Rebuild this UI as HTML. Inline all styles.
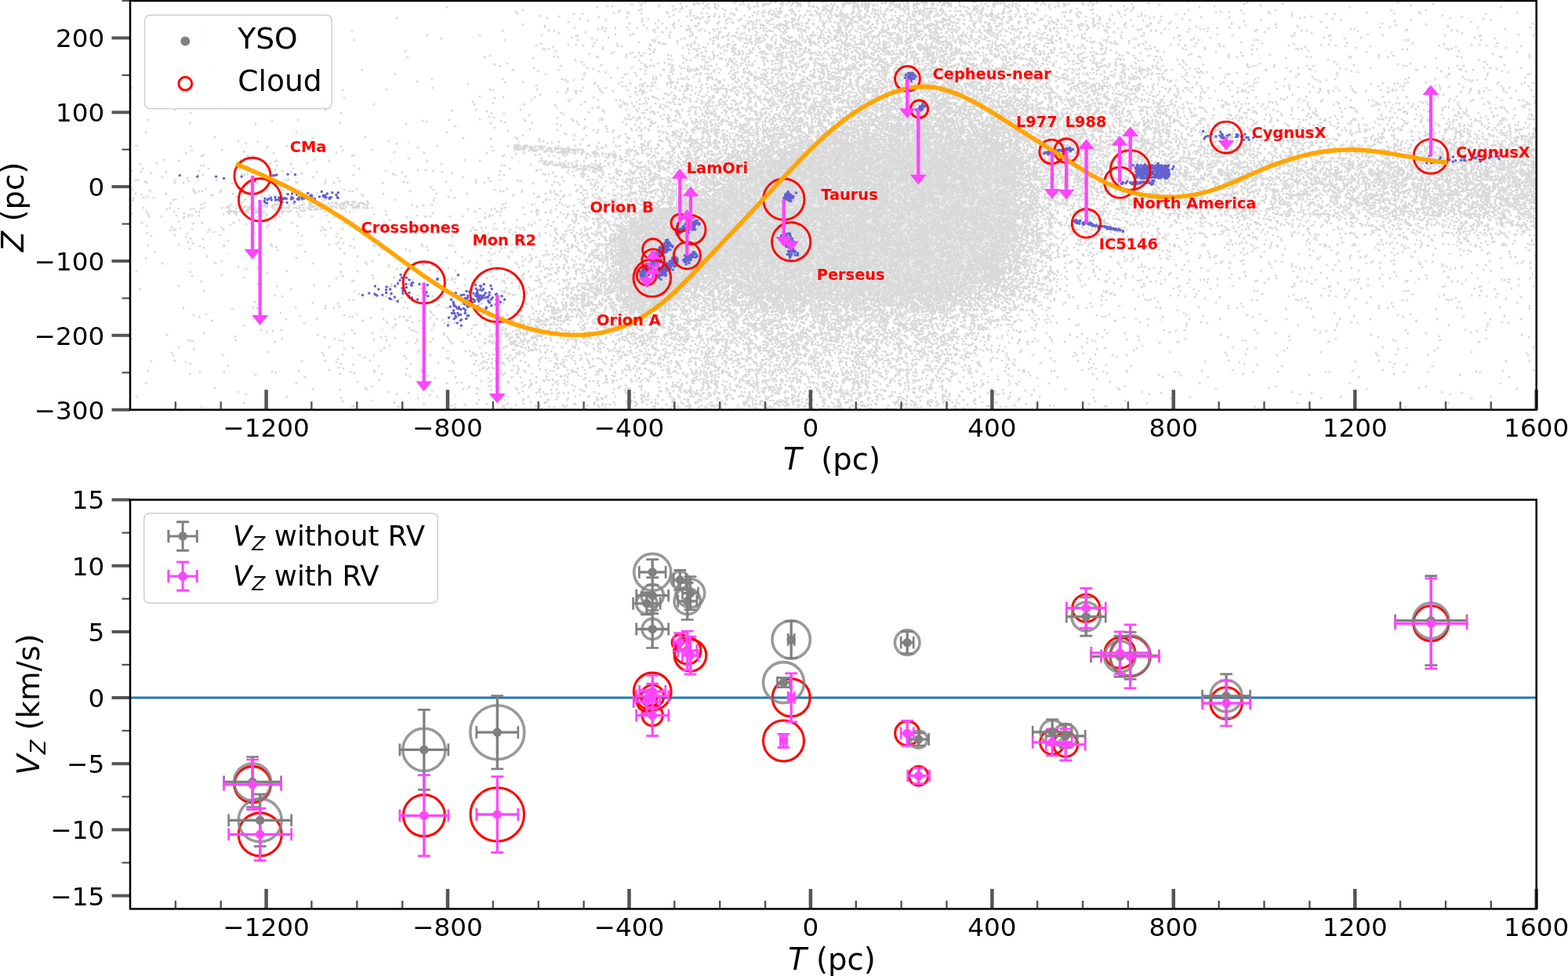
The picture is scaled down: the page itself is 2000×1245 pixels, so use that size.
<!DOCTYPE html>
<html><head><meta charset="utf-8"><title>YSO vertical waves</title><style>html,body{margin:0;padding:0;background:#fff;overflow:hidden}svg{display:block}</style></head><body>
<svg width="2000" height="1245" viewBox="0 0 2000 1245">
<rect width="2000" height="1245" fill="#fff"/>
<defs><clipPath id="clipTop"><rect x="166" y="1" width="1793.7" height="521.7"/></clipPath>
<path id="d0" d="M122 23h0m-57 16h0m96 6h0m-93 6h0m65 14h0m3 8h0m-58 16h0m42 6h0m28 9h0m-95 11h0m2 10h0m113-13h0m-141 18h0m24 14h0m104 10h0m34-1h0"/>
<path id="d1" d="M186 9h0m-150 36h0m143 4h0m-75 25h0m-49 8h0m13 23h0m99-4h0m-58 13h0m-78 26h0m62-7h0m-43 24h0"/>
<path id="d2" d="M82 15h0m30 5h0m37 8h0m25-2h0m-55 8h0m18 8h0m22 15h0m-117 16h0m89-1h0m-69 12h0m9-3h0m8 8h0m-58 18h0m87 2h0m33-8h0m-105 22h0m13-9h0m-48 27h0m28-8h0m16 9h0m148-1h0m-130 13h0m31 0h0m5-7h0m35 11h0m26-3h0"/>
<path id="d3" d="M5 1h0m86 12h0m-76 3h0m36 11h0m40 4h0m46-10h0m-120 23h0m36-12h0m115 26h0m-137 12h0m18 1h0m117 8h0m-162 13h0m16-5h0m153 0h0m-82 18h0m65-3h0m-50 22h0m52-8h0m1 0h0m-10 13h0m-113 23h0m31-7h0m-62 16h0"/>
<path id="d4" d="M162 -1h0m-90 8h0m67-7h0m-89 17h0m34 0h0m-17 21h0m48 7h0m4-12h0m38 2h0m-40 27h0m3 1h0m9-3h0m20-3h0m36 15h0m-186 11h0m106 4h0m34-3h0m52-1h0m-161 27h0m35-9h0m1 23h0m36 3h0m-49 5h0m-5 17h0m6 1h0m14 6h0m94 3h0m-23 1h0"/>
<path id="d5" d="M55 3h0m45 2h0m64 19h0m3-6h0m-122 17h0m79 4h0m7 0h0m28 7h0m-158 15h0m66 2h0m7-8h0m34 3h0m6-2h0m47-5h0m19 8h0m13 2h0m-178 5h0m16 7h0m139 20h0m18-2h0m-133 15h0m114-10h0m-155 20h0m29-4h0m70 9h0m22-4h0m-88 21h0m46 15h0m61-1h0"/>
<path id="d6" d="M47 13h0m-12 17h0m37-4h0m-72 11h0m32-2h0m160 2h0m-172 22h0m104 3h0m29-14h0m-106 19h0m19 17h0m44 7h0m59-9h0m-126 35h0m23 7h0m27-11h0m55 2h0m3 12h0m14-11h0m25 0h0m-165 18h0m13-3h0m37 2h0m6 3h0m7 4h0m-87 13h0m44-2h0m19 6h0m39 0h0m51-5h0m39 1h0"/>
<path id="d7" d="M32 15h0m19-10h0m10-4h0m51 16h0m16 5h0m28-4h0m-152 22h0m1-4h0m12 0h0m75-1h0m20 11h0m75-9h0m-179 11h0m53 15h0m3-12h0m118 4h0m-24 21h0m29-3h0m-98 12h0m31 2h0m1 7h0m15-5h0m45-1h0m-145 18h0m26 4h0m40 0h0m15-12h0m28 4h0m42 8h0m-41 8h0m13 1h0m-127 14h0m41 3h0m18-6h0m41 4h0m2 3h0m31-4h0m22-5h0m1 9h0m-53 13h0m5-6h0m-79 17h0"/>
<path id="d8" d="M13 8h0m8 7h0m114-9h0m36-4h0m-139 20h0m54-1h0m28 5h0m3-6h0m71 2h0m-111 19h0m5-5h0m33 6h0m27-5h0m29 4h0m-124 13h0m15 4h0m123-7h0m-9 18h0m-147 26h0m3-1h0m78-3h0m21-7h0m3 4h0m-76 22h0m45-9h0m17 10h0m18-13h0m-105 17h0m9 3h0m20-3h0m60 11h0m26-13h0m33 11h0m8-11h0m-132 19h0m11 0h0m107 11h0"/>
<path id="d9" d="M7 8h0m16 5h0m15-7h0m12 6h0m23-4h0m26 6h0m73-1h0m-167 12h0m129 4h0m13 1h0m-146 5h0m76 6h0m9 4h0m21-7h0m5-1h0m61 0h0m9-3h0m11 1h0m-192 28h0m18-7h0m6 3h0m42-6h0m5 1h0m6 2h0m23-6h0m68 13h0m24 0h0m-132 6h0m23 1h0m81 7h0m8-7h0m-118 14h0m1 1h0m34-2h0m36 1h0m16 7h0m9-2h0m14-3h0m-140 19h0m1-6h0m25 8h0m13-1h0m5-7h0m64 8h0m6 4h0m44-6h0m-182 13h0m47-2h0m50 10h0m11-14h0m84 6h0m-164 14h0m11 3h0m4-5h0m43 1h0m33 6h0m66 0h0m-126 15h0m73-7h0m10 1h0"/>
<path id="d10" d="M31 -1h0m-16 7h0m32-4h0m30-1h0m67 8h0m2 2h0m2-4h0m21-3h0m18 2h0m-170 20h0m17-9h0m17 7h0m8 0h0m9 6h0m24-1h0m16-8h0m28 5h0m-96 17h0m31-8h0m30-2h0m8 5h0m74-5h0m5 6h0m-127 18h0m48 0h0m67-6h0m-164 17h0m27-1h0m12 4h0m3-3h0m34 3h0m50 5h0m-96 17h0m13 1h0m3-8h0m125 6h0m-147 14h0m114-3h0m32 4h0m-131 10h0m5 1h0m74 5h0m42-8h0m-169 28h0m15-15h0m5 0h0m55 11h0m5-9h0m37-1h0m7-1h0m5 3h0m10 8h0m28-9h0m10 8h0m-154 18h0m5 3h0m9-9h0m37 2h0m9-2h0m62 2h0m22 0h0m-93 9h0"/>
<path id="d11" d="M6 4h0m24 7h0m19-4h0m41 1h0m4 3h0m7 0h0m1-2h0m19-5h0m15 6h0m18 1h0m3 2h0m-122 3h0m6 5h0m135 4h0m9 2h0m2 3h0m-156 2h0m3 6h0m23-2h0m11 5h0m79-4h0m-44 24h0m62 1h0m23-11h0m1 3h0m-153 14h0m11 9h0m74-6h0m-83 15h0m11 2h0m63 3h0m15-5h0m41 3h0m22 4h0m-179 6h0m33-3h0m5 5h0m20 0h0m42 8h0m23-7h0m-129 10h0m78 8h0m-27 20h0m2 0h0m4-3h0m4 6h0m46-2h0m23-2h0m37-7h0m1 6h0m-144 13h0m5-5h0m50 10h0m1-3h0m13-8h0m55 9h0m23-5h0"/>
<path id="d12" d="M145 -1h0m-37 9h0m36-3h0m4-4h0m33 5h0m-180 23h0m30-8h0m24-1h0m22 10h0m14-11h0m7 7h0m21-3h0m4 7h0m1 0h0m3-13h0m7 0h0m9 4h0m15 5h0m35 3h0m-157 4h0m85 0h0m23 6h0m2 7h0m12-10h0m14 6h0m10-6h0m2 9h0m-181 7h0m12-1h0m23-2h0m2 12h0m0 1h0m3-10h0m43-4h0m10 7h0m9-6h0m18 9h0m45 4h0m2-5h0m-161 10h0m2 6h0m54-7h0m20 9h0m4 1h0m22-8h0m17 8h0m13-10h0m-117 27h0m26-13h0m5 10h0m25-10h0m19 4h0m33 3h0m52-5h0m1 5h0m1 6h0m-160 17h0m22-1h0m37-12h0m3 7h0m18-4h0m3 7h0m17 4h0m38-13h0m6 6h0m7 7h0m9-12h0m-179 26h0m46-7h0m96-5h0m-150 25h0m23-3h0m26-2h0m14 10h0m2-1h0m30 0h0m18-4h0m14 2h0m17 2h0m48-4h0m-192 13h0m33 1h0m2-4h0m32 10h0m13-12h0m51 7h0m1-5h0m14 11h0m46-8h0m-43 10h0"/>
<path id="d13" d="M21 15h0m23-9h0m44-5h0m14 10h0m19-11h0m8 11h0m0-7h0m11-4h0m36 6h0m-177 22h0m6-1h0m36 0h0m9 2h0m0-5h0m21 0h0m42-8h0m56 3h0m17 11h0m5-2h0m-176 5h0m18-1h0m9 6h0m9-4h0m0-2h0m17 2h0m2 13h0m20-15h0m20 1h0m-74 15h0m0 9h0m13-3h0m11 8h0m58-9h0m2-5h0m28 12h0m7-1h0m29 1h0m6-11h0m-171 28h0m12-5h0m32 4h0m3-9h0m56 4h0m10-6h0m11 6h0m23-6h0m17 11h0m5-12h0m-67 25h0m4 6h0m6-11h0m1 10h0m11-4h0m1-1h0m17-7h0m18-1h0m-137 25h0m10 2h0m0 2h0m13-12h0m20 2h0m3 6h0m39 2h0m28 1h0m24-11h0m-134 23h0m14 5h0m19 0h0m7-5h0m19-1h0m19 1h0m39 4h0m8-13h0m7 0h0m11 7h0m-164 18h0m17-1h0m15-7h0m30 2h0m53 12h0m-95 11h0m114-10h0m9 4h0m4 9h0m-83 4h0m33-1h0m19 0h0"/>
<path id="d14" d="M13 -1h0m171-1h0m-182 11h0m11-4h0m2 1h0m22-2h0m10-1h0m61-2h0m5 12h0m4-8h0m1 1h0m6-1h0m8 3h0m39 3h0m23-2h0m-180 12h0m24 10h0m18-1h0m2-4h0m1-4h0m16-3h0m60 3h0m14-1h0m15-4h0m-160 28h0m6-9h0m16 11h0m4-2h0m14-9h0m19-3h0m24 8h0m62 0h0m7-6h0m13 11h0m-170 9h0m9-5h0m10 10h0m13 1h0m9-12h0m22 13h0m19-6h0m37-1h0m14 6h0m9-5h0m4-8h0m3 10h0m0-8h0m14 6h0m29-1h0m-186 16h0m21 7h0m9 1h0m95-7h0m12-3h0m-128 20h0m12 1h0m59-8h0m2 0h0m0 10h0m1-4h0m2 6h0m1-5h0m9 5h0m9-6h0m24-8h0m6 14h0m-136 9h0m24 7h0m3-1h0m35 0h0m10-13h0m8 12h0m14-7h0m11-3h0m64 7h0m-174 10h0m12 12h0m12-12h0m12 1h0m14 11h0m3-7h0m21 7h0m8-8h0m14 5h0m18 2h0m31-13h0m13 10h0m31 0h0m0-5h0m2 7h0m1-10h0m0 10h0m-181 3h0m3 11h0m10-11h0m22 12h0m69-11h0m2 7h0m17 7h0m44-11h0m-166 19h0m3 8h0m23-7h0m18-8h0m30 3h0m1 7h0m28-3h0m7 1h0m24-4h0m1 0h0m16 2h0m23 8h0m3-3h0m-79 6h0"/>
<path id="d15" d="M42 -1h0m-26 1h0m3 5h0m31 9h0m10-8h0m2-6h0m58 2h0m6 1h0m62 9h0m-168 15h0m3-1h0m6-9h0m1 3h0m29 10h0m13-5h0m25-1h0m2 3h0m1-10h0m13 2h0m9 3h0m3 2h0m7 4h0m27-3h0m7 3h0m1 1h0m15-9h0m7 7h0m-175 9h0m4 4h0m24-7h0m1-1h0m50 9h0m6 6h0m13-11h0m1 4h0m14-3h0m22 6h0m6 4h0m25-14h0m-182 20h0m11-4h0m0 13h0m25-1h0m13-13h0m5 5h0m44-1h0m17 7h0m22-3h0m3-6h0m4-2h0m25 12h0m3 2h0m13-13h0m1 6h0m5-5h0m1 3h0m-175 14h0m11 2h0m9 8h0m2-3h0m2 0h0m25-5h0m16-2h0m22 4h0m20-2h0m13 10h0m8-6h0m8 1h0m5-10h0m12 2h0m10 8h0m1 2h0m4-2h0m2-5h0m-152 19h0m14 5h0m3-5h0m21-5h0m18 8h0m32-3h0m14 6h0m45-4h0m-178 7h0m31 6h0m8 1h0m42 2h0m3-9h0m1 4h0m9 4h0m5-5h0m77 7h0m16-10h0m-172 30h0m4-14h0m2 9h0m15 2h0m1-11h0m20 10h0m25-5h0m19 8h0m1-13h0m18 1h0m14 9h0m34-6h0m-161 22h0m7 0h0m50 4h0m63-11h0m12 7h0m11 1h0m33-11h0m-178 18h0m5 9h0m25 3h0m0-12h0m6 4h0m63-5h0m11 10h0m4-3h0m10-4h0m0 1h0m4-5h0m9 12h0m27-13h0m2 4h0m7 6h0m2 4h0m1-7h0m-172 9h0m46 0h0"/>
<path id="d16" d="M5 -1h0m101 0h0m-101 8h0m19-4h0m14 4h0m51 6h0m26-6h0m14 0h0m1 1h0m9-1h0m1-3h0m4 2h0m5-5h0m17 0h0m13 2h0m-175 28h0m6 0h0m2-15h0m2 5h0m8 10h0m31-7h0m1 2h0m32 0h0m4 4h0m20 0h0m2-5h0m2-7h0m3 8h0m10 4h0m9-5h0m8-7h0m6 4h0m28 2h0m-155 15h0m11-2h0m16 10h0m37-2h0m3-12h0m0 5h0m22-1h0m36 10h0m3-6h0m27 2h0m3-1h0m-180 21h0m36-4h0m12 2h0m10-6h0m8 6h0m11-8h0m33 10h0m31-11h0m25 1h0m19 2h0m7 8h0m-190 15h0m11-6h0m3 2h0m2 4h0m5 0h0m8-2h0m2-7h0m17-3h0m0 12h0m22-14h0m21 3h0m2 1h0m12 9h0m5 0h0m15-5h0m4 7h0m21-4h0m21-10h0m6 4h0m-180 15h0m0-3h0m14 13h0m15-13h0m14 14h0m10-14h0m4 8h0m3 6h0m4-4h0m5-5h0m22-1h0m10 2h0m3-7h0m5 10h0m1-5h0m4 4h0m2 0h0m3 1h0m17-6h0m10-2h0m2 5h0m11-3h0m1-3h0m7 14h0m25-14h0m0 3h0m-187 26h0m41-10h0m1 11h0m39-6h0m2 2h0m8-1h0m28-5h0m10-2h0m6 0h0m32 6h0m-173 13h0m3 5h0m14 1h0m44-4h0m9 5h0m1-12h0m29 2h0m6 1h0m49 5h0m3 3h0m1-11h0m13 6h0m13-7h0m7 6h0m3 5h0m-189 13h0m31-7h0m43 5h0m5 2h0m13 6h0m23-12h0m4 7h0m24-3h0m5 3h0m2-3h0m9 5h0m2-2h0m8 3h0m-169 19h0m26-13h0m28 6h0m16-4h0m21-3h0m10 14h0m9-5h0m0 2h0m4 0h0m7-1h0m2-8h0m7-3h0m23 10h0m24-7h0m-33 14h0m17 0h0"/>
<path id="d17" d="M17 6h0m19 4h0m1 5h0m21-11h0m0 2h0m24 3h0m13 4h0m2-5h0m1 6h0m3 0h0m33-5h0m2 5h0m2 0h0m9-1h0m12-6h0m-159 13h0m13 0h0m13-2h0m25 9h0m0-3h0m35-3h0m3 6h0m12-7h0m9-1h0m11-1h0m5 0h0m30 3h0m3 9h0m2-7h0m31-3h0m-194 26h0m8-4h0m6-10h0m2 7h0m2 6h0m15-10h0m28 10h0m44-10h0m1 11h0m5-3h0m1-3h0m9 4h0m2 1h0m14-9h0m16 0h0m15 10h0m4 0h0m20 0h0m-180 8h0m4-6h0m4 9h0m5 6h0m19-4h0m3-7h0m14 5h0m33-2h0m1-5h0m20 10h0m13-3h0m16-2h0m19-5h0m-142 19h0m3-5h0m30 11h0m4-6h0m6 8h0m3-2h0m15 1h0m5 0h0m21-1h0m7 2h0m4-5h0m1 1h0m3-8h0m6 2h0m20 4h0m23-3h0m5 1h0m7 9h0m5 1h0m2-14h0m-181 22h0m9 2h0m7-1h0m36-8h0m5 12h0m9-1h0m4 3h0m1-10h0m1-1h0m8-1h0m17-1h0m7 7h0m11 1h0m3 4h0m23 0h0m13 1h0m2-3h0m2-6h0m6-2h0m-166 18h0m9-2h0m2-3h0m1 12h0m32 1h0m8-2h0m3 3h0m2 0h0m9-1h0m8-2h0m1-1h0m7 5h0m3-15h0m2 13h0m17-8h0m4 9h0m40-1h0m7 0h0m7 2h0m1-11h0m2 11h0m4-1h0m0-7h0m-154 10h0m8 1h0m7 4h0m4-4h0m19-1h0m4 0h0m3 12h0m2 0h0m1-7h0m7 1h0m16 3h0m1 0h0m1-10h0m4 15h0m21-8h0m29-5h0m7-1h0m3 9h0m11-5h0m-152 26h0m3-12h0m4 4h0m19 1h0m11 6h0m1-2h0m4-8h0m16 5h0m27 3h0m25-8h0m3 5h0m13 5h0m2-7h0m6-2h0m5-3h0m2 12h0m-154 10h0m1-8h0m2 12h0m6-11h0m3 9h0m10-1h0m8-4h0m28 7h0m21-4h0m4 4h0m13-6h0m20 4h0m13 1h0m7-9h0m13 10h0m9 2h0m18-11h0"/>
<path id="d18" d="M107 -1h0m10-1h0m8 0h0m-126 4h0m22 3h0m8-2h0m6 11h0m0-3h0m1-6h0m2-1h0m33-2h0m2 12h0m11-13h0m7 10h0m24-6h0m1 4h0m12 5h0m6-13h0m6 7h0m7 7h0m26-3h0m9-12h0m7 10h0m2-8h0m-170 16h0m4 2h0m18 10h0m3-2h0m8-10h0m7 2h0m2 9h0m10-10h0m9-1h0m5 5h0m5 7h0m13-1h0m1-9h0m3 11h0m6-8h0m5-2h0m6 5h0m3-10h0m9 9h0m0-3h0m9 5h0m12 0h0m0-10h0m10 1h0m-165 17h0m14 5h0m28-4h0m6 0h0m20 0h0m25 3h0m3 4h0m11-5h0m8 5h0m3-10h0m16 0h0m2 0h0m20 12h0m2-3h0m15 2h0m11-6h0m-183 11h0m2 5h0m12 7h0m1 1h0m2-4h0m2-7h0m5 11h0m9-1h0m1-9h0m7 1h0m3 9h0m1-9h0m5 0h0m5-5h0m4 0h0m7 1h0m1 1h0m8 5h0m4-5h0m17 10h0m7-8h0m0 9h0m3 2h0m9-4h0m10-6h0m22 8h0m8-4h0m0 3h0m13-11h0m3-1h0m-177 19h0m20 11h0m17 1h0m2-1h0m14-5h0m10-2h0m20 3h0m21 5h0m23-13h0m4 10h0m4-9h0m8 8h0m8 0h0m1-7h0m8-3h0m5 10h0m0 1h0m3-10h0m4 13h0m8-14h0m1 3h0m9-1h0m2 0h0m-176 15h0m10 0h0m7 13h0m0-14h0m4 3h0m2 10h0m18-14h0m4 5h0m5-2h0m13-3h0m27 12h0m7 2h0m17-12h0m1 6h0m13 2h0m25-9h0m5 11h0m-168 6h0m7-2h0m1 4h0m2 1h0m17 6h0m9 2h0m26 1h0m10-12h0m19 1h0m6 1h0m1 10h0m43-9h0m21-1h0m23-4h0m-186 24h0m10-4h0m3 4h0m20 7h0m7-15h0m2 10h0m11-1h0m7 1h0m1-2h0m26 7h0m0-14h0m2 13h0m11-2h0m1 0h0m20-7h0m8 4h0m6 6h0m13-15h0m8 2h0m13 7h0m7-2h0m2 7h0m-137 8h0m16-1h0m5 0h0m2-2h0m11 4h0m16 6h0m17-12h0m6 8h0m18-9h0m1 1h0m13 2h0m10 6h0m6 6h0m2-3h0m-162 15h0m4-11h0m6 7h0m9 4h0m27-11h0m4 6h0m27 1h0m8 3h0m3-6h0m13 11h0m10-1h0m3-12h0m5 12h0m23-5h0m1-3h0m4-6h0m5 3h0m25 4h0m-99 10h0m50 0h0m48-1h0"/>
<path id="d19" d="M141 -1h0m4-1h0m37 1h0m-175 16h0m8-1h0m12 0h0m16-13h0m13 2h0m1 5h0m20 0h0m31 0h0m10-6h0m14 3h0m4 9h0m8-4h0m20-10h0m-162 16h0m4 2h0m3 8h0m10 3h0m5-4h0m1-7h0m1 13h0m0-7h0m7-6h0m1 4h0m8-3h0m25 0h0m31-1h0m7 0h0m1 1h0m3 10h0m4-8h0m13 10h0m13-6h0m4-2h0m35-3h0m10 6h0m-188 6h0m19 14h0m2-7h0m4 1h0m3 4h0m15-11h0m2 13h0m15-9h0m14 8h0m2-1h0m12-3h0m9-3h0m7 1h0m19 2h0m10-1h0m6-3h0m3 0h0m5 0h0m30 5h0m7-10h0m1 2h0m7-2h0m-185 27h0m3-6h0m0-5h0m13 9h0m6-1h0m6 1h0m10-1h0m4 6h0m7-8h0m11 0h0m1 7h0m6-10h0m1 3h0m5 2h0m14-1h0m13-7h0m17 9h0m3-6h0m2 9h0m8 3h0m2-12h0m1 6h0m17-1h0m-129 16h0m4-4h0m3-4h0m3 6h0m12-5h0m7 8h0m3 4h0m6-2h0m2-9h0m5 8h0m8-5h0m2 1h0m3-3h0m32 3h0m18 4h0m5-2h0m4 1h0m2-3h0m7-1h0m8 9h0m1-3h0m5-5h0m1 5h0m6-6h0m0-3h0m-164 29h0m6-5h0m13-1h0m7-8h0m2 6h0m2-1h0m10 7h0m36 0h0m1-5h0m3 6h0m4-6h0m10 5h0m2-5h0m20-1h0m10-4h0m1 1h0m4 8h0m46 2h0m-185 4h0m10 7h0m2-4h0m7 1h0m3 0h0m7-3h0m5 8h0m2-2h0m5 1h0m8-6h0m21-4h0m26 4h0m2-3h0m2 0h0m2 1h0m2 11h0m4-3h0m4-7h0m9 5h0m12-6h0m0 2h0m15 5h0m15-4h0m4-3h0m15 8h0m-176 20h0m5 1h0m4-9h0m21 1h0m3-1h0m9-2h0m1 4h0m25-5h0m3-3h0m7 8h0m10-6h0m4 5h0m5-7h0m1 4h0m1-3h0m7 2h0m12 8h0m8-11h0m5 2h0m2 8h0m1 2h0m5-6h0m16-3h0m23 5h0m-175 20h0m3-6h0m5-6h0m7 1h0m6-1h0m4 13h0m5-1h0m16-3h0m3-5h0m6 1h0m13-1h0m1-3h0m7 14h0m10-10h0m2 0h0m5-3h0m5 12h0m22-1h0m2-7h0m2-3h0m2 5h0m3-5h0m0 4h0m15 6h0m14-7h0m4 6h0m9-1h0m1 2h0m1-7h0m1 3h0m-169 8h0m21 9h0m14 3h0m45-13h0m7 11h0m5 2h0m19-12h0m2 11h0m9 1h0m1-4h0m1 6h0m4-1h0m5-10h0m32 11h0m5-7h0m-144 9h0m121-1h0"/>
<path id="d20" d="M3 13h0m4-1h0m10 3h0m3-2h0m6-7h0m4 5h0m0-5h0m22 9h0m0-13h0m7 12h0m2-6h0m0-3h0m9-5h0m5 0h0m3 9h0m13 0h0m3-2h0m11-2h0m11 0h0m12 4h0m7 3h0m4-6h0m7 0h0m0 8h0m17-4h0m12-2h0m1-4h0m12 1h0m-159 16h0m14 6h0m2-7h0m25 9h0m7-9h0m8-1h0m9-3h0m6 7h0m17 6h0m13-8h0m16-1h0m7 11h0m35-6h0m0-5h0m-186 20h0m8-7h0m2 12h0m1-13h0m14 4h0m2-2h0m10 2h0m4 5h0m3-4h0m12 2h0m12 7h0m17 0h0m22-12h0m3 0h0m12 6h0m1 5h0m5 1h0m10-8h0m2 6h0m10-4h0m29-4h0m13 4h0m-191 17h0m2-2h0m1-4h0m2-1h0m4 3h0m3-2h0m8 10h0m1-12h0m5 7h0m8 2h0m4 2h0m6-12h0m3 9h0m2 1h0m2 3h0m1-9h0m0-1h0m16 12h0m3-5h0m23-10h0m7 2h0m14 13h0m2-13h0m1 9h0m2-1h0m5 1h0m4-2h0m23 4h0m28-4h0m-173 9h0m4 9h0m3-6h0m18 0h0m4-2h0m4 0h0m17 5h0m7-6h0m6 10h0m11-10h0m8 9h0m10 1h0m4-6h0m2 9h0m1-3h0m4-11h0m3 5h0m0 1h0m9 3h0m6-1h0m5 1h0m5-8h0m15 9h0m6-1h0m13-5h0m13-1h0m-173 14h0m0-1h0m19 8h0m0 2h0m2-4h0m15 8h0m12-9h0m1 5h0m4-3h0m27 0h0m1 6h0m13-1h0m5-9h0m4 4h0m4 5h0m1-6h0m2 2h0m3-8h0m25 2h0m1 1h0m10-1h0m1 7h0m2 5h0m9-11h0m1-3h0m5 11h0m5-9h0m-179 16h0m10-1h0m0 4h0m6 4h0m10-1h0m4 1h0m2 3h0m8 2h0m5 0h0m9-8h0m8-3h0m6-4h0m3 13h0m11-10h0m6-2h0m2-1h0m11 7h0m9-2h0m11-4h0m14 11h0m2-12h0m0 13h0m4-3h0m36-6h0m-161 24h0m2 2h0m6-14h0m22 2h0m15 13h0m12-2h0m2-9h0m17-3h0m4 1h0m12 13h0m21-3h0m4 1h0m3-10h0m2-2h0m6 0h0m10 10h0m10-2h0m11-2h0m3 2h0m-182 21h0m13-4h0m8-7h0m12-2h0m0-1h0m13 0h0m5 9h0m17 2h0m2-2h0m0 6h0m10-1h0m44-12h0m8 11h0m1-6h0m0-5h0m20 2h0m5 7h0m2-1h0m7 2h0m2-7h0m5-3h0m-165 25h0m24-4h0m8 5h0m5-9h0m4 7h0m2 3h0m3-4h0m13-8h0m2-1h0m12 11h0m11 1h0m22-12h0m18 1h0m1 10h0m7-10h0m2 4h0m23 5h0m3-8h0m0 8h0m15-9h0m-136 17h0m18-2h0m5 0h0"/>
<path id="d21" d="M23 -1h0m2-1h0m76 1h0m30 0h0m-132 12h0m1 2h0m1-7h0m5 5h0m11-3h0m1 2h0m7 4h0m24-2h0m3-6h0m18 8h0m2-10h0m5 4h0m3 6h0m4-3h0m6-9h0m2 0h0m1 8h0m14 3h0m15-10h0m8 0h0m4-1h0m0 6h0m10-6h0m2 7h0m9-3h0m1 9h0m7-1h0m13 0h0m1-1h0m2-8h0m3 10h0m2-9h0m0 3h0m3-1h0m4 3h0m1 2h0m1-7h0m-185 15h0m4-2h0m3 0h0m2 10h0m5-13h0m11 2h0m10 11h0m11-11h0m2 13h0m3 0h0m6-9h0m10-4h0m19 9h0m3-5h0m2 6h0m6 0h0m11-6h0m2 7h0m6-1h0m21 2h0m7-13h0m14 11h0m14-2h0m-171 9h0m1 4h0m4 1h0m7 6h0m14-14h0m0 7h0m3 2h0m2-9h0m1 8h0m18-8h0m2 5h0m2 4h0m12 6h0m9-13h0m4 6h0m9 6h0m10-5h0m1-2h0m2 3h0m3 1h0m4 4h0m2-9h0m1-2h0m2-4h0m40 9h0m3 1h0m2-8h0m5-2h0m2 10h0m-168 21h0m15-7h0m8-2h0m1-3h0m12-1h0m0 4h0m7-6h0m3 5h0m4 4h0m4-3h0m1 3h0m53-4h0m4 5h0m21-5h0m3 3h0m3 6h0m5-7h0m1 0h0m2-4h0m7 11h0m2-1h0m6 2h0m2-3h0m5 0h0m4-8h0m2 1h0m8-4h0m-190 19h0m0 2h0m14-5h0m1 13h0m0-1h0m1-3h0m15 2h0m2-11h0m1 6h0m5 0h0m10 8h0m7-14h0m5-1h0m11 3h0m4 9h0m0-3h0m1 2h0m14-1h0m13 3h0m24-1h0m9-8h0m8-2h0m1 8h0m4 0h0m5-4h0m6 0h0m2 6h0m1-1h0m4 4h0m24-11h0m0 2h0m-192 25h0m17-1h0m3-1h0m17 2h0m6-10h0m5-2h0m2 2h0m38-2h0m4 10h0m3-11h0m31 8h0m5-4h0m10-4h0m3-2h0m5 6h0m10-3h0m9 9h0m5-2h0m9 3h0m10 2h0m-189 13h0m1-10h0m8 9h0m5-6h0m0-5h0m17 10h0m4 0h0m0 4h0m13-14h0m1 6h0m2-6h0m8 15h0m0-15h0m1 7h0m2 1h0m3 0h0m2 6h0m10-1h0m9 2h0m11-10h0m0 6h0m7-2h0m1-3h0m11-2h0m5 10h0m1-3h0m17 2h0m10-12h0m7 4h0m3 3h0m0-8h0m1 1h0m4 11h0m8-7h0m8 9h0m4-9h0m1 2h0m0-1h0m7 6h0m-192 16h0m4 0h0m3-1h0m11-4h0m3-7h0m6 5h0m15 7h0m10 2h0m3-12h0m11 3h0m7-5h0m1 7h0m19 0h0m3 1h0m18-5h0m13-2h0m1 5h0m3 3h0m2-7h0m4-1h0m13 13h0m14-12h0m20 5h0m2 8h0m-159 5h0m2 5h0m11-7h0m1 1h0m1 5h0m3-1h0m0 4h0m4-8h0m9 0h0m11-3h0m3 8h0m1 2h0m3 3h0m12-3h0m24 3h0m5 1h0m1-5h0m22-7h0m12 0h0m5 12h0m0-14h0m7 0h0m3 0h0m16 12h0m3-9h0m-184 26h0m1-6h0m1-4h0m1 5h0m9-8h0m7 15h0m2-1h0m3-12h0m1 8h0m13-3h0m10-5h0m23-1h0m16 9h0m6 1h0m4 4h0m23-10h0m7 10h0m7-3h0m6-3h0m0-7h0m19 10h0m-29 6h0"/>
<path id="d22" d="M115 -1h0m37 0h0m-147 11h0m10-4h0m4 8h0m7 0h0m1-11h0m1 1h0m14 7h0m14-11h0m11 10h0m0 4h0m23-2h0m4-6h0m3 7h0m5-13h0m1 7h0m0-6h0m3-1h0m3 10h0m4 3h0m6-11h0m24 4h0m5 3h0m0-1h0m5-1h0m12-3h0m10 4h0m1-6h0m3-2h0m2 2h0m4-1h0m-181 29h0m3-7h0m0-5h0m2 4h0m3 3h0m5 5h0m3-12h0m0 13h0m6-11h0m0 7h0m10 3h0m12-11h0m3 5h0m5 1h0m5 2h0m2-6h0m2 7h0m12-7h0m1 10h0m0-6h0m9-8h0m3 13h0m6-9h0m13 0h0m3-5h0m4 2h0m3 1h0m8 6h0m2 2h0m2 1h0m2-8h0m4 0h0m5 8h0m0-6h0m3 7h0m14 1h0m2-10h0m6 1h0m2-3h0m0 6h0m1 4h0m10 3h0m5-3h0m1-1h0m-170 10h0m3 4h0m8-8h0m1 3h0m3-3h0m3 13h0m7-10h0m2 7h0m2 3h0m3-9h0m1 1h0m3 8h0m3-4h0m7-1h0m1-4h0m0 8h0m4-7h0m7 7h0m4 0h0m2 0h0m6-8h0m12 4h0m8 6h0m5-11h0m8 6h0m1 3h0m1 2h0m7-13h0m7-1h0m3 13h0m4-10h0m2 10h0m6-13h0m0 2h0m5 11h0m0 1h0m11-14h0m7 2h0m0 3h0m13 5h0m-180 7h0m8 1h0m3-3h0m3 14h0m1-4h0m6 3h0m4 2h0m3-13h0m3 4h0m4-6h0m3 13h0m1-11h0m3 11h0m7-1h0m0-12h0m2 6h0m15 9h0m1-11h0m1 3h0m10 3h0m4-9h0m5 7h0m4-3h0m0 9h0m5-1h0m5 1h0m3-10h0m3 8h0m7-4h0m4 1h0m1-7h0m12 11h0m0-6h0m1 1h0m5 2h0m13-3h0m1-7h0m10 9h0m1 5h0m1-9h0m2 2h0m14-3h0m1-4h0m1 1h0m-187 19h0m12 3h0m6 4h0m8-2h0m0-5h0m3 0h0m3-1h0m0 3h0m3 1h0m2-3h0m6 2h0m2 3h0m4-1h0m25-3h0m1-2h0m5 10h0m11-9h0m1-3h0m6 6h0m8 6h0m5-12h0m2 4h0m6 4h0m12 3h0m6-6h0m5 9h0m4-12h0m2 7h0m5 5h0m2-12h0m1 10h0m4-5h0m3 3h0m4-10h0m11 0h0m0 12h0m3-2h0m2-6h0m9-1h0m-194 12h0m7 9h0m2-3h0m8 7h0m6-5h0m6 0h0m2-3h0m0 4h0m7 1h0m7-3h0m25-5h0m10 7h0m5-9h0m6 5h0m0 8h0m5-9h0m6-3h0m9 2h0m2-3h0m8 7h0m2 6h0m8-10h0m0 4h0m14-4h0m3 7h0m6-8h0m9 8h0m3-6h0m20 2h0m6-6h0m-188 16h0m1 4h0m2 10h0m4-9h0m2 3h0m4 4h0m2 3h0m2 0h0m0-6h0m2 1h0m4-8h0m11-1h0m3 3h0m0 4h0m19 3h0m3-2h0m2-4h0m14-5h0m3 2h0m8 3h0m2 10h0m2-6h0m1-1h0m2 3h0m4 3h0m2 1h0m6-9h0m1 6h0m14 0h0m4 1h0m15 0h0m13 0h0m5-3h0m6-8h0m11 7h0m3 3h0m6-2h0m-186 8h0m7 9h0m12 4h0m6-11h0m2 10h0m6-3h0m0-7h0m2 6h0m3-3h0m12 1h0m18 3h0m1-5h0m1 2h0m3-6h0m18 8h0m5 2h0m15-12h0m6 10h0m6 3h0m13 0h0m12-9h0m6-1h0m4 8h0m1 3h0m6-8h0m1-3h0m15-1h0m7-1h0m2 1h0m2 0h0m-193 22h0m5-2h0m1-2h0m0-1h0m6 12h0m1-12h0m7 7h0m4-4h0m12 2h0m9-5h0m9 4h0m2 6h0m2 1h0m0-14h0m1 14h0m4-10h0m6 3h0m9 1h0m2-7h0m2 4h0m18-3h0m11 6h0m3-6h0m0 9h0m10-8h0m5 9h0m2 1h0m2-6h0m1-6h0m8 9h0m8-3h0m8-7h0m3 6h0m15 9h0m4-6h0m9-6h0m3 5h0m-182 15h0m1 2h0m1-6h0m2 2h0m9 6h0m1-3h0m13 4h0m0-12h0m4 1h0m3 8h0m10 4h0m8-12h0m20 10h0m0-5h0m3-6h0m1 14h0m6-10h0m7 5h0m18 6h0m1-10h0m6 6h0m8-6h0m22 6h0m0 4h0m10-8h0m-106 9h0m46 0h0m1 1h0m3-1h0m13 2h0m60-2h0m2 2h0m4-1h0"/>
<path id="d23" d="M177 -1h0m-172 5h0m1 0h0m8 7h0m3-4h0m1-4h0m3 11h0m4 1h0m2-3h0m0-3h0m1-9h0m2 3h0m2 8h0m3 0h0m1-1h0m3-5h0m0 6h0m3 3h0m7-2h0m0-1h0m4-5h0m1-2h0m4-3h0m3 12h0m23-6h0m4 5h0m5-2h0m13-5h0m1 3h0m6 7h0m2-15h0m2 12h0m0-1h0m26 0h0m2 0h0m1-6h0m3 0h0m4 9h0m1-2h0m6 1h0m9 1h0m9-10h0m1 8h0m3-3h0m-172 14h0m5 2h0m0 6h0m2-2h0m13-5h0m4 1h0m5-4h0m5-4h0m4 11h0m3-3h0m5 6h0m13-6h0m4-1h0m2-1h0m1-3h0m11-3h0m0 2h0m4 11h0m7-14h0m15 12h0m1-4h0m8 7h0m15-13h0m2 6h0m4-4h0m12 2h0m5-3h0m16 7h0m8-3h0m2 1h0m-187 17h0m10 4h0m3-1h0m5-2h0m4-1h0m8-7h0m3-2h0m1 7h0m2 3h0m9 5h0m5-5h0m6-1h0m15-2h0m1 8h0m10-11h0m1 11h0m0-5h0m2-8h0m2-1h0m4 11h0m6 2h0m5-10h0m1-3h0m2 0h0m3 12h0m3-7h0m6-6h0m30 14h0m4-11h0m2 11h0m2-7h0m7 7h0m4-6h0m1-3h0m2 4h0m5 2h0m2 2h0m3-10h0m8 11h0m0 1h0m5-6h0m-186 21h0m3-4h0m1 0h0m21 0h0m1 0h0m5-10h0m8 15h0m11-1h0m2-2h0m3-5h0m2 5h0m0 1h0m4-8h0m3 10h0m9-10h0m3-5h0m3 6h0m1-6h0m0 5h0m2 8h0m3-9h0m1-4h0m1 11h0m9-7h0m6 0h0m5-2h0m6 8h0m5-3h0m6-7h0m2 0h0m1 9h0m1 4h0m7-6h0m12-1h0m1 9h0m9-9h0m2 9h0m4-4h0m4 1h0m14-3h0m-188 13h0m2-1h0m2 9h0m2-13h0m0 8h0m1 2h0m6-5h0m2-4h0m3 4h0m11-6h0m3 0h0m0 2h0m2 0h0m1 6h0m3-3h0m0 8h0m2-1h0m3 2h0m1-3h0m4-10h0m3-1h0m3 1h0m3 11h0m7-9h0m3 4h0m2-2h0m4-3h0m6 2h0m10 0h0m8-2h0m7 1h0m6 1h0m10 0h0m1 8h0m2-2h0m9-10h0m10 4h0m1-4h0m1 4h0m5 3h0m7 7h0m3-12h0m7 3h0m4 7h0m4-11h0m5 5h0m11-2h0m1-2h0m0 2h0m1 2h0m2-1h0m2 9h0m-191 3h0m5 7h0m4 5h0m3-3h0m3-10h0m3 11h0m0 2h0m2 0h0m4 2h0m0-5h0m5-7h0m3 8h0m17-7h0m13 0h0m1 8h0m13 0h0m11-9h0m0-2h0m2 3h0m4 7h0m2 0h0m8 3h0m13-14h0m4 3h0m7 0h0m8-1h0m17 3h0m14 6h0m0-2h0m2-4h0m2-3h0m9 5h0m1-4h0m2 10h0m1 2h0m3-1h0m-188 4h0m4 4h0m9-4h0m6 4h0m1 5h0m2-8h0m9-3h0m5 1h0m7 1h0m0-2h0m17 12h0m11-6h0m1 8h0m13-11h0m12 6h0m14-2h0m2 8h0m1-1h0m1-9h0m3-5h0m1 1h0m4-1h0m2 10h0m6-4h0m2 8h0m1-5h0m11 0h0m1 2h0m2 0h0m9-6h0m5 5h0m4 0h0m11-1h0m3-3h0m7-1h0m5-3h0m-187 25h0m3-1h0m1 0h0m4 5h0m2-11h0m1 0h0m0 11h0m6-14h0m2 6h0m3-6h0m3 0h0m0 6h0m1-5h0m4 1h0m3 10h0m2-4h0m9 5h0m1 0h0m6-3h0m1-4h0m1 5h0m6-2h0m5-5h0m6 3h0m0-2h0m11-6h0m6 11h0m8-8h0m3 8h0m5-7h0m0 6h0m5-4h0m17 6h0m7-6h0m4 5h0m8-5h0m8 1h0m0-2h0m2 6h0m10 3h0m14-9h0m2 8h0m0-1h0m1 2h0m2-10h0m-191 25h0m10-13h0m12 0h0m1 1h0m3 13h0m1-9h0m2 1h0m4 3h0m8 1h0m5 5h0m13-14h0m0 3h0m8 1h0m13 3h0m0 7h0m2-3h0m7-7h0m2 5h0m6-10h0m3 2h0m3 7h0m9-6h0m14 12h0m2-13h0m1 12h0m13-3h0m2 1h0m4-8h0m0 9h0m1-13h0m6 6h0m5 6h0m7-2h0m6 0h0m4-7h0m0 6h0m14 2h0m1 2h0m-186 5h0m17 9h0m0-10h0m1 2h0m1 5h0m5-2h0m17-5h0m5 10h0m8-1h0m1-2h0m5 1h0m12 4h0m5-11h0m4 8h0m2-9h0m15-1h0m9 6h0m15-4h0m2 9h0m2 0h0m4-4h0m5-4h0m3 8h0m8-2h0m2-7h0m3 0h0m2 5h0m8 7h0m2-2h0m9 2h0m1 1h0m6-7h0m2-1h0m-157 9h0m30 1h0m57-1h0"/>
<path id="d24" d="M40 -2h0m45 1h0m71 0h0m25 0h0m-181 7h0m7 5h0m1-9h0m2 3h0m3-3h0m3 13h0m3-10h0m2 3h0m1 4h0m2 0h0m0 2h0m9-7h0m0-5h0m7 6h0m11-1h0m5 0h0m2 1h0m2-7h0m3 7h0m8 7h0m1-5h0m5 0h0m1-7h0m11 3h0m10-1h0m7 6h0m8 1h0m3-12h0m2 11h0m2 1h0m2-3h0m3 4h0m5-13h0m17 9h0m8 2h0m1-3h0m2-8h0m8 10h0m3-8h0m3-1h0m4 13h0m0-13h0m1 13h0m1-5h0m1-6h0m4 4h0m1 7h0m5-11h0m2 3h0m-173 20h0m2 4h0m1-7h0m6 5h0m3-6h0m1-1h0m13 3h0m4 1h0m3 6h0m1-5h0m6-8h0m1-2h0m8 5h0m3-2h0m15 9h0m8-5h0m9-4h0m2-2h0m1 12h0m6-1h0m8-11h0m1 10h0m9-6h0m2-1h0m4 4h0m1-6h0m7 8h0m2-1h0m0-2h0m8 4h0m1-10h0m1 3h0m13 5h0m1-4h0m4 4h0m1-6h0m5-1h0m1 9h0m0-1h0m6 4h0m0-13h0m-178 30h0m4-15h0m4 6h0m2-4h0m4 10h0m4-11h0m5 0h0m1 13h0m4 1h0m3-2h0m4 1h0m2-3h0m1-10h0m13-1h0m5 6h0m13-6h0m2 0h0m0 8h0m2-7h0m1 1h0m0-1h0m2 14h0m9-14h0m14-1h0m9 5h0m4 4h0m1 3h0m7 0h0m2-8h0m0 4h0m3 5h0m1-2h0m11 0h0m16 0h0m2-6h0m3-4h0m1 2h0m0 4h0m2 0h0m2-4h0m5-1h0m1 10h0m-175 9h0m6 7h0m3 1h0m8-1h0m0-10h0m0 13h0m6-1h0m2-1h0m1 1h0m4-1h0m3-1h0m19-4h0m7 6h0m7-14h0m2 9h0m1 1h0m3-6h0m11 2h0m3 8h0m6-1h0m11 0h0m2-13h0m5 4h0m3 3h0m1 1h0m2-4h0m4 4h0m5 4h0m3-4h0m4 5h0m1-12h0m13 4h0m0-1h0m18 3h0m7-1h0m1 4h0m-172 14h0m2-4h0m6 3h0m18-4h0m0-3h0m9 9h0m10-2h0m0 3h0m4 4h0m1-8h0m6 5h0m6 0h0m5-7h0m5 10h0m1 0h0m10-5h0m1-2h0m7 5h0m4-6h0m2 4h0m2-8h0m2 5h0m0 3h0m8 0h0m3-3h0m22-1h0m1 6h0m1-1h0m11-3h0m1-4h0m8 7h0m2-9h0m1 7h0m3 6h0m4-13h0m3 2h0m2-1h0m5 12h0m4-15h0m-185 22h0m3 8h0m4-1h0m8-4h0m1-7h0m7 12h0m6-6h0m1-3h0m9 9h0m3-14h0m22 11h0m14 3h0m0-10h0m2 2h0m2 4h0m3-2h0m1 3h0m0-10h0m5 11h0m0-1h0m5-7h0m1 3h0m6-7h0m1 12h0m13-5h0m13 1h0m4 3h0m25-3h0m4 4h0m4-6h0m3 0h0m6-2h0m12 4h0m1 7h0m2-12h0m1 3h0m0 9h0m3-1h0m-195 13h0m4 1h0m1 0h0m13-6h0m7 4h0m2 4h0m0-6h0m6-5h0m0-3h0m25 11h0m1-2h0m8 0h0m3 0h0m2 2h0m3-4h0m1-1h0m2-4h0m2 8h0m1 4h0m0-12h0m8 9h0m12 3h0m17-4h0m3 1h0m13 2h0m0-5h0m2 1h0m18 0h0m2-7h0m6 3h0m4 6h0m4 3h0m1-8h0m2 7h0m7 0h0m1-5h0m11 3h0m4 1h0m-196 7h0m2 1h0m7 6h0m2 2h0m1 0h0m4-4h0m0 4h0m5-2h0m1-9h0m8 9h0m9-2h0m2 2h0m2-1h0m10 2h0m0-5h0m4 2h0m9 5h0m6-7h0m5-2h0m5-4h0m9 13h0m1-10h0m4 7h0m0-7h0m10 12h0m2-12h0m4 6h0m12-4h0m7-4h0m8 4h0m4-5h0m1 5h0m1 3h0m3 7h0m0-15h0m10 4h0m14 6h0m1 3h0m7-10h0m12 0h0m2 1h0m-193 18h0m15 1h0m3 7h0m1-14h0m3 14h0m16-12h0m5 5h0m1-5h0m4 8h0m1-7h0m5 1h0m1 3h0m2 5h0m4 3h0m8 0h0m0-7h0m10-5h0m1 7h0m6 5h0m1-7h0m5-7h0m1 0h0m2 3h0m1 11h0m1-11h0m13 9h0m2-2h0m11-3h0m4 0h0m1 0h0m3-5h0m7 2h0m19 1h0m3 5h0m3-6h0m2 3h0m1 2h0m6 5h0m0-14h0m0 11h0m2-1h0m5 0h0m2-9h0m0-2h0m3 4h0m2-2h0m1 1h0m5 3h0m-193 12h0m2 6h0m0-3h0m6 1h0m0 2h0m4-5h0m3-2h0m5 4h0m1 1h0m6 1h0m2-2h0m7 0h0m6 9h0m2-7h0m9-5h0m2 5h0m1 2h0m3-8h0m2 11h0m2-3h0m2-2h0m7 0h0m6 2h0m9 6h0m6-14h0m0 6h0m8-6h0m2-1h0m9 13h0m12-8h0m1-2h0m13 7h0m9-10h0m4 0h0m7 15h0m6-2h0m2-8h0m6 8h0m1-11h0m5 1h0m1 6h0m2-8h0m2 14h0m4-9h0m4 2h0m1-6h0m2 3h0m0 3h0m-184 10h0m52-1h0m57-1h0m14 0h0m28 0h0m11 2h0m3-1h0m4 0h0"/>
<path id="d25" d="M70 -1h0m69 0h0m-136 6h0m10-5h0m1 8h0m5-5h0m0 9h0m4 1h0m0-6h0m5 7h0m3-3h0m1-7h0m6-3h0m1 11h0m2-11h0m0 8h0m7-8h0m1 7h0m6-5h0m2 6h0m9 1h0m0-10h0m8 3h0m1-2h0m0 4h0m12-1h0m2 2h0m4-2h0m1 7h0m0 3h0m9-8h0m2 3h0m1-5h0m0 3h0m6 1h0m2-5h0m1-1h0m3 2h0m1 2h0m2 5h0m5-6h0m5 3h0m5-8h0m12 14h0m10-12h0m2 0h0m16 1h0m4 0h0m0 12h0m6-10h0m0-2h0m1 4h0m-188 17h0m4 6h0m15-5h0m9-3h0m4 4h0m3 3h0m12-8h0m1 4h0m1 1h0m12 2h0m2-11h0m1 2h0m1 5h0m7 3h0m3-2h0m1-7h0m6 3h0m5 5h0m3-8h0m4 10h0m8-10h0m2 13h0m2-3h0m1-11h0m2 6h0m5 4h0m12-2h0m1-3h0m4-2h0m5-3h0m13 2h0m1 2h0m0-5h0m0 13h0m4-11h0m1-1h0m10 0h0m5 14h0m4-13h0m1-2h0m3 8h0m2-8h0m4 3h0m2 1h0m2-1h0m1 7h0m3-2h0m-192 21h0m4 1h0m1-8h0m2-1h0m3 9h0m1 1h0m2-15h0m0 9h0m3-2h0m4 7h0m0-9h0m1-5h0m1 15h0m21-12h0m8 6h0m3 2h0m0 2h0m1-9h0m0-3h0m4 10h0m0-3h0m0 4h0m2-12h0m1 11h0m6-9h0m0 8h0m0-5h0m1 4h0m6 0h0m0-1h0m2-3h0m28-3h0m2 13h0m2-7h0m4-3h0m3-1h0m3 11h0m1-15h0m3 10h0m13-7h0m4 2h0m5 8h0m12-13h0m1 12h0m1-12h0m1 9h0m3-5h0m8 1h0m3 2h0m2 2h0m6-1h0m3-4h0m3 9h0m4 0h0m-191 10h0m0-1h0m4-6h0m0 12h0m1-1h0m3-6h0m0 4h0m4 5h0m1-13h0m0 4h0m0-1h0m1 0h0m2-4h0m4 5h0m13 6h0m2-6h0m0 4h0m8-8h0m3 8h0m1-3h0m3 7h0m5-2h0m1-1h0m1-5h0m1 10h0m10-7h0m3-6h0m11 9h0m10 1h0m0-5h0m5-1h0m6 2h0m13 4h0m5 0h0m9 3h0m5-10h0m2 1h0m4 5h0m4 3h0m4-3h0m0 2h0m1-9h0m0 10h0m7-10h0m1 0h0m2 9h0m5-3h0m0 4h0m2-10h0m6 1h0m3 6h0m4-7h0m1 3h0m7 6h0m0-5h0m4-1h0m0-1h0m-188 13h0m2 11h0m1-13h0m2 10h0m9 3h0m1-1h0m0-1h0m2-3h0m1-8h0m2 7h0m0 4h0m1 1h0m2-4h0m1-4h0m14-5h0m4 15h0m0-12h0m4 3h0m2 6h0m4 2h0m5-5h0m15 0h0m7 5h0m7 0h0m2-8h0m2 4h0m1 1h0m1-5h0m9-3h0m11 3h0m7-2h0m8 0h0m3 2h0m9-5h0m0 12h0m0-10h0m2 8h0m0 2h0m6-12h0m6 5h0m5 9h0m5-14h0m2 4h0m8 4h0m3-9h0m7 3h0m0 7h0m1 4h0m0-6h0m-189 23h0m3-2h0m1 2h0m6-2h0m1-9h0m1 7h0m2-8h0m2 3h0m0-4h0m4 6h0m2-6h0m2 8h0m1 1h0m14-10h0m2 14h0m11-8h0m1 8h0m10-9h0m9-4h0m8 3h0m5-3h0m2 9h0m6 1h0m1-3h0m3-9h0m9 15h0m1-6h0m4 2h0m4-5h0m5 6h0m3-7h0m0-2h0m1 2h0m2 9h0m2-10h0m4 3h0m3 1h0m6 6h0m10-3h0m4-2h0m4 2h0m9-3h0m1-1h0m3 8h0m0-15h0m18 10h0m2 5h0m-192 14h0m1-8h0m1-3h0m0-1h0m2 10h0m4-4h0m1 0h0m2-1h0m3-5h0m2 2h0m0 7h0m13 0h0m2 2h0m4-10h0m9 8h0m1-9h0m0 2h0m4 11h0m5-6h0m2 7h0m2-8h0m2-5h0m6 5h0m6 4h0m14-6h0m0 7h0m4 0h0m8-4h0m5-1h0m1-1h0m8-4h0m1 1h0m2-3h0m2 3h0m0 6h0m1-8h0m3 14h0m5-9h0m11 9h0m1-14h0m8 7h0m5-5h0m2 1h0m5-3h0m2 8h0m1 4h0m3-6h0m16-4h0m11 12h0m1-2h0m1-8h0m1-3h0m0-1h0m-186 18h0m0 9h0m0-3h0m3 1h0m2 0h0m1-1h0m1 5h0m3-14h0m1 6h0m5 0h0m8 6h0m0-5h0m6 8h0m4-6h0m3-9h0m6 0h0m7 12h0m0-6h0m5 7h0m6-6h0m0-5h0m1 8h0m1 2h0m3 2h0m1-8h0m1-4h0m0 3h0m7 2h0m3-1h0m5 3h0m10-5h0m7 8h0m5 1h0m4-6h0m3-6h0m7 5h0m7 2h0m5 0h0m3 0h0m2 7h0m0-12h0m3 11h0m7-4h0m0-5h0m2 0h0m4 1h0m1 4h0m1 4h0m3-14h0m2 0h0m1 9h0m3 6h0m2-2h0m7 1h0m6-6h0m-182 12h0m3 6h0m2-2h0m1-6h0m7 13h0m3-10h0m5 7h0m3 3h0m2-2h0m1-8h0m0-5h0m8 0h0m3 6h0m0-6h0m1 8h0m4 3h0m5-6h0m1-2h0m2 2h0m6 5h0m5 4h0m0-11h0m3 7h0m3 2h0m5-1h0m2-5h0m4 2h0m2 4h0m4-11h0m1 7h0m3 4h0m2-11h0m1 7h0m5 4h0m2-1h0m2-9h0m2 10h0m2 2h0m6-12h0m0 9h0m1-7h0m1-3h0m7 6h0m3 8h0m5-15h0m1 5h0m1 3h0m10 6h0m1-14h0m7 15h0m2-3h0m0-5h0m12-1h0m1-3h0m4 5h0m2 7h0m9-11h0m2 1h0m1-1h0m4 11h0m-182 9h0m0 4h0m4-9h0m15-1h0m4 2h0m7 1h0m10 3h0m2 1h0m4-1h0m9 3h0m0-4h0m6-3h0m2 3h0m1 8h0m17-3h0m2 2h0m7-14h0m11 7h0m1 3h0m2 4h0m2-9h0m4-4h0m7 2h0m2 0h0m0-2h0m11 3h0m3 11h0m1-1h0m14-1h0m5-8h0m5-2h0m3-1h0m1 5h0m2-2h0m3 2h0m0-3h0m8 0h0m3 9h0m4-6h0m-175 9h0m25 1h0m3 0h0m7 0h0m18-1h0m9 1h0m40 1h0m21-2h0m22 2h0m2 0h0"/>
<path id="d26" d="M51 -1h0m47 0h0m9 0h0m2-1h0m-111 14h0m5-8h0m2 1h0m1 7h0m5-10h0m1 2h0m11 1h0m13-1h0m0 8h0m4 3h0m3-4h0m2 0h0m1-11h0m1 5h0m4 2h0m4 8h0m1 0h0m6-2h0m1-3h0m2 4h0m1-12h0m6 4h0m4-4h0m0 4h0m7 7h0m1-1h0m9-7h0m0 9h0m1-5h0m8-2h0m0 8h0m5 0h0m7-7h0m8 7h0m5-14h0m7 10h0m3-6h0m1 0h0m1 8h0m2-13h0m1 14h0m5-7h0m1-4h0m1 12h0m2 0h0m0-15h0m4 12h0m2-10h0m0-2h0m0 12h0m1 0h0m0-10h0m3 4h0m7 8h0m13-12h0m8 3h0m0 8h0m1-1h0m-186 7h0m2 5h0m0-2h0m1 6h0m6 0h0m2-3h0m9-3h0m1-5h0m0 13h0m13-6h0m4 6h0m1-14h0m5 11h0m1-7h0m3 7h0m1 4h0m2-8h0m1-7h0m5 8h0m3 3h0m4-5h0m8 2h0m1-1h0m0-2h0m3 8h0m0-4h0m1 6h0m0-8h0m7-4h0m0 6h0m2-4h0m1 7h0m6-4h0m1 2h0m4-4h0m3 8h0m2-7h0m6 7h0m3-1h0m1-4h0m4 4h0m2-7h0m4 4h0m0-3h0m3 2h0m2-3h0m3-6h0m4 2h0m2 12h0m1-6h0m1 4h0m4-1h0m3 2h0m2-12h0m9 2h0m2 8h0m13 0h0m13-1h0m-188 16h0m4 0h0m3-8h0m0 3h0m1 2h0m1-4h0m8 3h0m4 1h0m1 1h0m12-4h0m3 7h0m5-3h0m0 4h0m1-9h0m6-1h0m0 12h0m1-13h0m8 10h0m4-10h0m3 4h0m2 8h0m0-1h0m2-8h0m8 2h0m2-1h0m1-1h0m0 6h0m1 0h0m9 3h0m0-5h0m2-3h0m2 5h0m6-1h0m2-4h0m3 7h0m5-5h0m14-3h0m2 8h0m1-8h0m1-4h0m0 8h0m1-3h0m3 10h0m1-11h0m2 7h0m3-6h0m0 5h0m1 3h0m6-3h0m1 3h0m6-5h0m7 1h0m2-1h0m4-1h0m0 3h0m2-7h0m2 12h0m0-2h0m1-13h0m3 1h0m1 12h0m1-5h0m2 7h0m1-2h0m6-9h0m1 4h0m2 4h0m5-2h0m-193 7h0m0 4h0m4 2h0m9 2h0m7 0h0m3-9h0m1 14h0m0-14h0m2 2h0m2 0h0m5 0h0m0 2h0m1-2h0m0 4h0m2-3h0m0-1h0m1-1h0m5 14h0m0-15h0m4 1h0m1 11h0m3 0h0m5-5h0m6-5h0m1 10h0m0-2h0m1 1h0m7-3h0m5 5h0m1-8h0m3 7h0m3 1h0m1-13h0m8 12h0m5-1h0m2 3h0m12-1h0m7-3h0m9-8h0m9-2h0m3 4h0m1-1h0m2 12h0m0-11h0m1 10h0m0-12h0m2 11h0m4-2h0m3-3h0m2-7h0m11 12h0m2-9h0m1-4h0m2 1h0m8 3h0m10-4h0m3 9h0m2-8h0m0 4h0m-189 26h0m6-1h0m2-9h0m1 2h0m0 7h0m1-1h0m2-8h0m1 0h0m2 3h0m5-1h0m4-6h0m1 12h0m2 0h0m2-12h0m3 12h0m10-10h0m7 11h0m1-6h0m3 2h0m7 4h0m2-1h0m11-2h0m2-10h0m1 14h0m1-4h0m5-7h0m1 2h0m0-6h0m10 10h0m12-5h0m1 8h0m11 0h0m0-5h0m7-5h0m6 10h0m0-6h0m7-6h0m14 13h0m8-9h0m5-5h0m3 0h0m6 15h0m1-4h0m0 4h0m6-13h0m3 3h0m0 4h0m-185 15h0m2-3h0m4 2h0m8-4h0m8 10h0m4 2h0m1-3h0m0 3h0m10-3h0m14-2h0m0-6h0m5 9h0m6-6h0m0-2h0m7-5h0m1 10h0m4-9h0m2 12h0m3-10h0m3 3h0m0-3h0m5 12h0m2-14h0m1 5h0m11 7h0m6-12h0m5 4h0m9 8h0m9-5h0m2-3h0m5-5h0m7 8h0m3-6h0m4-2h0m15 14h0m3-4h0m0 4h0m7-3h0m2 4h0m5-15h0m1 14h0m0-10h0m2-2h0m6 6h0m-195 15h0m5 3h0m1 2h0m2-4h0m5-1h0m8-2h0m0 7h0m7-2h0m6 1h0m20-10h0m0 12h0m2-5h0m1 1h0m9 3h0m4-4h0m2-4h0m0 4h0m0-6h0m7-2h0m7 14h0m2 0h0m1-2h0m5 1h0m8 2h0m1-15h0m9 13h0m3-5h0m5 4h0m2-3h0m3-1h0m1 3h0m2-1h0m2-6h0m1 2h0m2-5h0m1 1h0m4 9h0m6 0h0m0-7h0m6 11h0m4-11h0m2 4h0m1-5h0m1 6h0m1 3h0m2 2h0m2-4h0m1-4h0m3 3h0m5 0h0m2-9h0m1 4h0m1 4h0m10 1h0m3-7h0m3 5h0m-192 11h0m1 2h0m3-2h0m7-2h0m11 8h0m19-6h0m2 12h0m7-11h0m4 11h0m2-7h0m0-7h0m2 3h0m3 3h0m2-5h0m4-1h0m4 13h0m4-2h0m3-1h0m5-6h0m5 4h0m2-8h0m0 13h0m7-2h0m6 0h0m0-5h0m2 6h0m2-3h0m2-5h0m2 10h0m1-1h0m5-7h0m7 0h0m0 4h0m2 2h0m1-7h0m1-5h0m5 11h0m1-10h0m9-1h0m0 9h0m3-8h0m8-1h0m1 11h0m1-7h0m4 4h0m4-8h0m2 6h0m13 9h0m3-11h0m0-1h0m10-1h0m1 2h0m-181 25h0m1-8h0m0 7h0m5 0h0m4-11h0m1 5h0m0 6h0m3 1h0m13-3h0m3 1h0m4-8h0m2 0h0m0 9h0m2-4h0m3 1h0m1-8h0m1 0h0m3 3h0m2 1h0m4-2h0m1 6h0m2-4h0m7 9h0m1-2h0m7-12h0m7 4h0m4 5h0m0-5h0m0 2h0m4-5h0m3 9h0m1 0h0m1 5h0m1-11h0m6-4h0m2 11h0m4 2h0m4 2h0m2-15h0m2 4h0m1 1h0m0-4h0m5 1h0m1 13h0m5-15h0m1 5h0m3-4h0m1 0h0m2 5h0m3 6h0m0-1h0m0-1h0m0-10h0m7 10h0m7-2h0m1-3h0m1 4h0m6 5h0m0-1h0m2-6h0m7 7h0m1 0h0m3-12h0m3 1h0m9 9h0m-185 18h0m8-12h0m4 8h0m2-9h0m4 2h0m4 1h0m2 7h0m1-9h0m2 0h0m0 9h0m2-9h0m10-1h0m2 10h0m5 4h0m3-11h0m7 2h0m5-2h0m3-4h0m6 12h0m1 0h0m0-5h0m4-4h0m7-3h0m11 15h0m9 0h0m1-9h0m1 8h0m3-5h0m4-1h0m3-4h0m2 7h0m0-3h0m27 6h0m0-5h0m3-6h0m7 2h0m4 6h0m2 0h0m2-4h0m6-1h0m6 7h0m1-9h0m2 2h0m1-1h0m5 7h0m-141 4h0m20 2h0m61-1h0m14-1h0m10 0h0m6 0h0m0 2h0m24 0h0"/>
<path id="d27" d="M4 -2h0m18 0h0m3 1h0m63 0h0m25 0h0m22 0h0m12 0h0m-147 2h0m1 8h0m6 3h0m0-5h0m1-2h0m5-2h0m6 11h0m2-12h0m3 0h0m0 8h0m14-6h0m2-2h0m2 8h0m2 4h0m6-9h0m2 0h0m5-4h0m2 11h0m0-7h0m2-1h0m13 6h0m0-2h0m7-7h0m1 13h0m2-14h0m2 14h0m2-8h0m4-3h0m2-1h0m2 10h0m1-1h0m0-1h0m4-8h0m1 12h0m1-3h0m3-7h0m6-4h0m6 11h0m4-1h0m3-1h0m11 3h0m5-1h0m0 4h0m1-8h0m1 0h0m1 6h0m3-6h0m4 3h0m2-10h0m0 11h0m2 4h0m3-6h0m6-1h0m0-1h0m2 8h0m4-1h0m0-10h0m4 4h0m1 7h0m5-7h0m0-3h0m9 9h0m3-13h0m1 8h0m-192 14h0m0-6h0m6 1h0m16 4h0m15-6h0m3 6h0m1 4h0m10-3h0m0 2h0m5-1h0m1 0h0m6-4h0m2 9h0m3-11h0m0 8h0m3-4h0m4-2h0m5 6h0m2-4h0m1-5h0m4 5h0m10 1h0m4-4h0m2-3h0m1 5h0m2-4h0m2 6h0m8-1h0m3-3h0m0 7h0m0-5h0m0 4h0m1-8h0m1 8h0m0-3h0m4-3h0m2 3h0m3-6h0m5 12h0m3-4h0m7-2h0m16 3h0m2 3h0m2-7h0m3-2h0m6 2h0m0-1h0m1 8h0m3-9h0m4 3h0m0-6h0m10 1h0m0 6h0m-190 9h0m0 2h0m2 5h0m1-2h0m5 0h0m1 5h0m3-8h0m2 11h0m2-5h0m1-5h0m3 3h0m11-2h0m1 11h0m1-3h0m1-4h0m4-2h0m8 6h0m2-2h0m2 1h0m7-2h0m5-3h0m2-4h0m3 11h0m0-12h0m1 2h0m2 11h0m6-5h0m0 6h0m3-12h0m3 10h0m2-8h0m2 9h0m5-6h0m5 5h0m1-8h0m1 7h0m0-1h0m1-10h0m1 0h0m3 0h0m1 11h0m6-3h0m2 4h0m6-8h0m1-3h0m2 3h0m2 10h0m2-2h0m1-1h0m4 2h0m3-4h0m8-7h0m0 8h0m1-2h0m2 3h0m6-8h0m3 9h0m5-8h0m0 7h0m0-5h0m11 5h0m5-6h0m1 5h0m5-10h0m0 2h0m0 8h0m2-11h0m3 1h0m-187 21h0m3-2h0m4 1h0m3-2h0m2 9h0m2-1h0m3-7h0m5 10h0m2-13h0m5 11h0m2-12h0m8 7h0m1 0h0m4 6h0m1-11h0m1 13h0m2-12h0m3 8h0m3-11h0m1 3h0m2 11h0m4-11h0m2 1h0m2 0h0m17-2h0m1 8h0m3-3h0m1 5h0m4 0h0m5-4h0m1-5h0m8 5h0m1 7h0m1-2h0m0-10h0m1 4h0m0-2h0m1 0h0m2-5h0m4 13h0m3-10h0m6 10h0m1-7h0m2-3h0m2-2h0m2 1h0m6 2h0m10-2h0m0-1h0m1 1h0m2 4h0m8 1h0m11 7h0m1-4h0m7-2h0m5-2h0m6-2h0m1 3h0m3-1h0m-194 12h0m0 7h0m1-9h0m3 3h0m2 10h0m1-1h0m4-11h0m1 3h0m5 9h0m2 0h0m4-5h0m2 0h0m3-7h0m1 13h0m4-13h0m4 9h0m2 3h0m1-7h0m4 1h0m1 1h0m2 2h0m1-10h0m1 12h0m6 1h0m2-12h0m1 11h0m3-2h0m13-10h0m1 4h0m1 2h0m1-6h0m3 6h0m6 7h0m16-12h0m2 0h0m1 9h0m2-10h0m2 5h0m2-4h0m7 1h0m1 7h0m3-3h0m0 9h0m2-1h0m7-4h0m0-5h0m3-1h0m7 6h0m1-7h0m20-3h0m1 3h0m3 2h0m1 8h0m3-8h0m1-1h0m2 10h0m6-8h0m6 0h0m2-3h0m5-1h0m0 7h0m1-9h0m-188 25h0m3-7h0m2 6h0m9 4h0m2-9h0m1 3h0m0-5h0m2 3h0m1 2h0m1-5h0m1 10h0m6-6h0m1-1h0m1 9h0m1-5h0m0 2h0m2 0h0m8 4h0m1-10h0m6-4h0m6 7h0m1 7h0m9-12h0m16 0h0m0 12h0m1-12h0m6 7h0m3-8h0m7 7h0m1 0h0m2-7h0m4 3h0m4-1h0m0 6h0m5-7h0m2 0h0m2 7h0m3-5h0m6 4h0m4 7h0m9-1h0m1-12h0m0 4h0m1 4h0m3-7h0m1 4h0m0 4h0m1-10h0m2 1h0m0 4h0m3 5h0m1-5h0m0-5h0m1 9h0m1 2h0m1-3h0m4-1h0m0-2h0m1 5h0m1-9h0m1 13h0m2-4h0m1 2h0m2-5h0m1 2h0m14 1h0m3-11h0m-183 29h0m7-6h0m7 7h0m3-10h0m3 3h0m9-5h0m0 9h0m2-8h0m4 12h0m1-12h0m1 4h0m1-5h0m0-2h0m1 0h0m6 4h0m13 2h0m1 8h0m3-9h0m2-5h0m1 9h0m1-3h0m0-5h0m1 6h0m4-3h0m11-3h0m1 3h0m9-1h0m2 1h0m0-2h0m6 10h0m2 2h0m9-10h0m0 4h0m9-5h0m1 2h0m1 1h0m0-2h0m1 9h0m2 1h0m0-6h0m13-8h0m2 15h0m4-9h0m3-3h0m3 8h0m0-10h0m0 12h0m3 0h0m3-2h0m1-6h0m0 4h0m1 1h0m0-2h0m2-4h0m2 10h0m1-12h0m9 9h0m1-11h0m0 4h0m8 2h0m-189 17h0m3 1h0m6 4h0m0-1h0m3 4h0m0-7h0m2-5h0m7 11h0m3-10h0m0-3h0m5 3h0m0-4h0m8 11h0m12-3h0m2-6h0m3 0h0m8 2h0m1 0h0m1 2h0m0-2h0m2-3h0m1 1h0m2 2h0m7 8h0m1-11h0m3 5h0m2 8h0m0-11h0m9 2h0m1 2h0m0 4h0m8-11h0m4 15h0m4-9h0m0-5h0m2 3h0m4 2h0m0 9h0m0-10h0m4 6h0m1 2h0m5-3h0m2-9h0m2 11h0m3-12h0m0 7h0m2 3h0m1-4h0m0 4h0m2 0h0m2 1h0m2 3h0m2-1h0m1-4h0m5-6h0m1-1h0m3-1h0m12 10h0m0 4h0m7-5h0m3 3h0m4-10h0m4 4h0m0-2h0m0 9h0m3 1h0m2 0h0m1-1h0m4-7h0m0 7h0m3-6h0m-187 8h0m1 6h0m1 0h0m1 8h0m2-14h0m2 7h0m2 8h0m0-14h0m2 5h0m7 3h0m0-1h0m1-7h0m1 0h0m0 9h0m5 5h0m11-13h0m3 1h0m3-3h0m0 6h0m1 5h0m5-10h0m0-1h0m17 8h0m7 4h0m3 1h0m2-11h0m1 0h0m15-1h0m3 2h0m3 10h0m2-2h0m5-11h0m6 8h0m2 6h0m3-11h0m1 6h0m2 2h0m1 3h0m13-10h0m0 7h0m2-4h0m2 1h0m1 1h0m2 6h0m0-15h0m6 6h0m2 3h0m0-5h0m12 1h0m5 5h0m1-4h0m8 5h0m1-3h0m0 3h0m4-5h0m3-6h0m-190 19h0m5-3h0m0 14h0m3-2h0m2-11h0m4 0h0m1 3h0m4-4h0m3 1h0m1 13h0m3 1h0m1-6h0m5-1h0m1 3h0m10-4h0m4 1h0m1 2h0m0-1h0m7 4h0m1-6h0m0 4h0m2-2h0m2-7h0m0-2h0m1 2h0m4 1h0m2-2h0m1 2h0m3 10h0m10-6h0m5-4h0m0-1h0m1 10h0m0 1h0m1-4h0m0 1h0m1 5h0m3-7h0m1-6h0m0 4h0m2-6h0m4 1h0m1 3h0m1 9h0m1-1h0m6-6h0m1-6h0m4 10h0m0-7h0m1 12h0m2-5h0m8-5h0m1 7h0m3-10h0m7 4h0m1 9h0m0-15h0m3 9h0m5-7h0m3-1h0m1 14h0m1-10h0m0 7h0m2-7h0m14 6h0m2-7h0m2-2h0m5 11h0m12-12h0m1 5h0m3-6h0m1 3h0m1 0h0m-191 14h0m40 1h0m17-1h0m24 0h0m3-1h0m17 2h0m11-2h0m41 0h0m39 1h0"/>
<path id="d28" d="M75 -1h0m11 0h0m44 0h0m33 0h0m-163 6h0m3-4h0m0 11h0m4-5h0m3-6h0m0-1h0m1 9h0m0 1h0m5-3h0m4-3h0m3 4h0m0-5h0m4-1h0m1 9h0m2-2h0m0 1h0m2-5h0m1-3h0m6 3h0m1 5h0m7 2h0m0-5h0m8 7h0m1-2h0m2-11h0m0 13h0m1-1h0m10-9h0m0 8h0m1 1h0m3-9h0m4 0h0m0-1h0m5 2h0m1 10h0m2-6h0m1-9h0m7 8h0m2-1h0m4 4h0m2 3h0m1-7h0m3 6h0m2 2h0m1-14h0m6 0h0m5 11h0m0-9h0m2 5h0m1 4h0m0-7h0m2-1h0m2 5h0m6-5h0m3 2h0m4 0h0m3-4h0m0 8h0m3-7h0m0 12h0m13-12h0m1 9h0m1 0h0m0-1h0m1-5h0m2 7h0m5-4h0m4-5h0m0 2h0m3 9h0m1 0h0m6-12h0m2 10h0m2-3h0m0-8h0m3-1h0m0-1h0m3 5h0m-193 23h0m1-9h0m3-1h0m0-1h0m5 11h0m1 0h0m2 2h0m10 1h0m2-3h0m9 0h0m1-11h0m8 12h0m1-7h0m5-6h0m15 11h0m0-4h0m3-7h0m4 0h0m2 11h0m2-4h0m1 3h0m6 1h0m10-3h0m0-1h0m3-5h0m0-1h0m0 13h0m1-7h0m4 0h0m6 6h0m0-5h0m0-5h0m1 8h0m1-3h0m0-1h0m3 8h0m2-10h0m3 5h0m1-8h0m12 10h0m8-6h0m1 5h0m0-5h0m0 2h0m0-5h0m9-1h0m1 3h0m2-3h0m2-1h0m1 1h0m4 13h0m0-1h0m3-12h0m0 7h0m1-4h0m14 4h0m2-1h0m2-6h0m2 9h0m1 4h0m0-15h0m11 12h0m1-9h0m-192 18h0m0 9h0m0-2h0m1-10h0m1 3h0m4 6h0m0-11h0m4 2h0m12 9h0m1-10h0m2 3h0m0 9h0m1 2h0m0-1h0m6-2h0m0-7h0m1 1h0m2-1h0m3 4h0m4 0h0m6-6h0m2-2h0m3 1h0m3 1h0m2 6h0m1 6h0m0-5h0m1-6h0m1 4h0m2 2h0m3 0h0m2 4h0m3-2h0m4 3h0m2-10h0m1-2h0m6 6h0m1-3h0m2-3h0m0-1h0m2 11h0m2-4h0m2 0h0m2-6h0m2 0h0m1 11h0m0-7h0m2-7h0m6 13h0m3 0h0m5-12h0m2 10h0m0-1h0m5-8h0m1 9h0m9-2h0m0-1h0m1 0h0m4-6h0m3 6h0m5-7h0m4 13h0m5-3h0m1-11h0m4 8h0m5-1h0m6 7h0m1-8h0m2 0h0m5-6h0m6 2h0m5 5h0m1-6h0m0 8h0m3 3h0m0-7h0m0 9h0m1-12h0m1 3h0m-196 22h0m2-7h0m3 11h0m0-10h0m3 6h0m0 3h0m1-1h0m5-9h0m1 8h0m1-11h0m1 5h0m3-6h0m2 15h0m1-11h0m1 6h0m3 3h0m0-11h0m0 4h0m3-1h0m1 0h0m8-4h0m4 11h0m1 0h0m1 3h0m0-1h0m0-5h0m5 0h0m2 6h0m2-13h0m0 3h0m1 0h0m1-3h0m0-2h0m5 6h0m0-1h0m0 7h0m3-7h0m12 9h0m1-7h0m2 4h0m2-10h0m1 0h0m1 5h0m1 4h0m1-6h0m2-2h0m6 13h0m1-10h0m4 9h0m1-4h0m1-6h0m1 8h0m1-3h0m1-7h0m1-1h0m2 7h0m4 4h0m1-3h0m0-5h0m20 4h0m13-8h0m1 9h0m1 0h0m3 5h0m2-11h0m1 10h0m5-6h0m2-7h0m1 15h0m2-10h0m6 0h0m1 6h0m0-2h0m3-7h0m0 8h0m1-2h0m1-5h0m5 9h0m13-1h0m2-7h0m-194 12h0m5 13h0m2-8h0m0-1h0m0 2h0m1-4h0m1-1h0m2 7h0m4-1h0m0 4h0m3-5h0m1-3h0m1 3h0m1-1h0m2-5h0m0 9h0m1 0h0m3-7h0m8 8h0m1 4h0m3-12h0m1 3h0m0-1h0m2 10h0m1-2h0m1-2h0m0-10h0m5 7h0m0-1h0m4 5h0m0-6h0m6 0h0m6 10h0m1-14h0m1 2h0m1 2h0m7 9h0m3-14h0m2 0h0m3 8h0m2 7h0m1-15h0m0 15h0m5-3h0m2-7h0m0 4h0m4 2h0m3 0h0m2-11h0m5 15h0m1-8h0m2 0h0m2 6h0m0-10h0m10-3h0m4 0h0m2 10h0m1-3h0m3-7h0m3 2h0m0-1h0m1 10h0m5-3h0m3 7h0m3-4h0m2 0h0m2-3h0m2-5h0m7 3h0m4 5h0m15 2h0m0-11h0m3 4h0m10-6h0m-185 20h0m6 11h0m1-12h0m11 1h0m2 7h0m1 3h0m4-13h0m8 4h0m3 1h0m5 2h0m2-6h0m1 0h0m2 1h0m2-2h0m0 12h0m4 0h0m2-4h0m1 4h0m1-1h0m7-9h0m1 2h0m2-5h0m5 11h0m0-1h0m5-1h0m2-7h0m2 1h0m1 4h0m2 6h0m1-9h0m3 9h0m1-8h0m2 6h0m4 1h0m3-5h0m4 6h0m1 2h0m8-10h0m4 7h0m8 3h0m6-2h0m1-8h0m1-5h0m2 11h0m4-2h0m1-2h0m7-4h0m1 4h0m7-5h0m4 13h0m1-2h0m0-3h0m1 3h0m15-5h0m5-3h0m7-1h0m-191 12h0m0 9h0m1 1h0m4-2h0m3 0h0m4 0h0m1-7h0m0-1h0m4 3h0m1 7h0m2-2h0m3 4h0m0-5h0m4-1h0m1-3h0m1 2h0m3 9h0m0-1h0m6 2h0m1-13h0m7 8h0m4-4h0m6 2h0m1 0h0m2-1h0m1 7h0m3-10h0m4-1h0m1 5h0m3-8h0m3 7h0m4 4h0m1-10h0m2 9h0m5-9h0m2 4h0m2 6h0m5-1h0m2-9h0m0 4h0m0 9h0m10-4h0m4-3h0m7-4h0m1 2h0m1 0h0m3 5h0m2-2h0m3 2h0m1-10h0m1 0h0m2 7h0m5-2h0m2 6h0m4-10h0m0-1h0m1 14h0m1-10h0m0 9h0m0-2h0m6-5h0m2 9h0m5-4h0m3-5h0m1 1h0m3 5h0m1-11h0m4 2h0m2 2h0m5 9h0m3-6h0m5 5h0m2-2h0m5-11h0m0 9h0m1 1h0m-176 7h0m0 4h0m5-1h0m6 4h0m7-6h0m1 11h0m6-2h0m2-6h0m0 9h0m8-8h0m3 1h0m1-4h0m10 10h0m0-3h0m2 3h0m0-10h0m5-1h0m3 9h0m1-8h0m2 9h0m3-6h0m1 6h0m2-9h0m2 7h0m1-9h0m4 11h0m4 2h0m1-8h0m2 0h0m1 0h0m2 2h0m1-6h0m1 6h0m2 0h0m4-5h0m5-3h0m5 14h0m1-1h0m2-7h0m0 9h0m2-2h0m3-11h0m8-1h0m3 4h0m4-5h0m10 2h0m0-2h0m1 8h0m2 4h0m0-7h0m1-5h0m1 1h0m0 9h0m2-2h0m2-3h0m5 3h0m0 7h0m15-1h0m-180 14h0m2-6h0m1 9h0m1-9h0m4-1h0m7 2h0m1-3h0m2 1h0m1 7h0m1 0h0m1-10h0m1 4h0m1-3h0m1 7h0m3-10h0m7 5h0m1-2h0m6-1h0m1 8h0m0-7h0m1 12h0m1-15h0m3 15h0m2-10h0m1-5h0m0 8h0m1 6h0m1-9h0m0 10h0m1 0h0m8-3h0m3 1h0m1 0h0m4 1h0m2-3h0m2 0h0m0-1h0m12 1h0m6-4h0m12 0h0m3-5h0m4 2h0m0 2h0m2 1h0m1 3h0m0-1h0m0-2h0m2-2h0m0 1h0m2 6h0m1 2h0m2-9h0m4-1h0m1 8h0m2-7h0m6 10h0m0-1h0m1-13h0m1 10h0m0-10h0m6 11h0m1-11h0m0 4h0m4 0h0m2-2h0m2 8h0m0-11h0m3 9h0m3-6h0m6 11h0m0-11h0m8 7h0m3-6h0m2 3h0m1 5h0m2-5h0m0-6h0m1-1h0m3 3h0m10 9h0m-195 17h0m1-12h0m1 2h0m0 7h0m1-6h0m1 5h0m7-1h0m2 6h0m1 0h0m1-5h0m1-6h0m2 1h0m2 5h0m7-7h0m2 4h0m3 2h0m0-7h0m4 2h0m8 10h0m0-6h0m2-7h0m2 1h0m2 9h0m2-6h0m1 8h0m2-8h0m2 1h0m2 4h0m2 1h0m6 1h0m3-4h0m4-3h0m0-1h0m1-3h0m1 13h0m1 2h0m2-14h0m1 5h0m8 9h0m10-11h0m1 7h0m0 2h0m18-13h0m0 6h0m11 5h0m1-5h0m2-1h0m1 10h0m1-5h0m4-7h0m7 2h0m0-5h0m1 12h0m1-3h0m6-1h0m8-1h0m1 3h0m3-2h0m1 7h0m4-5h0m8-2h0m4-1h0m2 3h0m4-5h0m3 3h0m2 5h0m1-12h0m1 9h0m0-7h0m1 1h0m1 5h0m-191 8h0m7 0h0m0-1h0m23 2h0m25-1h0m28-1h0m22 1h0m6 0h0m28 1h0m44 0h0m3-1h0m0-1h0"/>
<path id="d29" d="M7 -1h0m9 0h0m3 0h0m6-1h0m2 0h0m35 1h0m38 0h0m25-1h0m15 1h0m3-1h0m10 0h0m36 1h0m-189 9h0m3 6h0m0-14h0m0 2h0m2 5h0m9 8h0m0-9h0m2 7h0m2-11h0m2 10h0m1-8h0m2 10h0m1-4h0m2-9h0m1 8h0m3-8h0m4 13h0m1-12h0m0-2h0m1 1h0m1 9h0m5-1h0m5-7h0m2 6h0m0 7h0m1-15h0m5 2h0m2 13h0m3-6h0m0 3h0m7-6h0m0 4h0m0-6h0m1 2h0m0 4h0m0-1h0m1-3h0m6-2h0m3-1h0m9-3h0m2 1h0m0 4h0m3-2h0m0 9h0m4 1h0m1-4h0m3-2h0m2-5h0m0 13h0m4-3h0m0-10h0m1 8h0m1-7h0m2 8h0m0 1h0m1-10h0m0 6h0m2-4h0m3 3h0m1-3h0m1 10h0m2-4h0m1 1h0m1 2h0m1-9h0m1-1h0m1 8h0m2-11h0m1 5h0m1 8h0m3-5h0m1-3h0m1 3h0m9 7h0m3-4h0m0 4h0m7-2h0m3-7h0m0 9h0m4-11h0m2 0h0m2 11h0m2-9h0m3-1h0m3-3h0m2 10h0m8-5h0m3 7h0m1-14h0m0 9h0m0 4h0m1-8h0m1 3h0m4 0h0m-193 21h0m0-5h0m1-1h0m1 8h0m1-1h0m5-2h0m10-10h0m1 4h0m1-6h0m2 0h0m2 2h0m2 8h0m4-7h0m1-1h0m1 4h0m3 7h0m0-7h0m1 2h0m5-2h0m6-6h0m3 3h0m2 12h0m1-4h0m1 3h0m1 1h0m1-8h0m0-5h0m1 3h0m1 4h0m5-3h0m6 0h0m3-2h0m5-1h0m5 5h0m4-1h0m0 3h0m4-7h0m0 9h0m3-11h0m0 7h0m2-5h0m1 10h0m8-6h0m1 7h0m5-14h0m2 5h0m4 1h0m0 3h0m1 0h0m1-7h0m1 5h0m1-2h0m0 9h0m2-2h0m2 1h0m2-5h0m1 5h0m3-6h0m7 4h0m2-7h0m4 11h0m2-11h0m1 4h0m2 6h0m1 0h0m5-6h0m1-8h0m2 15h0m1-5h0m1-9h0m2 4h0m2 8h0m6-11h0m2 13h0m1-7h0m4 4h0m1-12h0m0 7h0m5 7h0m1-6h0m1-6h0m0-1h0m1 0h0m1 13h0m2 1h0m4-2h0m0-5h0m1-1h0m1 8h0m1-1h0m-193 4h0m0 11h0m4-5h0m8-1h0m1 3h0m4 2h0m2-8h0m1-2h0m1 11h0m1-12h0m1 7h0m0 7h0m3-1h0m5 0h0m6-11h0m1 1h0m1-4h0m2 15h0m7-2h0m0-6h0m1-7h0m1 6h0m8-5h0m4 12h0m0-10h0m2 3h0m2 6h0m5-10h0m4 1h0m2 1h0m5-3h0m1-1h0m3 9h0m0-1h0m0-3h0m3 4h0m2 0h0m1 5h0m3-7h0m2 7h0m1-5h0m1-1h0m3-2h0m3 7h0m4-4h0m2-9h0m2 8h0m5-2h0m1-3h0m2 2h0m0 8h0m2 0h0m2 2h0m5-12h0m3 2h0m0-3h0m2 11h0m1 2h0m2-4h0m0 4h0m1-5h0m2-3h0m1-2h0m3-5h0m2 1h0m3 7h0m5-4h0m1 2h0m0-1h0m1 2h0m1-2h0m1 4h0m16 6h0m1 0h0m2-7h0m0 7h0m3-1h0m3-1h0m0-6h0m1-3h0m2 10h0m5-1h0m0-11h0m-194 29h0m1-6h0m2 2h0m3-11h0m1 15h0m3-11h0m2 7h0m1 3h0m5-13h0m1 13h0m0-12h0m6 5h0m0-2h0m1-1h0m2 11h0m0-10h0m2-3h0m5 8h0m1-1h0m2-2h0m3 8h0m5-12h0m2 6h0m0 2h0m2-2h0m2-1h0m8 5h0m3-13h0m0 4h0m4 5h0m1 3h0m3-5h0m1 0h0m1-4h0m0 7h0m3-6h0m2-3h0m3 12h0m3-8h0m2 2h0m1 3h0m0 2h0m1-10h0m7 10h0m6-5h0m1 5h0m1-5h0m2-6h0m1 1h0m1 9h0m2-4h0m10 2h0m1 3h0m1-7h0m1-3h0m3 8h0m3-4h0m2 7h0m2-13h0m2 4h0m1-2h0m3 1h0m4 12h0m1-8h0m6-4h0m1 0h0m1 0h0m2 10h0m1 0h0m4-4h0m6 6h0m0-1h0m4-3h0m4 3h0m3 1h0m0-11h0m1-1h0m3 8h0m1-1h0m1-3h0m1-2h0m8-3h0m2 13h0m1-6h0m-193 22h0m1-12h0m2 3h0m1 8h0m6-12h0m1 1h0m0 8h0m9-2h0m1-1h0m3-5h0m1 9h0m9-7h0m0-5h0m2 5h0m2 5h0m5-5h0m2 8h0m1-3h0m0 4h0m2-14h0m6 7h0m0 2h0m2 2h0m3 2h0m8-6h0m4-3h0m0-2h0m7 11h0m2-5h0m5-1h0m2 4h0m3-7h0m4-1h0m2 0h0m1 8h0m3-4h0m0-2h0m7 5h0m1-4h0m0 4h0m2 0h0m2-9h0m4 4h0m6-3h0m6-1h0m1 4h0m1 3h0m1-4h0m1 7h0m1-1h0m1 1h0m3-9h0m1 0h0m1 1h0m1 6h0m4 3h0m3 1h0m2-1h0m4-8h0m0 6h0m1 1h0m0 4h0m2-10h0m1 2h0m1 7h0m1-14h0m0 1h0m2 14h0m2-15h0m2 4h0m1 9h0m2-5h0m1 3h0m0-5h0m1-3h0m4-2h0m2 1h0m5-2h0m3 5h0m1-2h0m1 4h0m3 6h0m0-11h0m3 13h0m1-12h0m-193 28h0m3 0h0m0-8h0m4-6h0m3 10h0m3-8h0m5 10h0m1-12h0m0 7h0m1-1h0m1 7h0m0-5h0m2-4h0m3 0h0m1 2h0m2 1h0m0 4h0m3-7h0m3 2h0m3-1h0m1-5h0m4 11h0m1-5h0m4-1h0m1-3h0m3 2h0m2 3h0m2-7h0m1 0h0m2 13h0m3-2h0m1 0h0m0-5h0m1 2h0m3 2h0m4 0h0m2-5h0m2 0h0m2-4h0m4 5h0m1 0h0m2-5h0m8 2h0m2-1h0m3 7h0m0 3h0m2-3h0m2-8h0m6-2h0m1 1h0m9 0h0m1 14h0m2-15h0m2 8h0m2-3h0m1 10h0m4-9h0m1 9h0m2-8h0m2 6h0m11-4h0m1-3h0m3-3h0m7-3h0m1 12h0m3-6h0m1 8h0m3-10h0m1-2h0m2-2h0m3 9h0m7 6h0m0-7h0m2 1h0m2-3h0m0 4h0m0-1h0m5 1h0m1-1h0m0-2h0m5 8h0m-188 7h0m4 7h0m0 2h0m3-5h0m3-3h0m1-4h0m5 10h0m4-12h0m4 13h0m2-10h0m3-4h0m1 11h0m0-2h0m1-8h0m6 13h0m0-12h0m5 12h0m0-5h0m0-3h0m1 4h0m3-8h0m0 12h0m5-14h0m5 8h0m4 0h0m2-7h0m5 3h0m3 8h0m0-11h0m1 5h0m0 2h0m2-4h0m1 7h0m0 2h0m1 0h0m5-10h0m1 11h0m0-12h0m5 1h0m0 12h0m0-10h0m6 8h0m4-13h0m1 13h0m11-6h0m0-5h0m2-1h0m1 14h0m0-15h0m0 9h0m2-9h0m6 5h0m0 10h0m1-2h0m1-6h0m2-7h0m1 6h0m3 3h0m0 6h0m3-2h0m2-10h0m1-1h0m4 4h0m7 8h0m2-14h0m1 7h0m2-3h0m0-2h0m7 3h0m3 3h0m8-8h0m3 3h0m3 0h0m1 0h0m1 9h0m1-8h0m0 6h0m4 0h0m2 4h0m1-2h0m2-4h0m0-2h0m-189 11h0m3 0h0m4 6h0m6-5h0m1 8h0m3 4h0m1 0h0m1 1h0m0-11h0m2-4h0m0 12h0m0-1h0m1-7h0m3 2h0m3-2h0m0 1h0m8-4h0m2 10h0m2 3h0m1-5h0m0-5h0m2 8h0m1 2h0m2-9h0m1 7h0m1-11h0m3 7h0m1-6h0m0 8h0m1-1h0m3-2h0m0-1h0m3 5h0m2 3h0m1-11h0m2 3h0m1 6h0m6 1h0m3 2h0m1-10h0m3 3h0m1-2h0m7-1h0m1-3h0m1 9h0m1 3h0m1-8h0m0-1h0m4 2h0m0 8h0m2-15h0m2 2h0m3 1h0m4-3h0m4 11h0m7-5h0m6 8h0m2-1h0m1-7h0m1 9h0m3-6h0m1-1h0m1-1h0m3-1h0m0 9h0m1-12h0m1 6h0m2-8h0m1 0h0m3 14h0m2-5h0m2-3h0m1 0h0m5 8h0m0-15h0m1 5h0m6 5h0m1-3h0m0-5h0m4 0h0m2 11h0m6 0h0m0-2h0m1 2h0m2-13h0m2 6h0m0 9h0m0-5h0m5-4h0m2 7h0m2-6h0m0 2h0m1-6h0m2 2h0m3-4h0m3 0h0m-195 22h0m8 4h0m2-2h0m3-8h0m2 5h0m6 8h0m2-6h0m4 0h0m1 7h0m1 0h0m1-6h0m2-4h0m1 5h0m0-5h0m3-2h0m1 5h0m5-8h0m5 7h0m9 3h0m1-7h0m0 8h0m1 2h0m1-5h0m1 0h0m0 4h0m3-12h0m2 5h0m2 8h0m2-13h0m1 8h0m0 1h0m3-3h0m1-2h0m3-4h0m7 14h0m8-7h0m1 7h0m5-1h0m2 2h0m0-5h0m3 3h0m0-11h0m2 4h0m0-2h0m5 0h0m3 0h0m1 0h0m1 11h0m2-10h0m3-2h0m4 10h0m1-2h0m2-2h0m3 2h0m2-10h0m2-1h0m0 9h0m0 4h0m2-10h0m2 1h0m6-3h0m3 2h0m1 11h0m3-11h0m5 5h0m3 1h0m4-7h0m2 11h0m0-10h0m5-1h0m0 11h0m1-12h0m3 13h0m2-1h0m2 2h0m5 0h0m0-6h0m2-2h0m1-3h0m2 9h0m2 2h0m2-8h0m-190 15h0m0-2h0m4 9h0m2 2h0m4-9h0m3-2h0m2 11h0m0-14h0m1 1h0m2 13h0m0-10h0m3-2h0m0 3h0m3 8h0m2-4h0m0 4h0m4-8h0m0 7h0m3-1h0m1 1h0m1-7h0m1 0h0m5-4h0m1 8h0m4-9h0m3 11h0m7-2h0m2-8h0m3 13h0m5-12h0m5 7h0m2-1h0m0 3h0m8-8h0m2-4h0m2 11h0m2 0h0m1-10h0m2 6h0m5 3h0m0-1h0m4 6h0m1-2h0m0-5h0m2 4h0m3-2h0m0-1h0m7-2h0m4 4h0m0-10h0m6 8h0m2-8h0m0 13h0m1-14h0m0 3h0m2 6h0m2 1h0m3-6h0m4 0h0m2 6h0m1 5h0m1-7h0m1-6h0m1 12h0m1-5h0m6-4h0m0 2h0m2 1h0m1 6h0m1-2h0m2-8h0m1 4h0m8 6h0m6-9h0m1 2h0m4 7h0m3-13h0m5-1h0m1 10h0m2-6h0m0 4h0m1-1h0m1 8h0m4-11h0m0 2h0m-190 12h0m0-2h0m23 1h0m4 0h0m5 1h0m0-2h0m1 1h0m11 1h0m3-2h0m5 2h0m32-2h0m2 1h0m17 1h0m21-2h0m45 2h0m14-2h0"/>
<path id="d30" d="M5 -1h0m8 0h0m19 0h0m13 0h0m3-1h0m44 1h0m5 0h0m16 0h0m12 0h0m7-1h0m15 0h0m21 1h0m4 0h0m14 0h0m2-1h0m-189 10h0m2 4h0m1-7h0m0-1h0m1 9h0m4-10h0m0 9h0m3-7h0m1-1h0m3-3h0m0 4h0m0 2h0m1 4h0m4 1h0m2-11h0m1 6h0m1 7h0m1-11h0m1 3h0m1 6h0m5-9h0m1 3h0m0 3h0m1-3h0m3-1h0m1 10h0m0-6h0m8 3h0m3-9h0m1 12h0m1-1h0m1-12h0m2 3h0m4-2h0m2 5h0m2 3h0m1 0h0m2 0h0m0-6h0m0 4h0m1-6h0m1 2h0m2 1h0m4 2h0m1 3h0m1 4h0m2-4h0m0-2h0m3-9h0m1 6h0m7-3h0m0-1h0m1 3h0m2 5h0m0-1h0m0-8h0m1 1h0m2 7h0m2 6h0m2-11h0m0 4h0m6 3h0m2-2h0m1 5h0m0-5h0m5 1h0m0-10h0m1 5h0m0 2h0m1 3h0m1 4h0m1-3h0m3 1h0m1 2h0m1-5h0m0-6h0m5 10h0m1-8h0m1-1h0m1-3h0m2 2h0m0 12h0m1-2h0m0-10h0m3 6h0m6-4h0m2-4h0m4 4h0m2 4h0m0-1h0m2-4h0m1 1h0m2 6h0m4-2h0m2-5h0m8-2h0m2 10h0m3-6h0m1-1h0m4 4h0m0 4h0m2-9h0m1-4h0m0 8h0m0-2h0m0-1h0m3-3h0m1 4h0m0-1h0m2 5h0m1-9h0m1 8h0m2-8h0m1 7h0m2 4h0m1-8h0m0 1h0m-195 16h0m0 9h0m2-10h0m5 8h0m1-7h0m1 9h0m2-7h0m6-5h0m0-2h0m0 3h0m1 1h0m0 8h0m0-12h0m1 5h0m0-1h0m1 11h0m2-1h0m5-12h0m6 3h0m1 5h0m2-4h0m5-2h0m1 6h0m1-10h0m3 7h0m0-1h0m1 7h0m0-6h0m1-2h0m5 4h0m1 4h0m0 1h0m4-14h0m2 15h0m0-2h0m2-1h0m0 2h0m4-5h0m5-9h0m1 14h0m1-5h0m2-3h0m1-4h0m1 4h0m2 9h0m0-12h0m2 9h0m1 3h0m2-7h0m1 6h0m0-10h0m1-2h0m1 1h0m0 8h0m3-4h0m1-3h0m3 7h0m4-8h0m2 9h0m2-5h0m4 0h0m2-5h0m0 4h0m2-3h0m2 10h0m0-7h0m2 6h0m1-6h0m1 7h0m2 0h0m2 0h0m2-13h0m0 13h0m1-3h0m6 1h0m0 3h0m5-1h0m2-11h0m2 12h0m2-12h0m1 2h0m0 8h0m1-9h0m2-1h0m1 4h0m0-5h0m4 10h0m0 4h0m1-2h0m3-8h0m4 5h0m5 5h0m1 0h0m0-14h0m2 1h0m2 13h0m3-3h0m0-11h0m1 5h0m4 6h0m1-8h0m1 0h0m1 9h0m1-10h0m0 12h0m1-3h0m3-5h0m0-5h0m3 7h0m1 5h0m1-11h0m1 0h0m3 2h0m0 9h0m2-10h0m-189 12h0m1 14h0m0-3h0m3-6h0m1 3h0m3 1h0m1 3h0m1-8h0m3 5h0m7 6h0m1-5h0m0-1h0m1 2h0m3 4h0m1-6h0m0-9h0m2 4h0m1-4h0m2 15h0m1-1h0m1-11h0m1 6h0m0-2h0m0 4h0m3 0h0m1-9h0m1 1h0m2 9h0m2-11h0m1 1h0m1-2h0m1 8h0m5-8h0m0 7h0m1 4h0m1-2h0m4 4h0m4-5h0m5-1h0m3 3h0m1 1h0m0-3h0m0 4h0m3-2h0m1 1h0m3 4h0m1-14h0m3 12h0m0-11h0m1 13h0m0-2h0m3-5h0m1-1h0m2 1h0m2-7h0m2 10h0m1-3h0m0 3h0m7-11h0m0 8h0m1-5h0m0 2h0m1 7h0m0-2h0m0-10h0m4 3h0m0 4h0m4 1h0m1 5h0m2-11h0m1-1h0m3 6h0m0 1h0m3 7h0m0-10h0m1-1h0m1 11h0m2-6h0m2 6h0m7-7h0m2 0h0m3 2h0m1-2h0m2 6h0m0-12h0m2 12h0m1-1h0m0-1h0m1-7h0m2 7h0m1-4h0m3-7h0m2 1h0m1 1h0m1 9h0m0-5h0m3-1h0m7 0h0m1 8h0m4 0h0m1-3h0m2 1h0m1-3h0m1-9h0m2 0h0m1 12h0m0-10h0m0 13h0m0-15h0m1 2h0m3-1h0m1 1h0m1 11h0m1-4h0m-191 19h0m4-9h0m3 11h0m4-9h0m2 3h0m0-4h0m2 0h0m5-4h0m1 14h0m3-11h0m0 1h0m1-4h0m1 11h0m0-8h0m5 4h0m1-6h0m1 10h0m1 1h0m0-3h0m1-1h0m1-5h0m2 1h0m3 1h0m2-1h0m1 5h0m1-2h0m0 1h0m1 4h0m0-8h0m2 9h0m2-13h0m1 4h0m10-1h0m4 9h0m1 3h0m1-13h0m0 11h0m1-1h0m1-2h0m1-10h0m1 9h0m6-9h0m1 10h0m0-7h0m2 9h0m6-5h0m1 8h0m2-1h0m0-6h0m1 6h0m0-8h0m0-1h0m1 6h0m1-2h0m2 2h0m2-6h0m1 0h0m2 0h0m1-4h0m1 4h0m1-4h0m0 13h0m0-1h0m4 2h0m7-14h0m1 7h0m2 4h0m1 2h0m1 0h0m2-11h0m1-2h0m1-1h0m2 11h0m1 2h0m0-8h0m1 0h0m3 5h0m0 3h0m0-6h0m2-2h0m1 1h0m1 3h0m1 3h0m0-1h0m1-1h0m2-3h0m1 2h0m4 0h0m1-9h0m2 3h0m2 9h0m0-10h0m3 5h0m0 4h0m1-1h0m0-10h0m2 14h0m0-14h0m3 8h0m2-2h0m0 9h0m3-7h0m1-3h0m0 7h0m1-10h0m2 2h0m1 8h0m0-11h0m2 6h0m5 6h0m0-6h0m1 0h0m3 0h0m0 8h0m0-1h0m1-5h0m2 4h0m2 2h0m3-13h0m7-2h0m0 12h0m4-9h0m-194 16h0m2 2h0m3-2h0m1-3h0m2 15h0m2-12h0m0 1h0m1 7h0m1 2h0m1-3h0m1 0h0m1 5h0m1-2h0m1-6h0m0-5h0m0 7h0m0 4h0m4-5h0m0 3h0m3 3h0m0-7h0m0-5h0m2 13h0m1-8h0m1 0h0m0 3h0m3 3h0m1 1h0m0-5h0m1-8h0m0 13h0m1-9h0m1 8h0m2-8h0m3 5h0m1-10h0m1 3h0m0 6h0m1 4h0m1 1h0m3-7h0m3-6h0m1 3h0m1 3h0m1-5h0m10 2h0m2 2h0m0 9h0m1-1h0m1-10h0m0 9h0m0-12h0m0 13h0m1 0h0m2-3h0m1 0h0m2-6h0m0-1h0m1-2h0m1 1h0m2 2h0m0 3h0m1 1h0m4-4h0m4 3h0m0 5h0m1-12h0m1 10h0m3-11h0m2 8h0m3 6h0m6-7h0m3 6h0m1-9h0m1 10h0m1-11h0m7 6h0m2-1h0m1-2h0m1 7h0m0-12h0m1 8h0m1 1h0m2 3h0m1-4h0m1 3h0m1-10h0m2 1h0m0 8h0m3-10h0m0 7h0m1 4h0m0 3h0m4-8h0m1 1h0m0-5h0m1 1h0m1 1h0m1 10h0m0-2h0m1-7h0m3 7h0m0-11h0m3 12h0m1-11h0m0 4h0m3-4h0m1 11h0m0-3h0m9-6h0m2 2h0m1 1h0m2 0h0m3-7h0m2 8h0m1 3h0m1-5h0m3-7h0m1 11h0m1-6h0m7 3h0m1-3h0m0 3h0m6-5h0m2 2h0m-192 16h0m0 4h0m0 4h0m3-8h0m3-2h0m3 10h0m3-6h0m4 6h0m1-8h0m6 6h0m3 2h0m1 2h0m0-3h0m2-7h0m2 6h0m1-10h0m0 9h0m2-6h0m2 6h0m2 3h0m2-13h0m2 13h0m0-12h0m1 13h0m4-11h0m2-3h0m2 7h0m2-5h0m1 8h0m0 4h0m3-10h0m3-3h0m2 12h0m2-12h0m1 4h0m1 10h0m3-1h0m3-5h0m1-4h0m4-4h0m1 8h0m0-5h0m1 3h0m0-7h0m1 6h0m1 9h0m3-12h0m2-3h0m1 7h0m3 5h0m0 1h0m2-12h0m0 8h0m3-7h0m3 12h0m4-3h0m2-9h0m2 3h0m2 7h0m1-10h0m3 11h0m1 2h0m6-2h0m3-10h0m1 10h0m3-6h0m0 6h0m1-2h0m1-10h0m8 10h0m1-11h0m3 1h0m1 9h0m1-2h0m1-3h0m2 9h0m4-2h0m4-1h0m1 1h0m1-7h0m3 10h0m0-6h0m1-3h0m0-6h0m2 4h0m2 7h0m0-5h0m3-6h0m4 5h0m5 2h0m0 2h0m1-4h0m1 4h0m1 4h0m2-6h0m2-4h0m2 7h0m8-5h0m0 8h0m-195 18h0m3-7h0m0 4h0m1-8h0m1 1h0m2-3h0m2 9h0m0-8h0m1 9h0m3 1h0m0-6h0m0-7h0m3 8h0m2 5h0m2-2h0m1-3h0m1-3h0m1 1h0m0 9h0m0-13h0m1 2h0m0 5h0m3-9h0m2 4h0m8 7h0m0-1h0m1-7h0m2 4h0m1-3h0m1-3h0m0 9h0m1 1h0m1 3h0m1-1h0m1-11h0m2 9h0m2-6h0m3 9h0m3-2h0m0-5h0m1-2h0m9 6h0m0 4h0m3-5h0m2-10h0m1 8h0m1-7h0m1 5h0m0 9h0m2-1h0m1-3h0m0 4h0m0-6h0m3 3h0m3 1h0m0-1h0m6-8h0m1 6h0m1-9h0m2 12h0m2-5h0m1-4h0m1 0h0m1 2h0m3 4h0m1 3h0m4-2h0m0-6h0m0-5h0m3 4h0m1 2h0m2-6h0m0 3h0m0 8h0m1-8h0m4-1h0m1-1h0m0 13h0m4-11h0m1 2h0m5 10h0m1-14h0m0-1h0m2 15h0m1-11h0m2 2h0m2 9h0m1-2h0m2-8h0m1 9h0m3-12h0m0 6h0m1-1h0m0 3h0m3 2h0m0-2h0m1 5h0m0-5h0m17-3h0m3-7h0m1 11h0m1 3h0m3-14h0m3 2h0m1 4h0m2-5h0m1 8h0m0 4h0m2-10h0m0 12h0m1-11h0m2 1h0m6-5h0m1 15h0m-193 13h0m1-9h0m0 3h0m1 6h0m3-6h0m1 2h0m3-7h0m1 5h0m0-5h0m7-1h0m7 3h0m1 3h0m3 9h0m1-14h0m0-1h0m4 14h0m2-12h0m4 5h0m1 5h0m1 3h0m1-4h0m2-4h0m2 5h0m1-1h0m5-5h0m2-3h0m0 7h0m1 4h0m1-12h0m2 2h0m2 5h0m1-4h0m0-1h0m1-2h0m1-2h0m1 1h0m1 2h0m4-1h0m0 2h0m1 7h0m0-1h0m2 2h0m0-12h0m3 8h0m1-2h0m3-6h0m0 3h0m5-3h0m1 10h0m0-1h0m0-5h0m2-2h0m2 7h0m1 1h0m0 3h0m3-9h0m1 7h0m0-5h0m1-5h0m2 11h0m5-2h0m1 4h0m4-7h0m0 6h0m1-10h0m0 9h0m0-12h0m1 14h0m3-6h0m1-8h0m5 5h0m1 4h0m0-7h0m3 7h0m3 3h0m1-7h0m1 8h0m0-8h0m2 3h0m0 4h0m5 2h0m0-5h0m1-2h0m1-6h0m5 12h0m1-12h0m1 5h0m1-6h0m1 4h0m0-2h0m7 3h0m4-5h0m0 3h0m1 8h0m1-4h0m0 4h0m0-10h0m3 14h0m1-14h0m1 14h0m1-11h0m1-3h0m0 4h0m5 10h0m2-7h0m2-7h0m1 8h0m1 5h0m3-2h0m2 2h0m4-2h0m1-4h0m3 7h0m1-11h0m2 8h0m1-9h0m0 3h0m1 6h0m-188 10h0m2 1h0m4 6h0m2 0h0m2-3h0m5 4h0m0-7h0m2 8h0m0-4h0m7 1h0m0-5h0m2-4h0m1 8h0m0-5h0m1 4h0m0-4h0m5 4h0m1-4h0m4 7h0m1-3h0m3 0h0m0-5h0m3-2h0m1 3h0m0-2h0m5 3h0m2-6h0m2 13h0m0-12h0m3 10h0m1-11h0m1 1h0m6-1h0m1 2h0m0 9h0m8-4h0m2-8h0m3 15h0m2-5h0m3-5h0m2 6h0m1 0h0m2-1h0m2-7h0m2 3h0m0 9h0m4-7h0m2 4h0m1 3h0m2-4h0m0-6h0m1 3h0m1 0h0m2-1h0m2 7h0m0-8h0m1 6h0m1-1h0m0 4h0m0-10h0m2 10h0m1-15h0m0 9h0m1 3h0m5-10h0m3 6h0m3 5h0m2 1h0m1 0h0m0-1h0m0-2h0m9-9h0m0-2h0m0 8h0m1-4h0m3 1h0m0 8h0m0-6h0m1-5h0m2 1h0m0 9h0m1-10h0m2 1h0m0-1h0m3 11h0m2-12h0m1 14h0m2-9h0m1 5h0m1-4h0m3-6h0m1 1h0m0 13h0m0-15h0m2 9h0m1-6h0m2 10h0m2-4h0m2 0h0m3-9h0m2 2h0m1 1h0m1-2h0m0 2h0m7 5h0m1 7h0m-190 12h0m2 1h0m1-6h0m1 6h0m1 3h0m5-14h0m3 14h0m2-11h0m1 4h0m3 5h0m0-4h0m1 5h0m1-8h0m2-5h0m0 6h0m4 4h0m0-5h0m0 8h0m1-4h0m0-5h0m0-5h0m1 11h0m2 2h0m1 2h0m4-15h0m0 4h0m1 3h0m3-3h0m1 4h0m1-1h0m0-5h0m2 9h0m1 4h0m0-15h0m3 2h0m0 12h0m0-14h0m1 13h0m4-9h0m3 8h0m8 2h0m0-1h0m4-3h0m5-10h0m1 8h0m0-5h0m0 4h0m3-7h0m0 6h0m6 7h0m2-11h0m2 8h0m1 2h0m2 1h0m2 2h0m1-6h0m1-8h0m0 12h0m0-1h0m2-10h0m1-1h0m0 14h0m1-9h0m1-3h0m1 0h0m3-1h0m2 4h0m5 1h0m2-3h0m1 11h0m1-6h0m1-9h0m1 11h0m1-4h0m2 4h0m0-5h0m3 4h0m0 3h0m1 0h0m0-10h0m2 12h0m4-3h0m1-1h0m0-11h0m2 14h0m0-9h0m0-2h0m1 5h0m2 6h0m4-6h0m1 4h0m2-1h0m2-4h0m0-7h0m2 11h0m0-11h0m1 14h0m0-1h0m3-12h0m1 4h0m1 6h0m2-9h0m2 6h0m2 6h0m0-14h0m0 7h0m2-1h0m5 6h0m0-10h0m1 9h0m1-7h0m1 8h0m0 3h0m2-1h0m2-10h0m0 11h0m1-13h0m0 6h0m2-2h0m1 7h0m2 1h0m2-6h0m1 0h0m2 2h0m1 2h0m1-8h0m0 2h0m1 9h0m0-8h0m2 7h0m0-14h0m0 9h0m0 2h0m1-5h0m0-5h0m3 10h0m2 1h0m-180 5h0m7 0h0m58-1h0m11 1h0m21-1h0m17 1h0m14 0h0m25 1h0m13-2h0m7 1h0m3 0h0"/>
<pattern id="p0" patternUnits="userSpaceOnUse" width="192" height="160"><g stroke="#d9d9d9" stroke-width="3.1" stroke-linecap="round" fill="none"><use href="#d0"/></g></pattern>
<pattern id="p1" patternUnits="userSpaceOnUse" width="192" height="160"><g stroke="#d9d9d9" stroke-width="3.1" stroke-linecap="round" fill="none"><use href="#d0"/><use href="#d1"/></g></pattern>
<pattern id="p2" patternUnits="userSpaceOnUse" width="192" height="160"><g stroke="#d9d9d9" stroke-width="3.1" stroke-linecap="round" fill="none"><use href="#d0"/><use href="#d1"/><use href="#d2"/></g></pattern>
<pattern id="p3" patternUnits="userSpaceOnUse" width="192" height="160"><g stroke="#d9d9d9" stroke-width="3.1" stroke-linecap="round" fill="none"><use href="#d0"/><use href="#d1"/><use href="#d2"/><use href="#d3"/></g></pattern>
<pattern id="p4" patternUnits="userSpaceOnUse" width="192" height="160"><g stroke="#d9d9d9" stroke-width="3.1" stroke-linecap="round" fill="none"><use href="#d0"/><use href="#d1"/><use href="#d2"/><use href="#d3"/><use href="#d4"/></g></pattern>
<pattern id="p5" patternUnits="userSpaceOnUse" width="192" height="160"><g stroke="#d9d9d9" stroke-width="3.1" stroke-linecap="round" fill="none"><use href="#d0"/><use href="#d1"/><use href="#d2"/><use href="#d3"/><use href="#d4"/><use href="#d5"/></g></pattern>
<pattern id="p6" patternUnits="userSpaceOnUse" width="192" height="160"><g stroke="#d9d9d9" stroke-width="3.1" stroke-linecap="round" fill="none"><use href="#d0"/><use href="#d1"/><use href="#d2"/><use href="#d3"/><use href="#d4"/><use href="#d5"/><use href="#d6"/></g></pattern>
<pattern id="p7" patternUnits="userSpaceOnUse" width="192" height="160"><g stroke="#d9d9d9" stroke-width="3.1" stroke-linecap="round" fill="none"><use href="#d0"/><use href="#d1"/><use href="#d2"/><use href="#d3"/><use href="#d4"/><use href="#d5"/><use href="#d6"/><use href="#d7"/></g></pattern>
<pattern id="p8" patternUnits="userSpaceOnUse" width="192" height="160"><g stroke="#d9d9d9" stroke-width="3.1" stroke-linecap="round" fill="none"><use href="#d0"/><use href="#d1"/><use href="#d2"/><use href="#d3"/><use href="#d4"/><use href="#d5"/><use href="#d6"/><use href="#d7"/><use href="#d8"/></g></pattern>
<pattern id="p9" patternUnits="userSpaceOnUse" width="192" height="160"><g stroke="#d9d9d9" stroke-width="3.1" stroke-linecap="round" fill="none"><use href="#d0"/><use href="#d1"/><use href="#d2"/><use href="#d3"/><use href="#d4"/><use href="#d5"/><use href="#d6"/><use href="#d7"/><use href="#d8"/><use href="#d9"/></g></pattern>
<pattern id="p10" patternUnits="userSpaceOnUse" width="192" height="160"><g stroke="#d9d9d9" stroke-width="3.1" stroke-linecap="round" fill="none"><use href="#d0"/><use href="#d1"/><use href="#d2"/><use href="#d3"/><use href="#d4"/><use href="#d5"/><use href="#d6"/><use href="#d7"/><use href="#d8"/><use href="#d9"/><use href="#d10"/></g></pattern>
<pattern id="p11" patternUnits="userSpaceOnUse" width="192" height="160"><g stroke="#d9d9d9" stroke-width="3.1" stroke-linecap="round" fill="none"><use href="#d0"/><use href="#d1"/><use href="#d2"/><use href="#d3"/><use href="#d4"/><use href="#d5"/><use href="#d6"/><use href="#d7"/><use href="#d8"/><use href="#d9"/><use href="#d10"/><use href="#d11"/></g></pattern>
<pattern id="p12" patternUnits="userSpaceOnUse" width="192" height="160"><g stroke="#d9d9d9" stroke-width="3.1" stroke-linecap="round" fill="none"><use href="#d0"/><use href="#d1"/><use href="#d2"/><use href="#d3"/><use href="#d4"/><use href="#d5"/><use href="#d6"/><use href="#d7"/><use href="#d8"/><use href="#d9"/><use href="#d10"/><use href="#d11"/><use href="#d12"/></g></pattern>
<pattern id="p13" patternUnits="userSpaceOnUse" width="192" height="160"><g stroke="#d9d9d9" stroke-width="3.1" stroke-linecap="round" fill="none"><use href="#d0"/><use href="#d1"/><use href="#d2"/><use href="#d3"/><use href="#d4"/><use href="#d5"/><use href="#d6"/><use href="#d7"/><use href="#d8"/><use href="#d9"/><use href="#d10"/><use href="#d11"/><use href="#d12"/><use href="#d13"/></g></pattern>
<pattern id="p14" patternUnits="userSpaceOnUse" width="192" height="160"><g stroke="#d9d9d9" stroke-width="3.1" stroke-linecap="round" fill="none"><use href="#d0"/><use href="#d1"/><use href="#d2"/><use href="#d3"/><use href="#d4"/><use href="#d5"/><use href="#d6"/><use href="#d7"/><use href="#d8"/><use href="#d9"/><use href="#d10"/><use href="#d11"/><use href="#d12"/><use href="#d13"/><use href="#d14"/></g></pattern>
<pattern id="p15" patternUnits="userSpaceOnUse" width="192" height="160"><g stroke="#d9d9d9" stroke-width="3.1" stroke-linecap="round" fill="none"><use href="#d0"/><use href="#d1"/><use href="#d2"/><use href="#d3"/><use href="#d4"/><use href="#d5"/><use href="#d6"/><use href="#d7"/><use href="#d8"/><use href="#d9"/><use href="#d10"/><use href="#d11"/><use href="#d12"/><use href="#d13"/><use href="#d14"/><use href="#d15"/></g></pattern>
<pattern id="p16" patternUnits="userSpaceOnUse" width="192" height="160"><g stroke="#d9d9d9" stroke-width="3.1" stroke-linecap="round" fill="none"><use href="#d0"/><use href="#d1"/><use href="#d2"/><use href="#d3"/><use href="#d4"/><use href="#d5"/><use href="#d6"/><use href="#d7"/><use href="#d8"/><use href="#d9"/><use href="#d10"/><use href="#d11"/><use href="#d12"/><use href="#d13"/><use href="#d14"/><use href="#d15"/><use href="#d16"/></g></pattern>
<pattern id="p17" patternUnits="userSpaceOnUse" width="192" height="160"><g stroke="#d9d9d9" stroke-width="3.1" stroke-linecap="round" fill="none"><use href="#d0"/><use href="#d1"/><use href="#d2"/><use href="#d3"/><use href="#d4"/><use href="#d5"/><use href="#d6"/><use href="#d7"/><use href="#d8"/><use href="#d9"/><use href="#d10"/><use href="#d11"/><use href="#d12"/><use href="#d13"/><use href="#d14"/><use href="#d15"/><use href="#d16"/><use href="#d17"/></g></pattern>
<pattern id="p18" patternUnits="userSpaceOnUse" width="192" height="160"><g stroke="#d9d9d9" stroke-width="3.1" stroke-linecap="round" fill="none"><use href="#d0"/><use href="#d1"/><use href="#d2"/><use href="#d3"/><use href="#d4"/><use href="#d5"/><use href="#d6"/><use href="#d7"/><use href="#d8"/><use href="#d9"/><use href="#d10"/><use href="#d11"/><use href="#d12"/><use href="#d13"/><use href="#d14"/><use href="#d15"/><use href="#d16"/><use href="#d17"/><use href="#d18"/></g></pattern>
<pattern id="p19" patternUnits="userSpaceOnUse" width="192" height="160"><g stroke="#d9d9d9" stroke-width="3.1" stroke-linecap="round" fill="none"><use href="#d0"/><use href="#d1"/><use href="#d2"/><use href="#d3"/><use href="#d4"/><use href="#d5"/><use href="#d6"/><use href="#d7"/><use href="#d8"/><use href="#d9"/><use href="#d10"/><use href="#d11"/><use href="#d12"/><use href="#d13"/><use href="#d14"/><use href="#d15"/><use href="#d16"/><use href="#d17"/><use href="#d18"/><use href="#d19"/></g></pattern>
<pattern id="p20" patternUnits="userSpaceOnUse" width="192" height="160"><g stroke="#d9d9d9" stroke-width="3.1" stroke-linecap="round" fill="none"><use href="#d0"/><use href="#d1"/><use href="#d2"/><use href="#d3"/><use href="#d4"/><use href="#d5"/><use href="#d6"/><use href="#d7"/><use href="#d8"/><use href="#d9"/><use href="#d10"/><use href="#d11"/><use href="#d12"/><use href="#d13"/><use href="#d14"/><use href="#d15"/><use href="#d16"/><use href="#d17"/><use href="#d18"/><use href="#d19"/><use href="#d20"/></g></pattern>
<pattern id="p21" patternUnits="userSpaceOnUse" width="192" height="160"><g stroke="#d9d9d9" stroke-width="3.1" stroke-linecap="round" fill="none"><use href="#d0"/><use href="#d1"/><use href="#d2"/><use href="#d3"/><use href="#d4"/><use href="#d5"/><use href="#d6"/><use href="#d7"/><use href="#d8"/><use href="#d9"/><use href="#d10"/><use href="#d11"/><use href="#d12"/><use href="#d13"/><use href="#d14"/><use href="#d15"/><use href="#d16"/><use href="#d17"/><use href="#d18"/><use href="#d19"/><use href="#d20"/><use href="#d21"/></g></pattern>
<pattern id="p22" patternUnits="userSpaceOnUse" width="192" height="160"><g stroke="#d9d9d9" stroke-width="3.1" stroke-linecap="round" fill="none"><use href="#d0"/><use href="#d1"/><use href="#d2"/><use href="#d3"/><use href="#d4"/><use href="#d5"/><use href="#d6"/><use href="#d7"/><use href="#d8"/><use href="#d9"/><use href="#d10"/><use href="#d11"/><use href="#d12"/><use href="#d13"/><use href="#d14"/><use href="#d15"/><use href="#d16"/><use href="#d17"/><use href="#d18"/><use href="#d19"/><use href="#d20"/><use href="#d21"/><use href="#d22"/></g></pattern>
<pattern id="p23" patternUnits="userSpaceOnUse" width="192" height="160"><g stroke="#d9d9d9" stroke-width="3.1" stroke-linecap="round" fill="none"><use href="#d0"/><use href="#d1"/><use href="#d2"/><use href="#d3"/><use href="#d4"/><use href="#d5"/><use href="#d6"/><use href="#d7"/><use href="#d8"/><use href="#d9"/><use href="#d10"/><use href="#d11"/><use href="#d12"/><use href="#d13"/><use href="#d14"/><use href="#d15"/><use href="#d16"/><use href="#d17"/><use href="#d18"/><use href="#d19"/><use href="#d20"/><use href="#d21"/><use href="#d22"/><use href="#d23"/></g></pattern>
<pattern id="p24" patternUnits="userSpaceOnUse" width="192" height="160"><g stroke="#d9d9d9" stroke-width="3.1" stroke-linecap="round" fill="none"><use href="#d0"/><use href="#d1"/><use href="#d2"/><use href="#d3"/><use href="#d4"/><use href="#d5"/><use href="#d6"/><use href="#d7"/><use href="#d8"/><use href="#d9"/><use href="#d10"/><use href="#d11"/><use href="#d12"/><use href="#d13"/><use href="#d14"/><use href="#d15"/><use href="#d16"/><use href="#d17"/><use href="#d18"/><use href="#d19"/><use href="#d20"/><use href="#d21"/><use href="#d22"/><use href="#d23"/><use href="#d24"/></g></pattern>
<pattern id="p25" patternUnits="userSpaceOnUse" width="192" height="160"><g stroke="#d9d9d9" stroke-width="3.1" stroke-linecap="round" fill="none"><use href="#d0"/><use href="#d1"/><use href="#d2"/><use href="#d3"/><use href="#d4"/><use href="#d5"/><use href="#d6"/><use href="#d7"/><use href="#d8"/><use href="#d9"/><use href="#d10"/><use href="#d11"/><use href="#d12"/><use href="#d13"/><use href="#d14"/><use href="#d15"/><use href="#d16"/><use href="#d17"/><use href="#d18"/><use href="#d19"/><use href="#d20"/><use href="#d21"/><use href="#d22"/><use href="#d23"/><use href="#d24"/><use href="#d25"/></g></pattern>
<pattern id="p26" patternUnits="userSpaceOnUse" width="192" height="160"><g stroke="#d9d9d9" stroke-width="3.1" stroke-linecap="round" fill="none"><use href="#d0"/><use href="#d1"/><use href="#d2"/><use href="#d3"/><use href="#d4"/><use href="#d5"/><use href="#d6"/><use href="#d7"/><use href="#d8"/><use href="#d9"/><use href="#d10"/><use href="#d11"/><use href="#d12"/><use href="#d13"/><use href="#d14"/><use href="#d15"/><use href="#d16"/><use href="#d17"/><use href="#d18"/><use href="#d19"/><use href="#d20"/><use href="#d21"/><use href="#d22"/><use href="#d23"/><use href="#d24"/><use href="#d25"/><use href="#d26"/></g></pattern>
<pattern id="p27" patternUnits="userSpaceOnUse" width="192" height="160"><g stroke="#d9d9d9" stroke-width="3.1" stroke-linecap="round" fill="none"><use href="#d0"/><use href="#d1"/><use href="#d2"/><use href="#d3"/><use href="#d4"/><use href="#d5"/><use href="#d6"/><use href="#d7"/><use href="#d8"/><use href="#d9"/><use href="#d10"/><use href="#d11"/><use href="#d12"/><use href="#d13"/><use href="#d14"/><use href="#d15"/><use href="#d16"/><use href="#d17"/><use href="#d18"/><use href="#d19"/><use href="#d20"/><use href="#d21"/><use href="#d22"/><use href="#d23"/><use href="#d24"/><use href="#d25"/><use href="#d26"/><use href="#d27"/></g></pattern>
<pattern id="p28" patternUnits="userSpaceOnUse" width="192" height="160"><g stroke="#d9d9d9" stroke-width="3.1" stroke-linecap="round" fill="none"><use href="#d0"/><use href="#d1"/><use href="#d2"/><use href="#d3"/><use href="#d4"/><use href="#d5"/><use href="#d6"/><use href="#d7"/><use href="#d8"/><use href="#d9"/><use href="#d10"/><use href="#d11"/><use href="#d12"/><use href="#d13"/><use href="#d14"/><use href="#d15"/><use href="#d16"/><use href="#d17"/><use href="#d18"/><use href="#d19"/><use href="#d20"/><use href="#d21"/><use href="#d22"/><use href="#d23"/><use href="#d24"/><use href="#d25"/><use href="#d26"/><use href="#d27"/><use href="#d28"/></g></pattern>
<pattern id="p29" patternUnits="userSpaceOnUse" width="192" height="160"><g stroke="#d9d9d9" stroke-width="3.1" stroke-linecap="round" fill="none"><use href="#d0"/><use href="#d1"/><use href="#d2"/><use href="#d3"/><use href="#d4"/><use href="#d5"/><use href="#d6"/><use href="#d7"/><use href="#d8"/><use href="#d9"/><use href="#d10"/><use href="#d11"/><use href="#d12"/><use href="#d13"/><use href="#d14"/><use href="#d15"/><use href="#d16"/><use href="#d17"/><use href="#d18"/><use href="#d19"/><use href="#d20"/><use href="#d21"/><use href="#d22"/><use href="#d23"/><use href="#d24"/><use href="#d25"/><use href="#d26"/><use href="#d27"/><use href="#d28"/><use href="#d29"/></g></pattern>
<pattern id="p30" patternUnits="userSpaceOnUse" width="192" height="160"><g stroke="#d9d9d9" stroke-width="3.1" stroke-linecap="round" fill="none"><use href="#d0"/><use href="#d1"/><use href="#d2"/><use href="#d3"/><use href="#d4"/><use href="#d5"/><use href="#d6"/><use href="#d7"/><use href="#d8"/><use href="#d9"/><use href="#d10"/><use href="#d11"/><use href="#d12"/><use href="#d13"/><use href="#d14"/><use href="#d15"/><use href="#d16"/><use href="#d17"/><use href="#d18"/><use href="#d19"/><use href="#d20"/><use href="#d21"/><use href="#d22"/><use href="#d23"/><use href="#d24"/><use href="#d25"/><use href="#d26"/><use href="#d27"/><use href="#d28"/><use href="#d29"/><use href="#d30"/></g></pattern>
</defs>
<g clip-path="url(#clipTop)">
<path fill="#d9d9d9" fill-opacity="0.01" d="M1162 157h12v12h-12z"/>
<path fill="#d9d9d9" fill-opacity="0.02" d="M1234 157h12v12h-12zM862 253h12v12h-12z"/>
<path fill="#d9d9d9" fill-opacity="0.03" d="M1006 373h12v12h-12zM1210 373h12v12h-12z"/>
<path fill="#d9d9d9" fill-opacity="0.04" d="M1078 169h12v12h-12zM1258 169h12v12h-12zM1234 361h12v12h-12z"/>
<path fill="#d9d9d9" fill-opacity="0.05" d="M1222 157h12v12h-12zM1294 241h12v12h-12z"/>
<path fill="#d9d9d9" fill-opacity="0.06" d="M1174 157h12v12h-12zM1294 193h12v12h-12zM946 217h12v12h-12z"/>
<path fill="#d9d9d9" fill-opacity="0.07" d="M922 349h12v12h-12z"/>
<path fill="#d9d9d9" fill-opacity="0.08" d="M910 349h12v12h-12zM1018 373h12v12h-12z"/>
<path fill="#d9d9d9" fill-opacity="0.09" d="M1186 157h12v12h-12zM1210 157h12v12h-12zM1246 169h12v12h-12z"/>
<path fill="#d9d9d9" fill-opacity="0.1" d="M958 361h12v12h-12z"/>
<path fill="#d9d9d9" fill-opacity="0.11" d="M1198 157h12v12h-12zM802 277h12v12h-12zM1282 301h12v12h-12z"/>
<path fill="#d9d9d9" fill-opacity="0.12" d="M934 349h12v12h-12z"/>
<path fill="#d9d9d9" fill-opacity="0.13" d="M1018 181h12v12h-12zM790 289h12v12h-12zM1030 373h12v12h-12z"/>
<path fill="#d9d9d9" fill-opacity="0.15" d="M946 349h12v12h-12zM874 361h12v12h-12zM826 385h12v12h-12z"/>
<path fill="#d9d9d9" fill-opacity="0.16" d="M1090 169h12v12h-12zM1234 169h12v12h-12zM1270 181h12v12h-12z"/>
<path fill="#d9d9d9" fill-opacity="0.17" d="M970 361h12v12h-12z"/>
<path fill="#d9d9d9" fill-opacity="0.18" d="M1042 373h12v12h-12zM1198 373h12v12h-12zM802 385h12v12h-12z"/>
<path fill="#d9d9d9" fill-opacity="0.19" d="M1222 361h12v12h-12z"/>
<path fill="#d9d9d9" fill-opacity="0.2" d="M1222 169h12v12h-12z"/>
<path fill="#d9d9d9" fill-opacity="0.21" d="M1102 169h24v12h-24zM970 205h12v12h-12zM1294 229h12v12h-12z"/>
<path fill="#d9d9d9" fill-opacity="0.22" d="M898 349h12v12h-12zM958 349h12v12h-12z"/>
<path fill="#d9d9d9" fill-opacity="0.23" d="M1126 169h12v12h-12zM982 361h12v12h-12zM1054 373h12v12h-12z"/>
<path fill="#d9d9d9" fill-opacity="0.25" d="M1138 169h12v12h-12zM1282 289h12v12h-12zM1186 373h12v12h-12z"/>
<path fill="#d9d9d9" fill-opacity="0.26" d="M1210 169h12v12h-12zM994 361h12v12h-12zM850 373h12v12h-12zM1066 373h12v12h-12z"/>
<path fill="#d9d9d9" fill-opacity="0.27" d="M1270 337h12v12h-12zM970 349h12v12h-12zM1162 373h24v12h-24z"/>
<path fill="#d9d9d9" fill-opacity="0.28" d="M1126 373h36v12h-36z"/>
<path fill="#d9d9d9" fill-opacity="0.29" d="M790 361h12v12h-12zM1006 361h12v12h-12zM1078 373h48v12h-48zM814 385h12v12h-12z"/>
<path fill="#d9d9d9" fill-opacity="0.3" d="M1150 169h12v12h-12zM910 241h12v12h-12zM982 349h12v12h-12z"/>
<path fill="#d9d9d9" fill-opacity="0.31" d="M1198 169h12v12h-12zM1210 361h12v12h-12z"/>
<path fill="#d9d9d9" fill-opacity="0.32" d="M874 253h12v12h-12zM994 349h12v12h-12zM1018 361h12v12h-12z"/>
<path fill="#d9d9d9" fill-opacity="0.33" d="M1186 169h12v12h-12zM1258 181h12v12h-12zM994 193h12v12h-12zM1294 217h12v12h-12z"/>
<path fill="#d9d9d9" fill-opacity="0.34" d="M1030 181h12v12h-12zM934 229h12v12h-12zM1006 349h12v12h-12z"/>
<path fill="#d9d9d9" fill-opacity="0.35" d="M838 265h12v12h-12zM1018 349h12v12h-12zM1030 361h12v12h-12z"/>
<path fill="#d9d9d9" fill-opacity="0.36" d="M1258 349h12v12h-12z"/>
<path fill="#d9d9d9" fill-opacity="0.37" d="M1282 277h12v12h-12zM1030 349h12v12h-12z"/>
<path fill="#d9d9d9" fill-opacity="0.38" d="M1042 361h12v12h-12z"/>
<path fill="#d9d9d9" fill-opacity="0.39" d="M1162 169h24v12h-24zM1294 205h12v12h-12zM1042 349h12v12h-12z"/>
<path fill="#d9d9d9" fill-opacity="0.4" d="M958 217h12v12h-12zM1054 361h12v12h-12z"/>
<path fill="#d9d9d9" fill-opacity="0.41" d="M1054 349h12v12h-12zM1198 361h12v12h-12z"/>
<path fill="#d9d9d9" fill-opacity="0.42" d="M814 277h12v12h-12zM886 349h12v12h-12z"/>
<path fill="#d9d9d9" fill-opacity="0.43" d="M1270 325h12v12h-12zM958 337h12v12h-12zM1066 349h12v12h-12zM1246 349h12v12h-12zM1066 361h12v12h-12z"/>
<path fill="#d9d9d9" fill-opacity="0.44" d="M886 253h12v12h-12zM970 337h12v12h-12zM1078 361h12v12h-12z"/>
<path fill="#d9d9d9" fill-opacity="0.45" d="M1246 181h12v12h-12zM1282 193h12v12h-12zM1282 265h12v12h-12zM946 337h12v12h-12zM1078 349h24v12h-24zM1102 349h12v12h-12zM862 361h12v12h-12zM1090 361h12v12h-12zM1102 361h24v12h-24z"/>
<path fill="#d9d9d9" fill-opacity="0.46" d="M1042 181h12v12h-12zM790 301h12v12h-12zM1114 349h12v12h-12zM1126 361h36v12h-36zM1186 361h12v12h-12z"/>
<path fill="#d9d9d9" fill-opacity="0.47" d="M982 205h12v12h-12zM850 265h12v12h-12zM790 349h12v12h-12zM1126 349h12v12h-12zM1162 361h24v12h-24zM802 373h12v12h-12zM838 373h12v12h-12z"/>
<path fill="#d9d9d9" fill-opacity="0.48" d="M922 241h12v12h-12zM982 337h12v12h-12zM1138 349h12v12h-12zM1234 349h12v12h-12z"/>
<path fill="#d9d9d9" fill-opacity="0.49" d="M1054 181h12v12h-12zM1234 181h12v12h-12zM1006 193h12v12h-12zM1282 253h12v12h-12zM1270 313h12v12h-12zM934 337h12v12h-12zM1150 349h24v12h-24zM1174 349h12v12h-12z"/>
<path fill="#d9d9d9" fill-opacity="0.5" d="M1066 181h12v12h-12zM946 229h12v12h-12zM898 253h12v12h-12zM802 289h12v12h-12zM790 313h12v12h-12zM790 325h12v12h-12zM790 337h12v12h-12zM922 337h12v12h-12zM994 337h60v12h-60zM1186 349h48v12h-48z"/>
<path fill="#d9d9d9" fill-opacity="0.51" d="M1078 181h12v12h-12zM1222 181h12v12h-12zM1270 193h12v12h-12zM970 217h12v12h-12zM1282 241h12v12h-12zM862 265h12v12h-12zM826 277h12v12h-12zM1270 301h12v12h-12zM910 337h12v12h-12zM1054 337h12v12h-12zM874 349h12v12h-12z"/>
<path fill="#d9d9d9" fill-opacity="0.52" d="M1090 181h48v12h-48zM1198 181h24v12h-24zM1018 193h12v12h-12zM994 205h12v12h-12zM1282 229h12v12h-12zM898 337h12v12h-12zM1066 337h48v12h-48zM1258 337h12v12h-12zM802 361h12v12h-12zM850 361h12v12h-12zM826 373h12v12h-12z"/>
<path fill="#d9d9d9" fill-opacity="0.53" d="M1138 181h60v12h-60zM1030 193h96v12h-96zM1126 193h60v12h-60zM1186 193h84v12h-84zM1006 205h48v12h-48zM1054 205h192v12h-192zM1246 205h48v12h-48zM982 217h48v12h-48zM1030 217h240v12h-240zM1270 217h24v12h-24zM958 229h48v12h-48zM1006 229h264v12h-264zM1270 229h12v12h-12zM934 241h48v12h-48zM982 241h288v12h-288zM1270 241h12v12h-12zM910 253h60v12h-60zM970 253h300v12h-300zM1270 253h12v12h-12zM874 265h72v12h-72zM946 265h324v12h-324zM1270 265h12v12h-12zM838 277h60v12h-60zM898 277h360v12h-360zM1258 277h24v12h-24zM814 289h48v12h-48zM862 289h396v12h-396zM1258 289h24v12h-24zM802 301h36v12h-36zM838 301h420v12h-420zM1258 301h12v12h-12zM802 313h24v12h-24zM826 313h432v12h-432zM1258 313h12v12h-12zM802 325h12v12h-12zM814 325h60v12h-60zM874 325h228v12h-228zM1102 325h144v12h-144zM1246 325h24v12h-24zM802 337h24v12h-24zM826 337h24v12h-24zM850 337h48v12h-48zM1114 337h144v12h-144zM802 349h72v12h-72zM814 361h36v12h-36zM814 373h12v12h-12z"/>
<path fill="url(#p0)" d="M166 1h372v12h-372zM166 13h372v12h-372zM166 25h360v12h-360zM166 37h360v12h-360zM166 49h348v12h-348zM166 61h348v12h-348zM166 73h336v12h-336zM166 85h312v12h-312zM166 97h288v12h-288zM166 109h264v12h-264zM166 121h240v12h-240z"/>
<path fill="url(#p1)" d="M538 1h60v12h-60zM538 13h60v12h-60zM526 25h72v12h-72zM526 37h72v12h-72zM514 49h72v12h-72zM514 61h72v12h-72zM502 73h84v12h-84zM478 85h96v12h-96zM454 97h108v12h-108zM430 109h120v12h-120zM406 121h132v12h-132zM166 133h360v12h-360zM166 145h348v12h-348z"/>
<path fill="url(#p2)" d="M598 1h36v12h-36zM598 13h36v12h-36zM598 25h36v12h-36zM598 37h24v12h-24zM586 49h36v12h-36zM586 61h36v12h-36zM586 73h36v12h-36zM574 85h48v12h-48zM562 97h48v12h-48zM550 109h48v12h-48zM538 121h48v12h-48zM526 133h48v12h-48zM514 145h48v12h-48zM166 157h372v12h-372zM166 169h156v12h-156zM418 169h108v12h-108zM166 361h96v12h-96zM166 373h108v12h-108zM166 385h108v12h-108zM166 397h120v12h-120zM166 409h120v12h-120zM166 421h132v12h-132zM166 433h144v12h-144zM166 445h144v12h-144zM166 457h168v12h-168zM166 469h180v12h-180zM166 481h204v12h-204zM166 493h216v12h-216zM166 505h228v12h-228zM1522 505h444v12h-444zM166 517h228v12h-228zM1510 517h456v12h-456z"/>
<path fill="url(#p3)" d="M634 1h36v12h-36zM634 13h24v12h-24zM634 25h24v12h-24zM622 37h36v12h-36zM622 49h24v12h-24zM622 61h24v12h-24zM622 73h24v12h-24zM622 85h12v12h-12zM610 97h24v12h-24zM598 109h24v12h-24zM586 121h36v12h-36zM574 133h36v12h-36zM562 145h36v12h-36zM538 157h48v12h-48zM322 169h96v12h-96zM526 169h48v12h-48zM166 181h84v12h-84zM406 181h144v12h-144zM490 193h36v12h-36zM166 337h180v12h-180zM166 349h204v12h-204zM262 361h108v12h-108zM274 373h96v12h-96zM274 385h96v12h-96zM286 397h84v12h-84zM286 409h84v12h-84zM298 421h84v12h-84zM310 433h72v12h-72zM310 445h84v12h-84zM334 457h60v12h-60zM1534 457h96v12h-96zM1822 457h144v12h-144zM346 469h48v12h-48zM1510 469h456v12h-456zM370 481h36v12h-36zM1498 481h468v12h-468zM382 493h36v12h-36zM1474 493h492v12h-492zM394 505h36v12h-36zM1450 505h72v12h-72zM394 517h36v12h-36zM1438 517h72v12h-72z"/>
<path fill="url(#p4)" d="M670 1h36v12h-36zM658 13h36v12h-36zM658 25h36v12h-36zM658 37h24v12h-24zM646 49h36v12h-36zM646 61h24v12h-24zM646 73h12v12h-12zM634 85h24v12h-24zM634 97h24v12h-24zM622 109h24v12h-24zM622 121h12v12h-12zM610 133h24v12h-24zM598 145h24v12h-24zM586 157h36v12h-36zM574 169h36v12h-36zM250 181h156v12h-156zM550 181h48v12h-48zM430 193h60v12h-60zM526 193h60v12h-60zM478 205h84v12h-84zM502 217h36v12h-36zM166 313h120v12h-120zM166 325h228v12h-228zM346 337h60v12h-60zM370 349h36v12h-36zM370 361h24v12h-24zM370 373h24v12h-24zM370 385h24v12h-24zM370 397h24v12h-24zM370 409h36v12h-36zM382 421h24v12h-24zM1522 421h444v12h-444zM382 433h24v12h-24zM1498 433h468v12h-468zM394 445h24v12h-24zM1486 445h480v12h-480zM394 457h24v12h-24zM1474 457h60v12h-60zM1630 457h192v12h-192zM394 469h36v12h-36zM1450 469h60v12h-60zM406 481h36v12h-36zM1438 481h60v12h-60zM418 493h36v12h-36zM1414 493h60v12h-60zM430 505h36v12h-36zM1402 505h48v12h-48zM430 517h48v12h-48zM1390 517h48v12h-48z"/>
<path fill="url(#p5)" d="M706 1h12v12h-12zM694 13h24v12h-24zM694 25h24v12h-24zM682 37h24v12h-24zM682 49h24v12h-24zM670 61h24v12h-24zM658 73h36v12h-36zM658 85h24v12h-24zM658 97h12v12h-12zM646 109h24v12h-24zM634 121h24v12h-24zM634 133h24v12h-24zM622 145h24v12h-24zM622 157h24v12h-24zM610 169h24v12h-24zM598 181h24v12h-24zM166 193h264v12h-264zM586 193h24v12h-24zM442 205h36v12h-36zM562 205h48v12h-48zM466 217h36v12h-36zM538 217h60v12h-60zM490 229h84v12h-84zM490 241h60v12h-60zM502 253h36v12h-36zM502 265h24v12h-24zM166 301h144v12h-144zM286 313h168v12h-168zM394 325h60v12h-60zM406 337h36v12h-36zM406 349h24v12h-24zM394 361h24v12h-24zM394 373h24v12h-24zM394 385h24v12h-24zM394 397h24v12h-24zM1546 397h420v12h-420zM406 409h12v12h-12zM1498 409h468v12h-468zM406 421h24v12h-24zM1462 421h60v12h-60zM406 433h24v12h-24zM1450 433h48v12h-48zM418 445h24v12h-24zM1426 445h60v12h-60zM418 457h36v12h-36zM1414 457h60v12h-60zM430 469h36v12h-36zM1390 469h60v12h-60zM442 481h36v12h-36zM1378 481h60v12h-60zM454 493h36v12h-36zM1366 493h48v12h-48zM466 505h36v12h-36zM1354 505h48v12h-48zM478 517h36v12h-36zM1354 517h36v12h-36z"/>
<path fill="url(#p6)" d="M718 1h12v12h-12zM1678 1h288v12h-288zM718 13h12v12h-12zM1702 13h264v12h-264zM718 25h12v12h-12zM1726 25h240v12h-240zM706 37h24v12h-24zM1738 37h228v12h-228zM706 49h12v12h-12zM694 61h24v12h-24zM694 73h24v12h-24zM682 85h24v12h-24zM670 97h36v12h-36zM670 109h24v12h-24zM658 121h24v12h-24zM658 133h24v12h-24zM646 145h24v12h-24zM646 157h12v12h-12zM634 169h24v12h-24zM622 181h24v12h-24zM610 193h24v12h-24zM394 205h48v12h-48zM610 205h12v12h-12zM442 217h24v12h-24zM598 217h24v12h-24zM466 229h24v12h-24zM574 229h36v12h-36zM466 241h24v12h-24zM550 241h60v12h-60zM478 253h24v12h-24zM538 253h60v12h-60zM478 265h24v12h-24zM526 265h48v12h-48zM466 277h96v12h-96zM418 289h132v12h-132zM310 301h228v12h-228zM454 313h72v12h-72zM454 325h60v12h-60zM442 337h36v12h-36zM430 349h36v12h-36zM418 361h36v12h-36zM418 373h24v12h-24zM418 385h24v12h-24zM1522 385h444v12h-444zM418 397h24v12h-24zM1486 397h60v12h-60zM418 409h36v12h-36zM1450 409h48v12h-48zM430 421h24v12h-24zM1414 421h48v12h-48zM430 433h36v12h-36zM1378 433h72v12h-72zM442 445h36v12h-36zM1366 445h60v12h-60zM454 457h36v12h-36zM1354 457h60v12h-60zM466 469h36v12h-36zM1354 469h36v12h-36zM478 481h36v12h-36zM1342 481h36v12h-36zM490 493h36v12h-36zM1342 493h24v12h-24zM502 505h24v12h-24zM1342 505h12v12h-12zM514 517h24v12h-24zM1342 517h12v12h-12z"/>
<path fill="url(#p7)" d="M730 1h24v12h-24zM1558 1h120v12h-120zM730 13h24v12h-24zM1594 13h108v12h-108zM730 25h12v12h-12zM1630 25h96v12h-96zM730 37h12v12h-12zM1654 37h84v12h-84zM718 49h24v12h-24zM1678 49h288v12h-288zM718 61h12v12h-12zM1702 61h168v12h-168zM718 73h12v12h-12zM1726 73h60v12h-60zM706 85h24v12h-24zM1738 85h24v12h-24zM706 97h12v12h-12zM694 109h24v12h-24zM682 121h24v12h-24zM682 133h24v12h-24zM670 145h24v12h-24zM658 157h36v12h-36zM658 169h12v12h-12zM646 181h12v12h-12zM634 193h12v12h-12zM166 205h228v12h-228zM622 205h12v12h-12zM406 217h36v12h-36zM622 217h12v12h-12zM430 229h36v12h-36zM610 229h12v12h-12zM442 241h24v12h-24zM610 241h12v12h-12zM442 253h36v12h-36zM598 253h12v12h-12zM442 265h36v12h-36zM574 265h36v12h-36zM418 277h48v12h-48zM562 277h36v12h-36zM166 289h252v12h-252zM550 289h36v12h-36zM538 301h36v12h-36zM526 313h36v12h-36zM514 325h36v12h-36zM478 337h48v12h-48zM466 349h36v12h-36zM454 361h24v12h-24zM1546 361h60v12h-60zM1786 361h180v12h-180zM442 373h24v12h-24zM1510 373h456v12h-456zM442 385h24v12h-24zM1486 385h36v12h-36zM442 397h36v12h-36zM1450 397h36v12h-36zM454 409h24v12h-24zM1390 409h60v12h-60zM454 421h36v12h-36zM1354 421h60v12h-60zM466 433h36v12h-36zM1354 433h24v12h-24zM478 445h36v12h-36zM1342 445h24v12h-24zM490 457h24v12h-24zM1342 457h12v12h-12zM502 469h24v12h-24zM1342 469h12v12h-12zM514 481h24v12h-24zM526 493h24v12h-24zM1330 493h12v12h-12zM526 505h24v12h-24zM1330 505h12v12h-12zM538 517h24v12h-24zM1330 517h12v12h-12z"/>
<path fill="url(#p8)" d="M754 1h12v12h-12zM1522 1h36v12h-36zM754 13h12v12h-12zM1522 13h72v12h-72zM742 25h24v12h-24zM1534 25h96v12h-96zM742 37h24v12h-24zM1546 37h108v12h-108zM742 49h12v12h-12zM1582 49h96v12h-96zM730 61h24v12h-24zM1630 61h72v12h-72zM1870 61h96v12h-96zM730 73h24v12h-24zM1654 73h72v12h-72zM1786 73h180v12h-180zM730 85h12v12h-12zM1678 85h60v12h-60zM1762 85h60v12h-60zM718 97h24v12h-24zM1714 97h60v12h-60zM718 109h12v12h-12zM706 121h24v12h-24zM706 133h12v12h-12zM694 145h24v12h-24zM694 157h12v12h-12zM670 169h36v12h-36zM658 181h24v12h-24zM646 193h24v12h-24zM634 205h24v12h-24zM166 217h240v12h-240zM634 217h12v12h-12zM406 229h24v12h-24zM622 229h12v12h-12zM418 241h24v12h-24zM622 241h12v12h-12zM418 253h24v12h-24zM610 253h24v12h-24zM406 265h36v12h-36zM610 265h12v12h-12zM166 277h252v12h-252zM598 277h24v12h-24zM586 289h24v12h-24zM574 301h36v12h-36zM562 313h36v12h-36zM550 325h48v12h-48zM526 337h48v12h-48zM1834 337h132v12h-132zM502 349h36v12h-36zM1522 349h444v12h-444zM478 361h36v12h-36zM1498 361h48v12h-48zM1606 361h180v12h-180zM466 373h36v12h-36zM1474 373h36v12h-36zM466 385h36v12h-36zM1438 385h48v12h-48zM478 397h24v12h-24zM1378 397h72v12h-72zM478 409h36v12h-36zM1354 409h36v12h-36zM490 421h36v12h-36zM1342 421h12v12h-12zM502 433h24v12h-24zM1342 433h12v12h-12zM514 445h24v12h-24zM1330 445h12v12h-12zM514 457h36v12h-36zM1330 457h12v12h-12zM526 469h24v12h-24zM1330 469h12v12h-12zM538 481h24v12h-24zM1330 481h12v12h-12zM550 493h24v12h-24zM1318 493h12v12h-12zM550 505h36v12h-36zM1318 505h12v12h-12zM562 517h24v12h-24zM1318 517h12v12h-12z"/>
<path fill="url(#p9)" d="M766 1h24v12h-24zM1486 1h36v12h-36zM766 13h24v12h-24zM1498 13h24v12h-24zM766 25h24v12h-24zM1510 25h24v12h-24zM766 37h24v12h-24zM1522 37h24v12h-24zM754 49h24v12h-24zM1522 49h60v12h-60zM754 61h24v12h-24zM1546 61h84v12h-84zM754 73h24v12h-24zM1570 73h84v12h-84zM742 85h24v12h-24zM1618 85h60v12h-60zM1822 85h144v12h-144zM742 97h12v12h-12zM1654 97h60v12h-60zM1774 97h72v12h-72zM730 109h24v12h-24zM1714 109h72v12h-72zM730 121h12v12h-12zM718 133h24v12h-24zM718 145h12v12h-12zM706 157h24v12h-24zM706 169h12v12h-12zM682 181h24v12h-24zM670 193h24v12h-24zM658 205h12v12h-12zM646 217h12v12h-12zM166 229h240v12h-240zM634 229h24v12h-24zM322 241h96v12h-96zM634 241h12v12h-12zM166 253h252v12h-252zM634 253h12v12h-12zM166 265h240v12h-240zM622 265h12v12h-12zM622 277h12v12h-12zM610 289h24v12h-24zM610 301h12v12h-12zM598 313h24v12h-24zM598 325h24v12h-24zM1774 325h192v12h-192zM574 337h36v12h-36zM1510 337h324v12h-324zM538 349h60v12h-60zM1486 349h36v12h-36zM514 361h60v12h-60zM1462 361h36v12h-36zM502 373h48v12h-48zM1426 373h48v12h-48zM502 385h36v12h-36zM1366 385h72v12h-72zM502 397h36v12h-36zM1354 397h24v12h-24zM514 409h36v12h-36zM1342 409h12v12h-12zM526 421h24v12h-24zM1330 421h12v12h-12zM526 433h36v12h-36zM1330 433h12v12h-12zM538 445h36v12h-36zM1318 445h12v12h-12zM550 457h24v12h-24zM1318 457h12v12h-12zM550 469h36v12h-36zM1318 469h12v12h-12zM562 481h36v12h-36zM1318 481h12v12h-12zM574 493h36v12h-36zM1306 493h12v12h-12zM586 505h24v12h-24zM1306 505h12v12h-12zM586 517h36v12h-36zM1306 517h12v12h-12z"/>
<path fill="url(#p10)" d="M790 1h24v12h-24zM1474 1h12v12h-12zM790 13h24v12h-24zM1474 13h24v12h-24zM790 25h12v12h-12zM1486 25h24v12h-24zM790 37h12v12h-12zM1498 37h24v12h-24zM778 49h24v12h-24zM1510 49h12v12h-12zM778 61h24v12h-24zM1522 61h24v12h-24zM778 73h12v12h-12zM1534 73h36v12h-36zM766 85h24v12h-24zM1546 85h72v12h-72zM754 97h24v12h-24zM1582 97h72v12h-72zM1846 97h120v12h-120zM754 109h12v12h-12zM1630 109h84v12h-84zM1786 109h60v12h-60zM742 121h24v12h-24zM1714 121h48v12h-48zM742 133h12v12h-12zM730 145h24v12h-24zM730 157h12v12h-12zM718 169h12v12h-12zM706 181h12v12h-12zM694 193h12v12h-12zM670 205h24v12h-24zM658 217h24v12h-24zM658 229h12v12h-12zM166 241h156v12h-156zM646 241h24v12h-24zM646 253h12v12h-12zM634 265h24v12h-24zM634 277h12v12h-12zM634 289h12v12h-12zM622 301h12v12h-12zM622 313h12v12h-12zM1702 313h72v12h-72zM622 325h12v12h-12zM1498 325h276v12h-276zM610 337h12v12h-12zM1474 337h36v12h-36zM598 349h24v12h-24zM1450 349h36v12h-36zM574 361h36v12h-36zM1402 361h60v12h-60zM550 373h48v12h-48zM1366 373h60v12h-60zM538 385h48v12h-48zM1354 385h12v12h-12zM538 397h36v12h-36zM1342 397h12v12h-12zM550 409h24v12h-24zM1330 409h12v12h-12zM550 421h36v12h-36zM1318 421h12v12h-12zM562 433h36v12h-36zM1318 433h12v12h-12zM574 445h24v12h-24zM1306 445h12v12h-12zM574 457h36v12h-36zM1306 457h12v12h-12zM586 469h24v12h-24zM1306 469h12v12h-12zM598 481h24v12h-24zM1294 481h24v12h-24zM610 493h12v12h-12zM1294 493h12v12h-12zM610 505h24v12h-24zM1294 505h12v12h-12zM622 517h12v12h-12zM1282 517h24v12h-24z"/>
<path fill="url(#p11)" d="M814 1h12v12h-12zM1450 1h24v12h-24zM814 13h12v12h-12zM1462 13h12v12h-12zM802 25h24v12h-24zM1474 25h12v12h-12zM802 37h12v12h-12zM1474 37h24v12h-24zM802 49h12v12h-12zM1486 49h24v12h-24zM802 61h12v12h-12zM1498 61h24v12h-24zM790 73h24v12h-24zM1522 73h12v12h-12zM790 85h12v12h-12zM1534 85h12v12h-12zM778 97h24v12h-24zM1534 97h48v12h-48zM766 109h24v12h-24zM1558 109h72v12h-72zM1846 109h120v12h-120zM766 121h24v12h-24zM1630 121h84v12h-84zM1762 121h60v12h-60zM754 133h24v12h-24zM754 145h12v12h-12zM742 157h12v12h-12zM730 169h12v12h-12zM718 181h12v12h-12zM706 193h12v12h-12zM694 205h12v12h-12zM682 217h24v12h-24zM670 229h24v12h-24zM670 241h12v12h-12zM658 253h24v12h-24zM658 265h12v12h-12zM646 277h24v12h-24zM646 289h12v12h-12zM634 301h24v12h-24zM634 313h12v12h-12zM1510 313h192v12h-192zM1774 313h84v12h-84zM634 325h12v12h-12zM1462 325h36v12h-36zM622 337h12v12h-12zM1426 337h48v12h-48zM622 349h12v12h-12zM1378 349h72v12h-72zM610 361h12v12h-12zM1366 361h36v12h-36zM598 373h24v12h-24zM1354 373h12v12h-12zM586 385h24v12h-24zM1342 385h12v12h-12zM574 397h36v12h-36zM574 409h36v12h-36zM586 421h24v12h-24zM1306 421h12v12h-12zM598 433h12v12h-12zM1306 433h12v12h-12zM598 445h24v12h-24zM1294 445h12v12h-12zM610 457h12v12h-12zM1294 457h12v12h-12zM610 469h24v12h-24zM1294 469h12v12h-12zM622 481h12v12h-12zM1282 481h12v12h-12zM622 493h24v12h-24zM1282 493h12v12h-12zM634 505h24v12h-24zM1270 505h24v12h-24zM634 517h24v12h-24zM1270 517h12v12h-12z"/>
<path fill="url(#p12)" d="M826 1h24v12h-24zM1438 1h12v12h-12zM826 13h24v12h-24zM1450 13h12v12h-12zM826 25h12v12h-12zM1450 25h24v12h-24zM814 37h24v12h-24zM1462 37h12v12h-12zM814 49h12v12h-12zM1474 49h12v12h-12zM814 61h12v12h-12zM1486 61h12v12h-12zM1510 73h12v12h-12zM802 85h12v12h-12zM1522 85h12v12h-12zM802 97h12v12h-12zM790 109h12v12h-12zM1534 109h24v12h-24zM790 121h12v12h-12zM1546 121h84v12h-84zM1822 121h60v12h-60zM778 133h12v12h-12zM1690 133h96v12h-96zM766 145h24v12h-24zM754 157h24v12h-24zM742 169h24v12h-24zM730 181h12v12h-12zM718 193h12v12h-12zM706 205h12v12h-12zM706 217h12v12h-12zM694 229h12v12h-12zM682 241h24v12h-24zM682 253h12v12h-12zM670 265h24v12h-24zM670 277h12v12h-12zM658 289h24v12h-24zM658 301h12v12h-12zM1618 301h156v12h-156zM646 313h24v12h-24zM1462 313h48v12h-48zM1858 313h108v12h-108zM646 325h12v12h-12zM1426 325h36v12h-36zM634 337h24v12h-24zM1378 337h48v12h-48zM634 349h12v12h-12zM1366 349h12v12h-12zM622 361h12v12h-12zM1354 361h12v12h-12zM622 373h12v12h-12zM610 385h12v12h-12zM610 397h12v12h-12zM1330 397h12v12h-12zM610 409h12v12h-12zM1318 409h12v12h-12zM610 421h12v12h-12zM1294 421h12v12h-12zM610 433h24v12h-24zM1282 433h24v12h-24zM622 445h12v12h-12zM1282 445h12v12h-12zM622 457h24v12h-24zM1282 457h12v12h-12zM634 469h12v12h-12zM1282 469h12v12h-12zM634 481h24v12h-24zM1270 481h12v12h-12zM646 493h24v12h-24zM1270 493h12v12h-12zM658 505h24v12h-24zM1258 505h12v12h-12zM658 517h36v12h-36zM1258 517h12v12h-12z"/>
<path fill="url(#p13)" d="M850 1h24v12h-24zM1414 1h24v12h-24zM850 13h12v12h-12zM1426 13h24v12h-24zM838 25h24v12h-24zM1438 25h12v12h-12zM838 37h12v12h-12zM1450 37h12v12h-12zM826 49h12v12h-12zM1462 49h12v12h-12zM826 61h12v12h-12zM1474 61h12v12h-12zM814 73h12v12h-12zM1486 73h24v12h-24zM814 85h12v12h-12zM1510 85h12v12h-12zM1522 97h12v12h-12zM802 109h12v12h-12zM1522 109h12v12h-12zM802 121h12v12h-12zM1534 121h12v12h-12zM1882 121h84v12h-84zM790 133h12v12h-12zM1594 133h96v12h-96zM1786 133h48v12h-48zM790 145h12v12h-12zM778 157h12v12h-12zM766 169h12v12h-12zM742 181h24v12h-24zM730 193h12v12h-12zM718 205h12v12h-12zM718 217h12v12h-12zM706 229h12v12h-12zM706 241h12v12h-12zM694 253h12v12h-12zM694 265h12v12h-12zM682 277h24v12h-24zM682 289h12v12h-12zM670 301h24v12h-24zM1486 301h132v12h-132zM1774 301h24v12h-24zM670 313h24v12h-24zM1438 313h24v12h-24zM658 325h24v12h-24zM1378 325h48v12h-48zM658 337h12v12h-12zM1366 337h12v12h-12zM646 349h12v12h-12zM1354 349h12v12h-12zM634 361h24v12h-24zM634 373h12v12h-12zM1342 373h12v12h-12zM622 385h12v12h-12zM622 397h12v12h-12zM622 409h12v12h-12zM1306 409h12v12h-12zM622 421h24v12h-24zM1282 421h12v12h-12zM634 433h12v12h-12zM634 445h24v12h-24zM1270 445h12v12h-12zM646 457h12v12h-12zM1270 457h12v12h-12zM646 469h24v12h-24zM1270 469h12v12h-12zM658 481h24v12h-24zM1258 481h12v12h-12zM670 493h24v12h-24zM1258 493h12v12h-12zM682 505h36v12h-36zM694 517h60v12h-60zM1246 517h12v12h-12z"/>
<path fill="url(#p14)" d="M874 1h24v12h-24zM1378 1h36v12h-36zM862 13h24v12h-24zM1390 13h36v12h-36zM862 25h12v12h-12zM1414 25h24v12h-24zM850 37h24v12h-24zM1426 37h24v12h-24zM838 49h24v12h-24zM1450 49h12v12h-12zM838 61h12v12h-12zM1462 61h12v12h-12zM826 73h24v12h-24zM1474 73h12v12h-12zM826 85h12v12h-12zM1498 85h12v12h-12zM814 97h12v12h-12zM1510 97h12v12h-12zM814 109h12v12h-12zM1522 121h12v12h-12zM802 133h12v12h-12zM1546 133h48v12h-48zM1834 133h132v12h-132zM802 145h12v12h-12zM1690 145h96v12h-96zM790 157h12v12h-12zM778 169h24v12h-24zM766 181h12v12h-12zM742 193h12v12h-12zM730 205h12v12h-12zM718 229h12v12h-12zM706 253h12v12h-12zM706 265h12v12h-12zM694 289h12v12h-12zM694 301h12v12h-12zM1450 301h36v12h-36zM1798 301h48v12h-48zM694 313h12v12h-12zM1390 313h48v12h-48zM682 325h12v12h-12zM1366 325h12v12h-12zM670 337h24v12h-24zM1354 337h12v12h-12zM658 349h24v12h-24zM658 361h12v12h-12zM1342 361h12v12h-12zM646 373h12v12h-12zM634 385h24v12h-24zM1330 385h12v12h-12zM634 397h12v12h-12zM1318 397h12v12h-12zM634 409h24v12h-24zM1294 409h12v12h-12zM646 421h12v12h-12zM1270 421h12v12h-12zM646 433h24v12h-24zM1270 433h12v12h-12zM658 445h12v12h-12zM658 457h24v12h-24zM1258 457h12v12h-12zM670 469h24v12h-24zM1258 469h12v12h-12zM682 481h24v12h-24zM694 493h48v12h-48zM1246 493h12v12h-12zM718 505h84v12h-84zM1234 505h24v12h-24zM754 517h48v12h-48zM1234 517h12v12h-12z"/>
<path fill="url(#p15)" d="M898 1h12v12h-12zM1354 1h24v12h-24zM886 13h24v12h-24zM1366 13h24v12h-24zM874 25h24v12h-24zM1378 25h36v12h-36zM874 37h12v12h-12zM1390 37h36v12h-36zM862 49h12v12h-12zM1426 49h24v12h-24zM850 61h24v12h-24zM1450 61h12v12h-12zM850 73h12v12h-12zM1462 73h12v12h-12zM838 85h12v12h-12zM1486 85h12v12h-12zM826 97h12v12h-12zM1498 97h12v12h-12zM826 109h12v12h-12zM1510 109h12v12h-12zM814 121h12v12h-12zM814 133h12v12h-12zM1534 133h12v12h-12zM1582 145h108v12h-108zM1786 145h60v12h-60zM802 157h12v12h-12zM778 181h12v12h-12zM754 193h24v12h-24zM742 205h12v12h-12zM730 217h12v12h-12zM730 229h12v12h-12zM718 241h12v12h-12zM718 253h12v12h-12zM706 277h12v12h-12zM706 289h12v12h-12zM1462 289h300v12h-300zM706 301h12v12h-12zM1402 301h48v12h-48zM1846 301h120v12h-120zM1366 313h24v12h-24zM694 325h12v12h-12zM1354 325h12v12h-12zM694 337h12v12h-12zM682 349h12v12h-12zM670 361h24v12h-24zM658 373h24v12h-24zM658 385h12v12h-12zM646 397h24v12h-24zM1306 397h12v12h-12zM658 409h12v12h-12zM1282 409h12v12h-12zM658 421h24v12h-24zM670 433h12v12h-12zM1258 433h12v12h-12zM670 445h24v12h-24zM1258 445h12v12h-12zM682 457h24v12h-24zM694 469h36v12h-36zM1246 469h12v12h-12zM706 481h60v12h-60zM1246 481h12v12h-12zM742 493h60v12h-60zM1234 493h12v12h-12zM802 505h12v12h-12zM1222 505h12v12h-12zM802 517h24v12h-24zM1222 517h12v12h-12z"/>
<path fill="url(#p16)" d="M910 1h24v12h-24zM1330 1h24v12h-24zM910 13h12v12h-12zM1342 13h24v12h-24zM898 25h12v12h-12zM1342 25h36v12h-36zM886 37h24v12h-24zM1354 37h36v12h-36zM874 49h24v12h-24zM1378 49h48v12h-48zM874 61h12v12h-12zM1426 61h24v12h-24zM862 73h12v12h-12zM1450 73h12v12h-12zM850 85h12v12h-12zM1474 85h12v12h-12zM838 97h24v12h-24zM1486 97h12v12h-12zM838 109h12v12h-12zM1498 109h12v12h-12zM826 121h12v12h-12zM1510 121h12v12h-12zM826 133h12v12h-12zM1522 133h12v12h-12zM814 145h12v12h-12zM1534 145h48v12h-48zM1846 145h120v12h-120zM814 157h12v12h-12zM1678 157h96v12h-96zM802 169h12v12h-12zM790 181h12v12h-12zM778 193h12v12h-12zM754 205h24v12h-24zM742 217h12v12h-12zM730 241h12v12h-12zM718 265h12v12h-12zM1498 277h72v12h-72zM1414 289h48v12h-48zM1762 289h24v12h-24zM1366 301h36v12h-36zM706 313h12v12h-12zM1354 313h12v12h-12zM706 325h12v12h-12zM1342 337h12v12h-12zM694 349h12v12h-12zM1342 349h12v12h-12zM694 361h12v12h-12zM682 373h12v12h-12zM1330 373h12v12h-12zM670 385h24v12h-24zM1318 385h12v12h-12zM670 397h12v12h-12zM1294 397h12v12h-12zM670 409h24v12h-24zM1270 409h12v12h-12zM682 421h12v12h-12zM1258 421h12v12h-12zM682 433h24v12h-24zM694 445h24v12h-24zM1246 445h12v12h-12zM706 457h36v12h-36zM1246 457h12v12h-12zM730 469h48v12h-48zM766 481h48v12h-48zM1234 481h12v12h-12zM802 493h24v12h-24zM1222 493h12v12h-12zM814 505h12v12h-12zM1210 505h12v12h-12zM826 517h12v12h-12zM1198 517h24v12h-24z"/>
<path fill="url(#p17)" d="M934 1h12v12h-12zM1306 1h24v12h-24zM922 13h24v12h-24zM1318 13h24v12h-24zM910 25h24v12h-24zM1330 25h12v12h-12zM910 37h12v12h-12zM1330 37h24v12h-24zM898 49h12v12h-12zM1342 49h36v12h-36zM886 61h24v12h-24zM1354 61h72v12h-72zM874 73h24v12h-24zM1438 73h12v12h-12zM862 85h24v12h-24zM1462 85h12v12h-12zM862 97h12v12h-12zM1474 97h12v12h-12zM850 109h12v12h-12zM1486 109h12v12h-12zM838 121h12v12h-12zM1498 121h12v12h-12zM838 133h12v12h-12zM1510 133h12v12h-12zM826 145h12v12h-12zM1522 145h12v12h-12zM826 157h12v12h-12zM1558 157h120v12h-120zM1774 157h60v12h-60zM814 169h12v12h-12zM802 181h12v12h-12zM790 193h12v12h-12zM778 205h12v12h-12zM754 217h12v12h-12zM742 229h12v12h-12zM730 253h12v12h-12zM718 277h12v12h-12zM1426 277h72v12h-72zM1570 277h72v12h-72zM718 289h12v12h-12zM1366 289h48v12h-48zM1786 289h36v12h-36zM718 301h12v12h-12zM1354 301h12v12h-12zM1342 325h12v12h-12zM706 337h12v12h-12zM706 349h12v12h-12zM706 361h12v12h-12zM694 373h12v12h-12zM694 385h12v12h-12zM682 397h24v12h-24zM694 409h12v12h-12zM694 421h24v12h-24zM706 433h24v12h-24zM1246 433h12v12h-12zM718 445h36v12h-36zM742 457h36v12h-36zM1234 457h12v12h-12zM778 469h36v12h-36zM1234 469h12v12h-12zM814 481h12v12h-12zM1222 481h12v12h-12zM826 493h12v12h-12zM1210 493h12v12h-12zM826 505h24v12h-24zM1186 505h24v12h-24zM838 517h12v12h-12zM1174 517h24v12h-24z"/>
<path fill="url(#p18)" d="M946 1h24v12h-24zM1282 1h24v12h-24zM946 13h12v12h-12zM1294 13h24v12h-24zM934 25h24v12h-24zM1306 25h24v12h-24zM922 37h24v12h-24zM1318 37h12v12h-12zM910 49h24v12h-24zM1330 49h12v12h-12zM910 61h12v12h-12zM1330 61h24v12h-24zM898 73h24v12h-24zM1342 73h96v12h-96zM886 85h24v12h-24zM1450 85h12v12h-12zM874 97h12v12h-12zM1462 97h12v12h-12zM862 109h12v12h-12zM1474 109h12v12h-12zM850 121h12v12h-12zM1486 121h12v12h-12zM850 133h12v12h-12zM1498 133h12v12h-12zM838 145h12v12h-12zM1510 145h12v12h-12zM1534 157h24v12h-24zM1834 157h132v12h-132zM826 169h12v12h-12zM1654 169h120v12h-120zM814 181h12v12h-12zM802 193h12v12h-12zM790 205h12v12h-12zM766 217h24v12h-24zM754 229h12v12h-12zM742 241h12v12h-12zM742 253h12v12h-12zM730 265h12v12h-12zM1438 265h132v12h-132zM730 277h12v12h-12zM1366 277h60v12h-60zM1642 277h84v12h-84zM1354 289h12v12h-12zM1822 289h36v12h-36zM718 313h12v12h-12zM1342 313h12v12h-12zM718 325h12v12h-12zM1330 361h12v12h-12zM706 373h12v12h-12zM706 385h12v12h-12zM1306 385h12v12h-12zM706 397h12v12h-12zM1282 397h12v12h-12zM706 409h24v12h-24zM1258 409h12v12h-12zM718 421h12v12h-12zM1246 421h12v12h-12zM730 433h24v12h-24zM754 445h24v12h-24zM1234 445h12v12h-12zM778 457h36v12h-36zM1222 457h12v12h-12zM814 469h24v12h-24zM1222 469h12v12h-12zM826 481h24v12h-24zM1198 481h24v12h-24zM838 493h24v12h-24zM1174 493h36v12h-36zM850 505h12v12h-12zM1150 505h36v12h-36zM850 517h24v12h-24zM1138 517h36v12h-36z"/>
<path fill="url(#p19)" d="M970 1h24v12h-24zM1270 1h12v12h-12zM958 13h24v12h-24zM1282 13h12v12h-12zM958 25h12v12h-12zM1294 25h12v12h-12zM946 37h24v12h-24zM1294 37h24v12h-24zM934 49h24v12h-24zM1306 49h24v12h-24zM922 61h24v12h-24zM1318 61h12v12h-12zM922 73h12v12h-12zM1330 73h12v12h-12zM910 85h12v12h-12zM1342 85h108v12h-108zM886 97h24v12h-24zM1450 97h12v12h-12zM874 109h24v12h-24zM1462 109h12v12h-12zM862 121h24v12h-24zM1474 121h12v12h-12zM862 133h12v12h-12zM1486 133h12v12h-12zM850 145h12v12h-12zM1498 145h12v12h-12zM838 157h12v12h-12zM1522 157h12v12h-12zM1546 169h108v12h-108zM1774 169h36v12h-36zM802 205h12v12h-12zM790 217h12v12h-12zM766 229h24v12h-24zM754 241h12v12h-12zM742 265h12v12h-12zM1378 265h60v12h-60zM1570 265h36v12h-36zM1354 277h12v12h-12zM1726 277h36v12h-36zM730 289h12v12h-12zM1858 289h108v12h-108zM730 301h12v12h-12zM1342 301h12v12h-12zM718 337h12v12h-12zM718 349h12v12h-12zM718 361h12v12h-12zM718 373h12v12h-12zM1318 373h12v12h-12zM718 385h12v12h-12zM1294 385h12v12h-12zM718 397h12v12h-12zM1270 397h12v12h-12zM730 409h12v12h-12zM730 421h24v12h-24zM754 433h24v12h-24zM1234 433h12v12h-12zM778 445h36v12h-36zM1222 445h12v12h-12zM814 457h24v12h-24zM1210 457h12v12h-12zM838 469h24v12h-24zM1198 469h24v12h-24zM850 481h24v12h-24zM1174 481h24v12h-24zM862 493h24v12h-24zM1138 493h36v12h-36zM862 505h24v12h-24zM1114 505h36v12h-36zM874 517h24v12h-24zM1102 517h36v12h-36z"/>
<path fill="url(#p20)" d="M994 1h24v12h-24zM1258 1h12v12h-12zM982 13h24v12h-24zM1258 13h24v12h-24zM970 25h24v12h-24zM1270 25h24v12h-24zM970 37h24v12h-24zM1282 37h12v12h-12zM958 49h24v12h-24zM1294 49h12v12h-12zM946 61h24v12h-24zM1306 61h12v12h-12zM934 73h24v12h-24zM1318 73h12v12h-12zM922 85h24v12h-24zM1318 85h24v12h-24zM910 97h24v12h-24zM1342 97h108v12h-108zM898 109h24v12h-24zM1450 109h12v12h-12zM886 121h24v12h-24zM1462 121h12v12h-12zM874 133h12v12h-12zM1474 133h12v12h-12zM862 145h12v12h-12zM1486 145h12v12h-12zM850 157h24v12h-24zM1510 157h12v12h-12zM838 169h12v12h-12zM1522 169h24v12h-24zM1810 169h48v12h-48zM826 181h12v12h-12zM1618 181h156v12h-156zM814 193h12v12h-12zM790 229h12v12h-12zM766 241h24v12h-24zM754 253h12v12h-12zM1390 253h180v12h-180zM1354 265h24v12h-24zM1606 265h48v12h-48zM742 277h12v12h-12zM1762 277h36v12h-36zM1342 289h12v12h-12zM730 313h12v12h-12zM730 325h12v12h-12zM730 337h12v12h-12zM1330 337h12v12h-12zM1330 349h12v12h-12zM730 397h12v12h-12zM1258 397h12v12h-12zM742 409h12v12h-12zM1246 409h12v12h-12zM754 421h24v12h-24zM1234 421h12v12h-12zM778 433h36v12h-36zM1222 433h12v12h-12zM814 445h36v12h-36zM1210 445h12v12h-12zM838 457h36v12h-36zM1198 457h12v12h-12zM862 469h24v12h-24zM1162 469h36v12h-36zM874 481h24v12h-24zM1126 481h48v12h-48zM886 493h36v12h-36zM1102 493h36v12h-36zM886 505h60v12h-60zM1042 505h72v12h-72zM898 517h204v12h-204z"/>
<path fill="url(#p21)" d="M1018 1h36v12h-36zM1234 1h24v12h-24zM1006 13h36v12h-36zM1246 13h12v12h-12zM994 25h36v12h-36zM1246 25h24v12h-24zM994 37h24v12h-24zM1258 37h24v12h-24zM982 49h24v12h-24zM1270 49h24v12h-24zM970 61h24v12h-24zM1282 61h24v12h-24zM958 73h36v12h-36zM1294 73h24v12h-24zM946 85h36v12h-36zM1306 85h12v12h-12zM934 97h24v12h-24zM1318 97h24v12h-24zM922 109h24v12h-24zM1342 109h108v12h-108zM910 121h24v12h-24zM1450 121h12v12h-12zM886 133h36v12h-36zM1462 133h12v12h-12zM874 145h24v12h-24zM1474 145h12v12h-12zM874 157h12v12h-12zM1486 157h24v12h-24zM850 169h24v12h-24zM1510 169h12v12h-12zM1858 169h108v12h-108zM838 181h12v12h-12zM1522 181h96v12h-96zM1774 181h36v12h-36zM826 193h12v12h-12zM814 205h12v12h-12zM802 217h12v12h-12zM790 241h12v12h-12zM1390 241h168v12h-168zM766 253h24v12h-24zM1354 253h36v12h-36zM1570 253h48v12h-48zM754 265h12v12h-12zM1654 265h60v12h-60zM754 277h12v12h-12zM1342 277h12v12h-12zM1798 277h36v12h-36zM742 289h12v12h-12zM742 301h12v12h-12zM742 313h12v12h-12zM1330 325h12v12h-12zM730 349h12v12h-12zM730 361h12v12h-12zM1318 361h12v12h-12zM730 373h12v12h-12zM1306 373h12v12h-12zM730 385h12v12h-12zM1282 385h12v12h-12zM742 397h12v12h-12zM754 409h24v12h-24zM1234 409h12v12h-12zM778 421h24v12h-24zM1222 421h12v12h-12zM814 433h72v12h-72zM1210 433h12v12h-12zM850 445h48v12h-48zM1186 445h24v12h-24zM874 457h36v12h-36zM1138 457h60v12h-60zM886 469h48v12h-48zM1102 469h60v12h-60zM898 481h60v12h-60zM1042 481h84v12h-84zM922 493h180v12h-180zM946 505h96v12h-96z"/>
<path fill="url(#p22)" d="M1054 1h48v12h-48zM1210 1h24v12h-24zM1042 13h36v12h-36zM1222 13h24v12h-24zM1030 25h36v12h-36zM1222 25h24v12h-24zM1018 37h24v12h-24zM1234 37h24v12h-24zM1006 49h36v12h-36zM1246 49h24v12h-24zM994 61h36v12h-36zM1258 61h24v12h-24zM994 73h24v12h-24zM1270 73h24v12h-24zM982 85h24v12h-24zM1282 85h24v12h-24zM958 97h36v12h-36zM1294 97h24v12h-24zM946 109h36v12h-36zM1318 109h24v12h-24zM934 121h36v12h-36zM1342 121h108v12h-108zM922 133h24v12h-24zM1438 133h24v12h-24zM898 145h36v12h-36zM1450 145h24v12h-24zM886 157h24v12h-24zM1462 157h24v12h-24zM874 169h12v12h-12zM1486 169h24v12h-24zM850 181h24v12h-24zM1498 181h24v12h-24zM1810 181h48v12h-48zM838 193h12v12h-12zM1522 193h252v12h-252zM826 205h12v12h-12zM814 217h12v12h-12zM802 229h12v12h-12zM1354 229h216v12h-216zM802 241h12v12h-12zM1354 241h36v12h-36zM1558 241h48v12h-48zM790 253h12v12h-12zM1342 253h12v12h-12zM1618 253h48v12h-48zM766 265h24v12h-24zM1342 265h12v12h-12zM1714 265h48v12h-48zM766 277h12v12h-12zM1834 277h36v12h-36zM754 289h12v12h-12zM754 301h12v12h-12zM1330 301h12v12h-12zM1330 313h12v12h-12zM742 325h12v12h-12zM742 337h12v12h-12zM742 349h12v12h-12zM742 361h12v12h-12zM742 373h12v12h-12zM1294 373h12v12h-12zM742 385h24v12h-24zM1270 385h12v12h-12zM754 397h24v12h-24zM1246 397h12v12h-12zM778 409h24v12h-24zM850 409h36v12h-36zM1222 409h12v12h-12zM802 421h108v12h-108zM1210 421h12v12h-12zM886 433h36v12h-36zM1174 433h36v12h-36zM898 445h48v12h-48zM1114 445h72v12h-72zM910 457h60v12h-60zM1042 457h96v12h-96zM934 469h168v12h-168zM958 481h84v12h-84z"/>
<path fill="url(#p23)" d="M1102 1h108v12h-108zM1078 13h144v12h-144zM1066 25h156v12h-156zM1042 37h60v12h-60zM1198 37h36v12h-36zM1042 49h24v12h-24zM1210 49h36v12h-36zM1030 61h24v12h-24zM1222 61h36v12h-36zM1018 73h36v12h-36zM1246 73h24v12h-24zM1006 85h36v12h-36zM1258 85h24v12h-24zM994 97h36v12h-36zM1282 97h12v12h-12zM982 109h36v12h-36zM1306 109h12v12h-12zM970 121h24v12h-24zM1318 121h24v12h-24zM946 133h36v12h-36zM1342 133h96v12h-96zM934 145h36v12h-36zM1366 145h24v12h-24zM1414 145h36v12h-36zM910 157h24v12h-24zM1438 157h24v12h-24zM886 169h24v12h-24zM1450 169h36v12h-36zM874 181h12v12h-12zM1462 181h36v12h-36zM1858 181h108v12h-108zM850 193h12v12h-12zM1462 193h60v12h-60zM1774 193h48v12h-48zM838 205h12v12h-12zM1366 205h24v12h-24zM1426 205h324v12h-324zM826 217h12v12h-12zM1354 217h276v12h-276zM814 229h12v12h-12zM1342 229h12v12h-12zM1570 229h60v12h-60zM1342 241h12v12h-12zM1606 241h48v12h-48zM802 253h12v12h-12zM1666 253h48v12h-48zM790 265h12v12h-12zM1762 265h36v12h-36zM778 277h12v12h-12zM1330 277h12v12h-12zM1870 277h96v12h-96zM766 289h12v12h-12zM1330 289h12v12h-12zM766 301h12v12h-12zM754 313h12v12h-12zM754 325h12v12h-12zM754 337h12v12h-12zM1318 337h12v12h-12zM754 349h12v12h-12zM1318 349h12v12h-12zM1306 361h12v12h-12zM754 373h12v12h-12zM766 385h12v12h-12zM1258 385h12v12h-12zM778 397h12v12h-12zM850 397h48v12h-48zM1234 397h12v12h-12zM802 409h48v12h-48zM886 409h36v12h-36zM1210 409h12v12h-12zM910 421h36v12h-36zM1162 421h48v12h-48zM922 433h48v12h-48zM1090 433h84v12h-84zM946 445h168v12h-168zM970 457h72v12h-72z"/>
<path fill="url(#p24)" d="M1102 37h96v12h-96zM1066 49h144v12h-144zM1054 61h168v12h-168zM1054 73h60v12h-60zM1210 73h36v12h-36zM1042 85h36v12h-36zM1234 85h24v12h-24zM1030 97h36v12h-36zM1246 97h36v12h-36zM1018 109h36v12h-36zM1282 109h24v12h-24zM994 121h36v12h-36zM1306 121h12v12h-12zM982 133h24v12h-24zM1330 133h12v12h-12zM970 145h24v12h-24zM1342 145h24v12h-24zM1390 145h24v12h-24zM934 157h36v12h-36zM1354 157h84v12h-84zM910 169h24v12h-24zM1390 169h60v12h-60zM886 181h24v12h-24zM1378 181h84v12h-84zM862 193h24v12h-24zM1354 193h108v12h-108zM1822 193h36v12h-36zM850 205h12v12h-12zM1342 205h24v12h-24zM1390 205h36v12h-36zM1750 205h48v12h-48zM838 217h12v12h-12zM1342 217h12v12h-12zM1630 217h108v12h-108zM826 229h12v12h-12zM1630 229h72v12h-72zM814 241h12v12h-12zM1654 241h60v12h-60zM814 253h12v12h-12zM1330 253h12v12h-12zM1714 253h48v12h-48zM1330 265h12v12h-12zM1798 265h36v12h-36zM766 313h12v12h-12zM1318 313h12v12h-12zM766 325h12v12h-12zM1318 325h12v12h-12zM766 337h12v12h-12zM754 361h12v12h-12zM766 373h12v12h-12zM1282 373h12v12h-12zM778 385h12v12h-12zM874 385h12v12h-12zM790 397h12v12h-12zM838 397h12v12h-12zM898 397h24v12h-24zM1222 397h12v12h-12zM922 409h36v12h-36zM1174 409h36v12h-36zM946 421h216v12h-216zM970 433h120v12h-120z"/>
<path fill="url(#p25)" d="M1114 73h96v12h-96zM1078 85h156v12h-156zM1066 97h72v12h-72zM1222 97h24v12h-24zM1054 109h48v12h-48zM1258 109h24v12h-24zM1030 121h36v12h-36zM1294 121h12v12h-12zM1006 133h24v12h-24zM1318 133h12v12h-12zM994 145h12v12h-12zM1330 145h12v12h-12zM970 157h24v12h-24zM1342 157h12v12h-12zM934 169h24v12h-24zM1342 169h48v12h-48zM910 181h12v12h-12zM1342 181h36v12h-36zM886 193h12v12h-12zM1342 193h12v12h-12zM1858 193h108v12h-108zM862 205h12v12h-12zM1798 205h36v12h-36zM850 217h12v12h-12zM1330 217h12v12h-12zM1738 217h48v12h-48zM838 229h12v12h-12zM1330 229h12v12h-12zM1702 229h72v12h-72zM826 241h12v12h-12zM1330 241h12v12h-12zM1714 241h60v12h-60zM826 253h12v12h-12zM1762 253h48v12h-48zM802 265h12v12h-12zM1834 265h132v12h-132zM1318 301h12v12h-12zM766 349h12v12h-12zM1306 349h12v12h-12zM766 361h12v12h-12zM1294 361h12v12h-12zM778 373h12v12h-12zM1270 373h12v12h-12zM862 385h12v12h-12zM886 385h24v12h-24zM1246 385h12v12h-12zM826 397h12v12h-12zM922 397h36v12h-36zM1210 397h12v12h-12zM958 409h216v12h-216z"/>
<path fill="url(#p26)" d="M1138 97h84v12h-84zM1102 109h72v12h-72zM1210 109h48v12h-48zM1066 121h48v12h-48zM1258 121h36v12h-36zM1030 133h36v12h-36zM1294 133h24v12h-24zM1006 145h24v12h-24zM1318 145h12v12h-12zM994 157h24v12h-24zM1330 157h12v12h-12zM958 169h36v12h-36zM1330 169h12v12h-12zM922 181h24v12h-24zM1330 181h12v12h-12zM898 193h24v12h-24zM1330 193h12v12h-12zM874 205h24v12h-24zM1330 205h12v12h-12zM1834 205h132v12h-132zM862 217h12v12h-12zM1786 217h48v12h-48zM850 229h12v12h-12zM1774 229h48v12h-48zM838 241h24v12h-24zM1318 241h12v12h-12zM1774 241h48v12h-48zM1318 253h12v12h-12zM1810 253h48v12h-48zM1318 265h12v12h-12zM1318 277h12v12h-12zM778 289h12v12h-12zM1318 289h12v12h-12zM1306 325h12v12h-12zM1306 337h12v12h-12zM874 373h24v12h-24zM1258 373h12v12h-12zM790 385h12v12h-12zM850 385h12v12h-12zM910 385h24v12h-24zM1234 385h12v12h-12zM802 397h24v12h-24zM958 397h48v12h-48zM1150 397h60v12h-60z"/>
<path fill="url(#p27)" d="M1174 109h36v12h-36zM1114 121h72v12h-72zM1210 121h48v12h-48zM1066 133h48v12h-48zM1270 133h24v12h-24zM1030 145h36v12h-36zM1306 145h12v12h-12zM1018 157h24v12h-24zM1318 157h12v12h-12zM994 169h24v12h-24zM1318 169h12v12h-12zM946 181h36v12h-36zM1318 181h12v12h-12zM922 193h24v12h-24zM1318 193h12v12h-12zM898 205h24v12h-24zM1318 205h12v12h-12zM874 217h24v12h-24zM1318 217h12v12h-12zM1834 217h132v12h-132zM862 229h24v12h-24zM1318 229h12v12h-12zM1822 229h60v12h-60zM862 241h12v12h-12zM1822 241h144v12h-144zM838 253h12v12h-12zM1858 253h108v12h-108zM790 277h12v12h-12zM1306 301h12v12h-12zM1306 313h12v12h-12zM1294 337h12v12h-12zM1294 349h12v12h-12zM778 361h12v12h-12zM1282 361h12v12h-12zM898 373h24v12h-24zM934 385h36v12h-36zM1222 385h12v12h-12zM1006 397h144v12h-144z"/>
<path fill="url(#p28)" d="M1186 121h24v12h-24zM1114 133h60v12h-60zM1222 133h48v12h-48zM1066 145h36v12h-36zM1282 145h24v12h-24zM1042 157h24v12h-24zM1294 157h24v12h-24zM1018 169h24v12h-24zM1306 169h12v12h-12zM982 181h24v12h-24zM1306 181h12v12h-12zM946 193h24v12h-24zM1306 193h12v12h-12zM922 205h24v12h-24zM1306 205h12v12h-12zM898 217h24v12h-24zM1306 217h12v12h-12zM886 229h24v12h-24zM1306 229h12v12h-12zM1882 229h84v12h-84zM874 241h12v12h-12zM1306 241h12v12h-12zM1306 253h12v12h-12zM814 265h12v12h-12zM1306 265h12v12h-12zM1306 277h12v12h-12zM1306 289h12v12h-12zM1294 313h12v12h-12zM1294 325h12v12h-12zM1282 349h12v12h-12zM898 361h12v12h-12zM1270 361h12v12h-12zM922 373h24v12h-24zM1246 373h12v12h-12zM970 385h48v12h-48zM1198 385h24v12h-24z"/>
<path fill="url(#p29)" d="M1174 133h48v12h-48zM1102 145h72v12h-72zM1222 145h60v12h-60zM1066 157h60v12h-60zM1282 157h12v12h-12zM1042 169h12v12h-12zM1282 169h24v12h-24zM1006 181h12v12h-12zM1294 181h12v12h-12zM970 193h12v12h-12zM946 205h24v12h-24zM922 217h24v12h-24zM910 229h12v12h-12zM886 241h12v12h-12zM850 253h12v12h-12zM1294 265h12v12h-12zM1294 277h12v12h-12zM1294 289h12v12h-12zM778 301h12v12h-12zM1294 301h12v12h-12zM778 313h12v12h-12zM778 325h12v12h-12zM1282 325h12v12h-12zM778 337h12v12h-12zM1282 337h12v12h-12zM778 349h12v12h-12zM886 361h12v12h-12zM910 361h24v12h-24zM1246 361h24v12h-24zM790 373h12v12h-12zM862 373h12v12h-12zM946 373h24v12h-24zM1222 373h24v12h-24zM838 385h12v12h-12zM1018 385h180v12h-180z"/>
<path fill="url(#p30)" d="M1174 145h48v12h-48zM1126 157h36v12h-36zM1162 157h12v12h-12zM1174 157h12v12h-12zM1186 157h12v12h-12zM1198 157h12v12h-12zM1210 157h12v12h-12zM1222 157h12v12h-12zM1234 157h12v12h-12zM1246 157h36v12h-36zM1054 169h24v12h-24zM1078 169h12v12h-12zM1090 169h12v12h-12zM1102 169h24v12h-24zM1126 169h12v12h-12zM1138 169h12v12h-12zM1150 169h12v12h-12zM1162 169h24v12h-24zM1186 169h12v12h-12zM1198 169h12v12h-12zM1210 169h12v12h-12zM1222 169h12v12h-12zM1234 169h12v12h-12zM1246 169h12v12h-12zM1258 169h12v12h-12zM1270 169h12v12h-12zM1018 181h12v12h-12zM1030 181h12v12h-12zM1042 181h12v12h-12zM1054 181h12v12h-12zM1066 181h12v12h-12zM1078 181h12v12h-12zM1090 181h48v12h-48zM1138 181h60v12h-60zM1198 181h24v12h-24zM1222 181h12v12h-12zM1234 181h12v12h-12zM1246 181h12v12h-12zM1258 181h12v12h-12zM1270 181h12v12h-12zM1282 181h12v12h-12zM982 193h12v12h-12zM994 193h12v12h-12zM1006 193h12v12h-12zM1018 193h12v12h-12zM1030 193h96v12h-96zM1126 193h60v12h-60zM1186 193h84v12h-84zM1270 193h12v12h-12zM1282 193h12v12h-12zM1294 193h12v12h-12zM970 205h12v12h-12zM982 205h12v12h-12zM994 205h12v12h-12zM1006 205h48v12h-48zM1054 205h192v12h-192zM1246 205h48v12h-48zM1294 205h12v12h-12zM946 217h12v12h-12zM958 217h12v12h-12zM970 217h12v12h-12zM982 217h48v12h-48zM1030 217h240v12h-240zM1270 217h24v12h-24zM1294 217h12v12h-12zM922 229h12v12h-12zM934 229h12v12h-12zM946 229h12v12h-12zM958 229h48v12h-48zM1006 229h264v12h-264zM1270 229h12v12h-12zM1282 229h12v12h-12zM1294 229h12v12h-12zM898 241h12v12h-12zM910 241h12v12h-12zM922 241h12v12h-12zM934 241h48v12h-48zM982 241h288v12h-288zM1270 241h12v12h-12zM1282 241h12v12h-12zM1294 241h12v12h-12zM862 253h12v12h-12zM874 253h12v12h-12zM886 253h12v12h-12zM898 253h12v12h-12zM910 253h60v12h-60zM970 253h300v12h-300zM1270 253h12v12h-12zM1282 253h12v12h-12zM1294 253h12v12h-12zM826 265h12v12h-12zM838 265h12v12h-12zM850 265h12v12h-12zM862 265h12v12h-12zM874 265h72v12h-72zM946 265h324v12h-324zM1270 265h12v12h-12zM1282 265h12v12h-12zM802 277h12v12h-12zM814 277h12v12h-12zM826 277h12v12h-12zM838 277h60v12h-60zM898 277h360v12h-360zM1258 277h24v12h-24zM1282 277h12v12h-12zM790 289h12v12h-12zM802 289h12v12h-12zM814 289h48v12h-48zM862 289h396v12h-396zM1258 289h24v12h-24zM1282 289h12v12h-12zM790 301h12v12h-12zM802 301h36v12h-36zM838 301h420v12h-420zM1258 301h12v12h-12zM1270 301h12v12h-12zM1282 301h12v12h-12zM790 313h12v12h-12zM802 313h24v12h-24zM826 313h432v12h-432zM1258 313h12v12h-12zM1270 313h12v12h-12zM1282 313h12v12h-12zM790 325h12v12h-12zM802 325h12v12h-12zM814 325h60v12h-60zM874 325h228v12h-228zM1102 325h144v12h-144zM1246 325h24v12h-24zM1270 325h12v12h-12zM790 337h12v12h-12zM802 337h24v12h-24zM826 337h24v12h-24zM850 337h48v12h-48zM898 337h12v12h-12zM910 337h12v12h-12zM922 337h12v12h-12zM934 337h12v12h-12zM946 337h12v12h-12zM958 337h12v12h-12zM970 337h12v12h-12zM982 337h12v12h-12zM994 337h60v12h-60zM1054 337h12v12h-12zM1066 337h48v12h-48zM1114 337h144v12h-144zM1258 337h12v12h-12zM1270 337h12v12h-12zM790 349h12v12h-12zM802 349h72v12h-72zM874 349h12v12h-12zM886 349h12v12h-12zM898 349h12v12h-12zM910 349h12v12h-12zM922 349h12v12h-12zM934 349h12v12h-12zM946 349h12v12h-12zM958 349h12v12h-12zM970 349h12v12h-12zM982 349h12v12h-12zM994 349h12v12h-12zM1006 349h12v12h-12zM1018 349h12v12h-12zM1030 349h12v12h-12zM1042 349h12v12h-12zM1054 349h12v12h-12zM1066 349h12v12h-12zM1078 349h24v12h-24zM1102 349h12v12h-12zM1114 349h12v12h-12zM1126 349h12v12h-12zM1138 349h12v12h-12zM1150 349h24v12h-24zM1174 349h12v12h-12zM1186 349h48v12h-48zM1234 349h12v12h-12zM1246 349h12v12h-12zM1258 349h12v12h-12zM1270 349h12v12h-12zM790 361h12v12h-12zM802 361h12v12h-12zM814 361h36v12h-36zM850 361h12v12h-12zM862 361h12v12h-12zM874 361h12v12h-12zM934 361h24v12h-24zM958 361h12v12h-12zM970 361h12v12h-12zM982 361h12v12h-12zM994 361h12v12h-12zM1006 361h12v12h-12zM1018 361h12v12h-12zM1030 361h12v12h-12zM1042 361h12v12h-12zM1054 361h12v12h-12zM1066 361h12v12h-12zM1078 361h12v12h-12zM1090 361h12v12h-12zM1102 361h24v12h-24zM1126 361h36v12h-36zM1162 361h24v12h-24zM1186 361h12v12h-12zM1198 361h12v12h-12zM1210 361h12v12h-12zM1222 361h12v12h-12zM1234 361h12v12h-12zM802 373h12v12h-12zM814 373h12v12h-12zM826 373h12v12h-12zM838 373h12v12h-12zM850 373h12v12h-12zM970 373h36v12h-36zM1006 373h12v12h-12zM1018 373h12v12h-12zM1030 373h12v12h-12zM1042 373h12v12h-12zM1054 373h12v12h-12zM1066 373h12v12h-12zM1078 373h48v12h-48zM1126 373h36v12h-36zM1162 373h24v12h-24zM1186 373h12v12h-12zM1198 373h12v12h-12zM1210 373h12v12h-12zM802 385h12v12h-12zM814 385h12v12h-12zM826 385h12v12h-12z"/>
<path d="M401.7 267.1h0M387.0 265.2h0M460.4 258.9h0M338.0 261.6h0M348.4 265.5h0M328.5 270.6h0M469.7 259.6h0M444.2 260.4h0M358.2 265.6h0M377.6 264.8h0M394.9 261.7h0M316.7 267.7h0M351.1 267.5h0M442.8 257.3h0M453.9 263.4h0M454.4 263.9h0M437.0 265.8h0M335.9 262.8h0M362.7 269.5h0M332.7 265.8h0M311.7 264.5h0M425.5 263.6h0M450.7 265.5h0M467.6 261.8h0M324.7 264.0h0M415.9 261.2h0M452.9 257.8h0M385.2 261.6h0M394.3 259.2h0M408.7 260.4h0M360.4 264.5h0M310.0 271.5h0M428.9 258.3h0M463.2 259.6h0M316.9 264.1h0M400.9 263.0h0M468.4 256.5h0M469.5 258.5h0M332.3 266.1h0M410.9 265.3h0M467.1 265.2h0M437.9 262.4h0M404.7 261.9h0M396.4 264.0h0M435.1 260.0h0M396.2 259.6h0M366.4 264.7h0M457.3 261.1h0M336.4 270.7h0M311.2 265.1h0M422.8 264.3h0M430.5 260.8h0M409.0 266.7h0M398.5 263.2h0M307.2 263.6h0M329.7 267.4h0M301.5 265.8h0M428.2 258.3h0M444.3 257.7h0M321.3 262.0h0M441.3 263.5h0M428.8 264.4h0M289.8 270.1h0M308.8 266.2h0M293.4 270.3h0M346.6 264.0h0M455.5 264.0h0M406.8 260.9h0M468.0 262.3h0M314.9 268.1h0M292.2 272.6h0M335.0 270.0h0M359.7 269.2h0M409.9 261.5h0M403.2 265.6h0M394.5 266.5h0M439.4 259.8h0M451.6 258.6h0M420.8 263.1h0M408.7 265.6h0M320.0 261.9h0M316.8 270.9h0M292.7 269.5h0M382.6 265.3h0M440.2 258.6h0M407.5 262.3h0M369.9 269.6h0M398.0 259.1h0M387.7 260.6h0M351.2 267.4h0M351.0 260.9h0M320.1 265.0h0M447.9 261.8h0M336.7 262.1h0M292.7 267.3h0M375.6 260.1h0M434.0 263.7h0M430.0 260.6h0M352.6 261.3h0M449.8 263.7h0M443.0 258.4h0M456.9 262.3h0M313.8 269.7h0M436.8 259.6h0M373.4 260.0h0M379.3 265.8h0M456.3 265.5h0M386.3 269.1h0M311.6 264.0h0M396.8 260.7h0M298.9 270.2h0M469.1 265.2h0M419.2 259.5h0M325.2 267.8h0M454.7 262.7h0M382.0 262.8h0M357.6 262.3h0M449.6 257.1h0M292.4 264.8h0M324.9 271.0h0M301.6 272.3h0M444.3 258.2h0M333.9 261.9h0M324.0 265.5h0M439.4 258.1h0M354.9 264.9h0M364.3 265.6h0M298.9 271.1h0M444.7 260.8h0M462.8 258.6h0M339.0 263.7h0M421.7 266.7h0M368.5 265.0h0M341.0 261.7h0M367.3 269.7h0M464.8 261.2h0M369.2 262.0h0M359.4 261.2h0M434.9 266.3h0M358.3 263.3h0M291.5 263.1h0M423.1 267.1h0M383.4 268.4h0M349.1 263.2h0M394.9 259.6h0M318.6 264.5h0M310.1 269.2h0M370.8 268.7h0M388.8 268.6h0M289.3 264.6h0M326.7 271.1h0M324.9 271.4h0M291.1 270.0h0M402.8 266.4h0M435.4 265.2h0M313.2 263.5h0M429.3 265.0h0M354.4 260.9h0M315.8 269.3h0M394.4 259.5h0M457.9 259.2h0M391.9 265.0h0M397.3 267.5h0M458.2 263.3h0M333.4 261.9h0M399.4 263.9h0M316.5 265.6h0M295.9 269.3h0M353.9 265.6h0M395.0 263.6h0M319.7 267.1h0M468.3 264.9h0M449.2 261.1h0M327.5 268.7h0M348.5 261.7h0M305.2 269.4h0M433.5 261.6h0M403.7 267.7h0M410.5 266.1h0M463.4 264.9h0M301.7 270.6h0M346.6 264.0h0M426.8 260.0h0M423.1 258.4h0M703.4 189.6h0M743.9 191.4h0M732.0 192.7h0M694.8 193.2h0M719.9 190.6h0M742.2 196.8h0M720.3 194.6h0M676.0 187.7h0M715.8 193.1h0M678.7 191.6h0M733.4 191.8h0M659.1 190.0h0M710.7 190.4h0M689.8 188.1h0M656.4 191.0h0M680.5 191.7h0M669.3 189.7h0M697.9 192.7h0M725.0 189.4h0M716.6 192.3h0M708.4 188.3h0M717.8 194.6h0M662.1 190.1h0M668.8 186.6h0M702.4 192.7h0M724.1 189.2h0M730.9 191.9h0M702.3 189.1h0M674.9 192.1h0M676.5 187.8h0M656.6 185.3h0M670.5 185.6h0M720.4 193.0h0M737.4 193.8h0M720.8 193.3h0M714.2 188.7h0M722.2 193.5h0M726.2 194.4h0M661.1 186.8h0M661.6 185.3h0M659.8 184.6h0M707.6 191.4h0M689.7 186.9h0M719.5 194.6h0M715.1 189.2h0M719.1 195.3h0M686.3 186.6h0M668.9 188.2h0M724.8 192.1h0M703.9 194.1h0M688.2 189.9h0M722.6 194.7h0M732.4 193.0h0M718.4 189.7h0M658.9 188.0h0M656.0 188.0h0M682.6 191.4h0M688.2 187.5h0M663.5 186.2h0M671.8 185.7h0M692.3 187.7h0M732.8 191.0h0M725.2 189.6h0M689.5 188.8h0M671.2 187.7h0M717.3 193.6h0M722.0 193.3h0M742.6 194.6h0M730.9 194.7h0M657.3 189.2h0M668.3 191.5h0M690.6 189.0h0M679.6 188.6h0M710.7 194.6h0M677.6 186.5h0M677.3 190.2h0M683.9 192.5h0M743.6 191.9h0M712.4 189.6h0M679.4 190.1h0M738.1 190.5h0M729.8 190.5h0M694.4 187.1h0M663.0 189.8h0M666.8 188.5h0M676.4 190.8h0M676.1 190.1h0M724.9 190.6h0M725.1 191.1h0M682.3 192.4h0M699.8 189.0h0M699.0 190.9h0M701.9 189.9h0M713.3 194.4h0M708.4 189.7h0M670.5 187.5h0M718.0 190.4h0M742.9 191.5h0M700.1 188.5h0M720.7 193.1h0M720.5 194.5h0M741.3 196.3h0M659.0 185.7h0M740.9 190.6h0M718.9 191.5h0M732.8 191.2h0M658.2 186.7h0M721.3 193.3h0M697.8 190.4h0M659.6 186.7h0M726.8 191.0h0M733.5 190.9h0M672.9 186.7h0M657.8 189.6h0M667.5 186.4h0M704.8 193.5h0M735.3 190.8h0M698.9 191.0h0M737.9 190.5h0M682.6 187.2h0M697.1 192.5h0M664.4 189.9h0M692.3 191.1h0M660.0 187.4h0M661.5 191.0h0M684.6 190.7h0M732.1 193.7h0M660.0 187.2h0M690.4 187.7h0M716.5 194.3h0M734.9 209.9h0M696.4 205.0h0M694.3 207.8h0M714.1 209.9h0M767.8 216.6h0M716.9 212.3h0M747.8 215.6h0M712.6 210.3h0M746.4 211.3h0M699.7 209.7h0M694.2 206.3h0M723.3 213.0h0M750.6 211.5h0M714.1 207.8h0M721.3 210.9h0M741.1 211.5h0M745.0 214.5h0M703.9 209.2h0M769.1 219.1h0M699.6 207.6h0M755.3 213.6h0M766.6 215.7h0M717.0 213.3h0M742.7 216.1h0M748.8 213.6h0M745.0 211.8h0M695.8 207.2h0M744.6 216.3h0M716.3 210.1h0M720.2 209.9h0M758.5 217.9h0M736.6 215.7h0M718.5 208.3h0M719.4 212.2h0M709.0 210.9h0M704.4 206.6h0M710.2 211.1h0M721.2 212.8h0M721.3 210.2h0M731.0 213.5h0M763.2 213.0h0M695.4 209.9h0M700.5 208.7h0M732.2 213.4h0M767.5 213.3h0M698.2 210.5h0M740.8 215.1h0M766.3 215.5h0M709.2 208.8h0M757.1 212.5h0M726.2 213.6h0M719.4 213.5h0M725.2 208.4h0M744.3 214.1h0M767.0 216.5h0M762.2 217.0h0M733.5 213.1h0M766.9 217.5h0M722.4 212.6h0M730.6 211.0h0M706.8 210.8h0M767.7 214.9h0M730.3 213.0h0M752.6 213.5h0M714.2 207.2h0M694.9 207.5h0M703.2 206.0h0M764.4 213.5h0M712.8 210.1h0M735.1 212.8h0M764.9 217.4h0M693.3 208.8h0M719.9 210.2h0M756.5 217.7h0M751.3 217.3h0M701.0 206.7h0M714.4 405.8h0M720.9 388.5h0M703.7 414.2h0M693.4 426.5h0M744.4 379.3h0M745.7 369.0h0M654.7 435.7h0M744.3 362.3h0M658.2 434.9h0M728.5 385.6h0M675.4 434.6h0M671.7 426.6h0M771.6 363.7h0M673.1 424.7h0M729.7 398.1h0M649.7 433.0h0M656.0 436.9h0M721.1 404.9h0M742.7 390.2h0M704.2 397.4h0M737.6 387.2h0M750.1 377.7h0M743.2 367.7h0M659.8 430.4h0M755.0 367.9h0M699.5 407.6h0M742.5 387.4h0M746.1 368.5h0M766.2 363.4h0M725.1 406.3h0M714.8 403.7h0M753.8 378.7h0M738.8 395.3h0M673.4 413.9h0M671.8 423.6h0M667.4 438.9h0M758.9 381.4h0M735.5 366.6h0M688.2 422.7h0M743.9 374.4h0M729.9 379.9h0M658.1 426.4h0M667.8 428.0h0M769.3 360.3h0M664.0 433.1h0M650.5 431.0h0M691.9 403.4h0M763.6 358.3h0M688.2 421.0h0M750.4 358.6h0M688.7 408.1h0M689.7 420.7h0M680.0 430.5h0M670.1 420.8h0M712.1 393.3h0M751.1 384.8h0M685.0 416.1h0M739.8 370.6h0M710.7 395.7h0M697.8 407.2h0M759.3 367.9h0M724.1 401.6h0M656.9 434.5h0M651.3 439.0h0M653.3 430.0h0M718.6 410.7h0M748.9 387.3h0M722.0 387.2h0M711.3 405.3h0M706.8 406.7h0M722.8 407.7h0M665.3 435.8h0M715.0 409.4h0M651.0 436.4h0M718.7 409.0h0M676.2 410.8h0M700.1 390.8h0M765.0 355.1h0M757.3 355.9h0M669.3 432.1h0M647.7 428.3h0M662.6 437.2h0M654.6 422.8h0M702.5 389.7h0M725.2 404.4h0M733.2 381.3h0M734.5 394.3h0M724.3 404.3h0M722.0 395.8h0M673.0 434.8h0M704.5 404.5h0M760.2 375.7h0M717.6 395.2h0M699.5 396.6h0M730.9 370.1h0M681.3 428.1h0M694.0 413.9h0M693.1 412.8h0M687.3 405.8h0M716.0 402.3h0M729.7 386.3h0M714.7 405.2h0M686.9 417.7h0M756.0 366.3h0M645.3 429.6h0M652.3 438.4h0M690.5 409.3h0M714.4 397.5h0M743.4 392.3h0M656.5 446.3h0M689.7 428.4h0M706.2 411.6h0M723.8 399.9h0M759.0 374.0h0M706.5 399.8h0M645.9 427.9h0M658.1 441.5h0M687.5 401.0h0M728.7 404.1h0M700.8 422.3h0M668.9 416.6h0M655.6 438.4h0M749.9 374.0h0M722.1 385.5h0M695.0 395.6h0M767.1 370.2h0M668.4 413.1h0M752.8 366.2h0M702.4 418.7h0M708.4 395.8h0M683.7 408.7h0M666.4 413.6h0M731.2 388.4h0M681.5 430.8h0M755.0 386.8h0M750.2 381.8h0M690.2 414.2h0M668.5 435.5h0M763.6 357.9h0M729.9 380.4h0M661.9 430.4h0M668.1 433.7h0M715.4 402.8h0M704.9 393.6h0M764.6 358.6h0M718.5 381.8h0M671.9 421.7h0M750.0 376.9h0M651.0 425.5h0M728.4 373.4h0M722.6 375.9h0M689.1 425.6h0M757.0 362.1h0M668.5 426.2h0M751.5 362.6h0M728.7 374.1h0M749.5 369.5h0M682.8 424.1h0M752.9 386.3h0M653.0 436.2h0M747.1 390.1h0M677.4 422.0h0M686.6 417.7h0M656.3 436.5h0M693.4 400.1h0M771.4 374.7h0M647.2 425.6h0M659.3 426.9h0M658.6 421.7h0M744.0 391.8h0M741.3 376.9h0M704.5 399.7h0M748.2 362.0h0M682.8 415.1h0M722.3 402.6h0M723.8 403.5h0M660.1 426.6h0M745.9 378.5h0M760.5 359.1h0M689.6 414.2h0M666.1 442.2h0M728.6 389.7h0M707.1 393.8h0M759.1 374.2h0M784.6 200.8h0M784.4 198.0h0M759.5 199.5h0M749.4 195.5h0M756.2 195.6h0M760.0 199.8h0M757.6 195.0h0M752.8 198.9h0M791.1 201.3h0M784.8 200.7h0M798.1 199.8h0M775.6 200.5h0M775.0 201.7h0M798.6 204.2h0M758.2 198.3h0M799.4 205.2h0M768.3 197.0h0M757.9 195.0h0M761.6 195.4h0M777.8 198.5h0M783.2 200.8h0M781.4 197.7h0M744.8 193.7h0M776.3 197.5h0M790.9 203.6h0M793.8 202.8h0M782.9 198.6h0M760.2 195.7h0M637.7 448.5h0M634.1 464.4h0M616.9 468.6h0M614.3 463.2h0M677.5 446.0h0M694.1 441.4h0M691.6 425.6h0M662.8 448.4h0M678.6 431.7h0M650.0 460.3h0M683.5 439.9h0M637.1 446.0h0M664.4 442.3h0M680.3 447.0h0M604.9 464.5h0M684.3 446.3h0M681.5 437.5h0M688.5 428.2h0M627.5 462.3h0M668.3 433.1h0M658.7 451.8h0M646.7 457.8h0M674.3 447.8h0M661.5 452.1h0M673.0 436.6h0M696.7 423.2h0M627.7 457.9h0M617.7 460.5h0M617.1 461.2h0M695.5 440.0h0M646.5 441.8h0M653.5 457.8h0M644.6 442.2h0M691.0 429.3h0M638.1 452.7h0M628.2 468.8h0M674.3 442.8h0M691.6 433.3h0M673.1 438.1h0" stroke="#d9d9d9" stroke-width="3.1" stroke-linecap="round" fill="none"/>
</g>
<g clip-path="url(#clipTop)">
<path d="M229.2 223.7h0M251.8 225.2h0M275.6 225.2h0M285.6 227.5h0M308.2 225.2h0M325.3 231h0M350.4 223.7h0M367.1 222.2h0M376.5 222.7h0M348 224h0M353 223h0M396.2 249.2h0M422.4 251.7h0M410.3 244.6h0M358.3 253h0M365.5 253.6h0M420.3 253.6h0M337.7 258h0M414.9 249.3h0M412.6 249.3h0M381.4 252h0M366.1 258.4h0M363.4 252.8h0M361.1 253.3h0M379.4 253.9h0M384.9 252.1h0M389.5 251.5h0M431.3 245.7h0M412.3 250.4h0M396 250.3h0M431.2 252.6h0M357.6 256.4h0M352.2 254.8h0M395.3 253.7h0M341.1 254.7h0M340.6 258.9h0M385.9 252.4h0M381.4 254.5h0M423.8 245.7h0M396.9 252.6h0M385.5 247.4h0M383.8 246.4h0M360.4 253.4h0M337.9 253.2h0M355.3 255.1h0M403.2 257.9h0M355.9 252.1h0M372 251.5h0M337.4 256.6h0M416 251.7h0M351.6 254.4h0M362.4 253.5h0M420.8 251.9h0M385.5 254h0M417.3 247h0M397.8 251.3h0M407.5 250.9h0M345.5 252.2h0M388.5 253h0M385 249.9h0M420 252.8h0M371.4 254h0M393.8 252.1h0M342.5 253.8h0M373.8 252.9h0M367.2 247.8h0M351 251.6h0M414.6 251.4h0M372.6 247h0M430.2 251.7h0M392.7 246.6h0M394.6 254h0M397.4 249h0M401.4 253.6h0M351.4 255.3h0M378.5 248.3h0M360 258.1h0M375.6 257.5h0M346.2 255.1h0M428.9 248.4h0M357.4 254h0M503.5 379h0M513.1 367.5h0M507.5 361.7h0M496.9 380.6h0M521.6 377.7h0M525.3 361.1h0M517.8 362.4h0M525.2 364.2h0M518.4 354.2h0M507.2 384.5h0M510.2 357.5h0M532.4 382.1h0M493 365.9h0M511.1 350.4h0M541.2 367.8h0M526.6 360.5h0M535 362.6h0M521.9 356.9h0M498.2 381.4h0M513.8 370.9h0M524.3 363.6h0M513.8 374.3h0M518.4 366.5h0M525.5 379.8h0M540 371.8h0M512.6 354.2h0M545.9 377.7h0M521.9 373.4h0M542.2 376.3h0M545.3 363.4h0M558.3 355.5h0M544 372.9h0M544.2 386.8h0M557.7 356.5h0M487.8 376.2h0M477.8 374.9h0M503.8 365.1h0M462.5 376.6h0M492.6 373.5h0M492.5 369.8h0M470.8 374h0M478.4 365.1h0M499.1 374.6h0M497.7 369.1h0M482.8 369h0M479.6 376.2h0M481 377.1h0M616.8 398.2h0M592.5 388h0M610.7 379.9h0M591.7 375.9h0M622.4 379.3h0M613.1 377.4h0M628.2 379.8h0M581.2 373.8h0M584.4 350.7h0M604.6 392h0M612.7 369.4h0M598.8 390.2h0M614.2 380.4h0M611.3 380.3h0M623.3 385h0M615 370.6h0M619.2 373.8h0M627.3 368.6h0M610.1 379.9h0M593.5 395.5h0M632.4 375.8h0M622.8 383.4h0M575.4 382.3h0M611.1 380.7h0M596.9 377.6h0M609.5 390.7h0M616.7 380h0M633.4 375h0M606.5 363.6h0M634 388.7h0M624.8 386h0M613.5 381.9h0M608.5 378.2h0M612.8 393.6h0M619.8 379.5h0M603.9 374.3h0M634.4 384.6h0M612.9 376.9h0M596.5 379.4h0M624.2 376.5h0M608.8 378h0M613.5 365.7h0M608.7 372.3h0M624.4 373.1h0M620.1 393.7h0M607.6 374.6h0M614.7 380h0M598.1 384.1h0M640.2 377.7h0M609.2 370.6h0M616.5 368.8h0M596.5 391.5h0M599.3 389.7h0M633.3 382.3h0M619.7 397.6h0M609.2 374.7h0M593.1 380.4h0M632.7 388.6h0M598.8 372.3h0M604.9 382.6h0M609.1 381.9h0M616.2 377.3h0M611.4 381.9h0M610.8 384.5h0M638.2 385.3h0M612.8 364.8h0M617.4 362.5h0M592.3 387.7h0M621.9 378.7h0M588.1 376.7h0M602.5 385.7h0M643.6 382h0M601.1 369.5h0M611.2 378.4h0M595.9 381h0M595.9 390h0M626.9 389.8h0M605.4 384.6h0M610.2 376.5h0M607.3 368.3h0M591.8 387.1h0M609.3 381.9h0M626 364.4h0M601 381.6h0M617.5 376.6h0M626.4 381.9h0M595 371.6h0M623.3 384.2h0M585.4 392.1h0M620.4 392.1h0M606.6 377.3h0M596.2 402.8h0M609.5 394.3h0M602.9 381.5h0M588.6 376.6h0M596.9 390h0M597.7 402.7h0M578.6 396h0M583.9 399.6h0M583.2 393.4h0M585.3 391.8h0M576.4 399.6h0M595.9 387.8h0M588 394.8h0M579.2 406.8h0M583.3 412h0M581 403.1h0M586 394h0M593.3 398.8h0M593.4 399.6h0M578.2 399.2h0M588.5 407.7h0M579.8 399.7h0M572.5 405.2h0M578.3 385.5h0M587.5 408.8h0M574.3 391.3h0M581.3 391h0M591.4 393.5h0M581.5 404.7h0M581.2 403.5h0M579.3 390.3h0M571.5 414.9h0M585.1 402h0M587.7 401.3h0M588.4 415.3h0M578.6 387.5h0M578.9 389.3h0M594.7 406.6h0M579.3 388.9h0M842.3 315.1h0M836.2 333.4h0M831.4 335.9h0M839.1 329.2h0M826.8 345.1h0M829 338.2h0M840.7 318.4h0M847.2 318.9h0M818.6 349.2h0M844.5 319.5h0M847 315.2h0M833.8 332.4h0M815.7 346.4h0M845.7 324.3h0M827.6 342.3h0M844 325.9h0M835.9 339.3h0M841.6 324.4h0M823.9 338.4h0M833.8 330.1h0M835 327.4h0M840.3 323.8h0M825.7 344h0M849.6 306.4h0M829.4 340.6h0M826.3 336.7h0M828.1 342h0M820.3 349.8h0M833 333.5h0M846.4 318.1h0M843.2 320.2h0M824 343.2h0M819.7 344.1h0M829.8 338.5h0M850.1 321.5h0M840 334.3h0M854.8 313.6h0M843.7 324.6h0M839.6 323.9h0M849.3 320.8h0M845.6 319.1h0M830.6 337.4h0M826.9 341h0M834.4 333.5h0M835.2 330.3h0M823.1 346.5h0M832.2 331.3h0M840.9 323.6h0M827.6 350.7h0M823 346.7h0M823.9 344.8h0M829.6 341.1h0M855 310.9h0M816.7 350h0M824.4 344.4h0M826 347.1h0M836.1 332.1h0M818.8 352.5h0M838.1 334.9h0M822.7 344.5h0M828.1 341h0M846.3 316.5h0M827.8 347.2h0M836.9 322h0M831.7 333.6h0M832.4 333.3h0M849.6 317.3h0M825.2 346.8h0M855 313.7h0M847.9 310.2h0M844.2 324.2h0M819.2 350.3h0M841.2 322.1h0M841.3 326.9h0M844.7 316.7h0M821.7 339.9h0M852.5 309.5h0M847.8 310.6h0M820.9 346.8h0M830.4 339.4h0M819.8 352.1h0M851.9 318.2h0M851.5 311.5h0M851.5 305.9h0M839.1 324.2h0M840.8 321.5h0M840.7 320.5h0M840 328.1h0M851.9 309.1h0M836.5 322.4h0M831.8 339h0M836.8 329.7h0M819.4 352.7h0M845 320.6h0M844.9 322.8h0M833.7 334.1h0M852 316.7h0M846.8 319.7h0M831.2 338.5h0M821.7 350.2h0M820 344.6h0M824.5 344.4h0M828.7 338.9h0M835 333.2h0M849.6 309h0M831.6 343.2h0M851.5 312.7h0M840.7 320.4h0M846.1 311.8h0M832.4 334.4h0M817.9 352.7h0M845.7 316.4h0M827.3 342.1h0M822 345.5h0M848.7 317.9h0M841.9 320.9h0M825.8 343.4h0M829.9 342.6h0M857.9 315h0M825.9 339.3h0M843.1 320.6h0M821.1 345.8h0M849.7 317.6h0M820 345.8h0M836.1 329h0M819.2 351.4h0M836.4 326.6h0M847.4 313.3h0M820.2 348.4h0M823.9 337.2h0M843.4 316.2h0M839.7 325h0M829.9 339.2h0M840.9 324.4h0M831.3 329.6h0M849 313.4h0M830.4 341.1h0M847.2 319.8h0M841.4 324.3h0M843.6 318.2h0M833.3 337h0M843.7 319.4h0M841.5 319.6h0M830.7 334.2h0M821.9 354.2h0M854.1 310h0M846.7 322.8h0M824.6 343h0M846.9 321.7h0M827.1 339.5h0M835 331.6h0M854.8 318.4h0M836.1 334.1h0M827.6 339.2h0M829.1 339.1h0M821.5 350.1h0M828.6 345.1h0M827 340h0M820.9 342.3h0M819.8 349.7h0M835.3 332.1h0M826.2 343.5h0M848 321.9h0M852.8 312h0M829.7 342.1h0M837 325.4h0M838.5 331.6h0M825 353.1h0M824.2 348.7h0M851.2 313.6h0M835.9 331.9h0M851.4 319.7h0M818.6 348.5h0M839.8 326h0M850.9 314.8h0M851.6 315.2h0M817.3 352h0M837.9 330h0M831.1 335.9h0M846.4 319h0M820.4 349.5h0M825.5 339.2h0M848 316.4h0M837.1 333.3h0M832.8 331h0M853.4 309h0M831.2 339.7h0M817.4 349.4h0M832.9 335.7h0M821.5 344.3h0M823.3 351.2h0M843.7 331.3h0M857.3 313.4h0M839 326.6h0M843.4 325.1h0M830.2 338.6h0M839.3 327.5h0M848.9 321.7h0M837.2 324.3h0M849.8 318.6h0M838.3 328.1h0M828.2 346.4h0M839.9 327.1h0M834.8 329.8h0M824.7 346h0M842.4 326.4h0M848.3 316.3h0M824 347.7h0M837.1 327.6h0M840.9 316.5h0M834.7 336.4h0M829.4 342h0M832.1 336.5h0M838.2 328.7h0M845.5 323.8h0M837.8 327.1h0M820.5 347h0M847.9 315.9h0M854.6 313.4h0M819 346.2h0M860.4 339.9h0M855.1 341.8h0M841.4 344.9h0M860.8 335.9h0M840.5 354.2h0M854.8 335h0M841.3 345.7h0M850 341.4h0M860.5 327.1h0M854.7 343.3h0M835.1 345.6h0M847.1 340.2h0M854.7 336.9h0M839.1 350.3h0M844.9 346.8h0M839 352.2h0M851.7 339.7h0M850 346h0M847.2 336.3h0M845.7 345.5h0M853.8 336h0M842.7 348.5h0M862 332.5h0M861.3 328.9h0M849.7 339.8h0M851.5 343.5h0M861 333.8h0M844.3 344.2h0M862.6 338.7h0M849.6 350.6h0M854.1 333h0M847.2 345.3h0M858.2 344.1h0M863.5 333.3h0M839.8 351.3h0M858.6 333.8h0M851.1 338.9h0M847.5 343.2h0M846.1 343.1h0M841.2 352.1h0M844 345.5h0M853.4 337.3h0M838.4 347.3h0M855.3 337.2h0M861.4 328.9h0M863.2 330h0M863 334.7h0M859.6 335h0M843.5 349.2h0M863.9 331.4h0M843.4 347.7h0M860.4 332.6h0M860.3 332h0M855.5 339.9h0M849.6 338.2h0M845.6 350.5h0M851.6 340.6h0M844.2 344h0M840.4 348.2h0M840.1 347.7h0M859.1 334.7h0M860.7 330.2h0M843.8 351.3h0M836.9 350h0M840.7 341.3h0M840.2 347.5h0M839.3 343.6h0M853.1 339.1h0M850.9 345h0M850.3 343.9h0M840.9 344.6h0M853.9 335.7h0M848.7 349.4h0M849 343.9h0M850.1 341.8h0M863.4 334.4h0M848.8 351.8h0M859 339h0M846.3 345.5h0M861.9 333.1h0M849.4 344.6h0M850 339.6h0M858.9 330.4h0M855.6 337.3h0M838.7 347.9h0M841.4 348.9h0M863.9 330.4h0M843 356.4h0M844.3 343.6h0M862.7 330.6h0M838.1 351.3h0M843 349.4h0M845.4 349.5h0M839.4 349.1h0M848.8 339.9h0M850.4 335.5h0M844.6 343h0M841.8 350.8h0M859.2 334.3h0M857.1 332.1h0M851.9 338.8h0M841.6 349h0M853 341.2h0M853.3 336.9h0M848.7 342h0M857.2 329.1h0M846.1 341h0M854.2 344.2h0M837 344.8h0M852 338.9h0M858.3 335.6h0M856.3 335.1h0M843.2 344.6h0M863.7 330h0M856.7 336.2h0M848.9 342.5h0M845.4 338.9h0M858 334.5h0M841 346.3h0M853.6 336.8h0M857.1 336.7h0M852.6 342h0M862.3 334.7h0M849.3 340.6h0M851.8 343.7h0M847.5 348.2h0M864 334.2h0M848.7 348h0M855.8 336.4h0M848.3 342.6h0M863.8 333.2h0M860.2 328.2h0M839.2 351.8h0M862.9 329h0M853.1 337.9h0M836.8 346.7h0M849.3 339.2h0M839.2 350.9h0M853.9 341.8h0M844.6 350h0M863.2 299.1h0M888.6 285.2h0M879.8 288.8h0M882.2 288.5h0M884.2 287.9h0M862.8 295.3h0M864.7 295.7h0M878.5 294h0M861.9 292.6h0M877.4 291h0M883.2 285.4h0M881.9 288.9h0M881.3 290.8h0M863.3 296.3h0M869.8 295.6h0M887.4 281.8h0M866.8 297.8h0M877.4 288.7h0M864.1 297.7h0M890.4 285.2h0M864.7 289.1h0M873.6 290h0M878.6 290.4h0M885 291.1h0M890.4 285.4h0M884.3 288h0M871.1 289.4h0M865.6 299.2h0M884.9 291.8h0M891.2 284.4h0M862.3 296.3h0M883.7 283.4h0M868.1 296.7h0M878.4 297h0M878.4 291.8h0M881.6 291.8h0M892.2 285.3h0M881.7 285.9h0M875 294.8h0M882.3 285h0M875.8 290.5h0M874.7 292.2h0M873.8 294.2h0M877.2 291.5h0M870.8 294.2h0M868.5 292.2h0M865.2 292.2h0M875.3 291.4h0M870.1 291.6h0M885.9 283.2h0M886.2 283.2h0M871.8 291.5h0M878.8 284.9h0M887.8 282.3h0M871.2 288.7h0M878.8 290.2h0M875.7 292.1h0M883.4 293h0M889.4 281.2h0M865.5 293.7h0M891.8 286.5h0M881.8 287.9h0M885.6 285.9h0M882.7 292.5h0M887.8 284.9h0M870.7 290.2h0M882 284.9h0M870.2 294.3h0M877.6 291.1h0M881.1 285.1h0M867.1 292.2h0M864.3 297.4h0M886.3 288h0M885.7 285.1h0M882.6 289.7h0M872.2 294.1h0M880 284.5h0M864.2 295.2h0M882.3 289.3h0M878.7 288.2h0M878.5 284.3h0M875.1 290.6h0M869.5 295.7h0M885.3 291h0M873.8 286.1h0M886.9 293.1h0M871.8 289.8h0M865.5 298h0M879.5 292.7h0M881.6 291.1h0M879.5 328.3h0M877.6 332h0M876.9 331.2h0M873.9 332.9h0M880 330.1h0M876.7 329.3h0M877.8 329.1h0M883.7 322.5h0M882.1 326.4h0M881.1 324.7h0M887.6 323.9h0M873.7 330.2h0M879.7 329.1h0M873 333.9h0M876.2 327.6h0M886.3 323.1h0M871.5 331.5h0M884.6 327.7h0M887.4 328.3h0M880.5 330.4h0M884.2 325.4h0M880 332.1h0M875.5 327.9h0M881.1 331.5h0M873.6 330.9h0M873.4 326.1h0M878.9 335.5h0M889.4 326.8h0M875.7 328.9h0M875.1 332h0M886.8 324.2h0M873.5 332.8h0M885.9 321.8h0M884.8 324.3h0M882.5 328.3h0M878.5 330.1h0M875.6 334.1h0M872.9 333.1h0M875.1 337h0M876.2 329.3h0M878.2 330.4h0M884.8 321.5h0M878.8 326.5h0M889.2 326.4h0M882.3 325.2h0M1007.3 250.4h0M1002.1 249.7h0M1003.8 249.4h0M1008 252h0M1003.6 248.4h0M1006.4 250.3h0M1008.9 256.6h0M1008.3 250.4h0M1004.9 248.5h0M1002.5 248.2h0M1004.2 249.5h0M1008 249.6h0M1004.8 247.7h0M1010.9 251.7h0M1011.4 252.3h0M1010.4 249.9h0M1007.9 256.7h0M1001.5 253.2h0M1011.1 251.5h0M1008 253.4h0M1003.3 251.5h0M1002.6 248.9h0M1003.4 250.2h0M1006 251.6h0M1000.7 255.2h0M1009.4 252.2h0M1004.3 250.3h0M1007.4 251.5h0M999.8 252.2h0M1015.4 246.1h0M1008.9 251.4h0M1005.1 253.7h0M1001.5 250.9h0M1010.5 250h0M1004.1 250.8h0M1004 254.2h0M1002.4 252.6h0M1001.3 252.1h0M1005.1 244.4h0M1005.5 248h0M1004 254.1h0M1001.7 248h0M1010.4 250.8h0M1010.7 251.3h0M1002.5 250.3h0M1009.7 252.7h0M1005.5 250.6h0M1005.1 249.1h0M1012.1 250.5h0M1001.7 249.4h0M1008 252h0M1005 248.9h0M1005.6 246.5h0M1001.1 252.4h0M1003.9 251.4h0M1009.6 252h0M1005.6 255.5h0M1007.8 249.7h0M1008 251.5h0M1002.6 250.7h0M1004.9 245.9h0M1004.9 249.8h0M1004 246.6h0M1004.3 250.4h0M1005.8 247.8h0M1007.6 247.6h0M1004.7 253.6h0M1003.2 249.3h0M1009.1 249.6h0M1004.5 251h0M1006.5 305h0M1011.1 318.6h0M1007.8 320.3h0M1005.6 320.5h0M1002.5 300.3h0M1007.3 327.3h0M1007.2 315.4h0M1001.4 307.2h0M1002.6 312.1h0M1007.4 313.4h0M1002.7 314.7h0M1004.5 305.6h0M1004.9 306h0M1008.8 308.1h0M1010.1 321.2h0M1004.1 311.8h0M1007.4 298.1h0M1004.6 312.1h0M1003.5 304.3h0M1002.2 298.6h0M1017.6 325.5h0M1005.7 306.7h0M1005.3 314.7h0M1008.2 308.1h0M1003.1 299.7h0M1017.6 323.1h0M1008.4 326.6h0M1006.5 303h0M1003.6 311.3h0M1011.7 307.7h0M1002.2 303.6h0M1009 317.7h0M1006.8 322.1h0M1011.9 320h0M1010.3 317.7h0M996.2 300.4h0M1007.4 304.2h0M1009.3 312.9h0M1009.5 318.9h0M1009.3 308.7h0M1002.9 312.5h0M1004.4 324.6h0M1005.4 298.1h0M1010.5 304.6h0M1001.7 307.7h0M1007.5 328.7h0M1002.3 305.5h0M999.8 300.4h0M1009 309.8h0M1008.7 317.3h0M1008.5 301.5h0M1014.1 322h0M1001.5 304.7h0M1010.7 318.6h0M997.2 304.7h0M1009.8 324.5h0M1006.6 303.5h0M1006.4 320.6h0M1004.1 324.6h0M1003.5 306h0M1007.5 299.8h0M1006.5 315.9h0M1002.7 314.1h0M1008.4 312h0M1011.6 320.8h0M1003.6 312.7h0M1006.5 313h0M1010.3 311.7h0M1007.8 311.3h0M1008.6 309.5h0M1003.4 303.1h0M1005 306.9h0M1001.6 306.9h0M1002.8 306h0M1014.1 320.2h0M1002.7 301.8h0M1001.9 304.9h0M1005.8 314.2h0M1002.3 308.2h0M1006.6 304.8h0M1008.9 308.4h0M1004.1 313.8h0M1011.7 317.4h0M1017.5 325.4h0M1006.7 324.4h0M1008.7 310.3h0M1007.6 311.3h0M1010.6 309.3h0M1009 304.1h0M1014.2 325.6h0M1160.8 98.1h0M1154.6 99.3h0M1158.2 93.8h0M1164.2 96.8h0M1157.1 102.5h0M1159.2 97.7h0M1162.6 101.2h0M1160.5 100h0M1159.6 100.4h0M1159.6 95.9h0M1168.1 98h0M1162.4 103.7h0M1163.2 94.6h0M1164.4 93.5h0M1165.6 100.6h0M1160.2 95.1h0M1162.6 97h0M1158.9 98.7h0M1155.5 95.7h0M1160.7 96.2h0M1163 93.3h0M1163.9 96.5h0M1159.9 92.9h0M1158.2 98.1h0M1158.9 97.2h0M1165.4 100.1h0M1167 96.1h0M1158.5 100.1h0M1163 100.4h0M1162 100.6h0M1175.8 137.9h0M1174.7 140.8h0M1174.1 136h0M1179.3 135.7h0M1171.5 139.6h0M1173.3 135.8h0M1176.2 136.2h0M1168.8 140h0M1177.4 130.7h0M1174.5 138.4h0M1171.4 140.1h0M1176.7 135h0M1176.6 133.2h0M1176.9 138.9h0M1179.2 135h0M1170 142h0M1175.6 139.5h0M1176.4 135h0M1179.7 135.8h0M1175.5 136.1h0M1175.2 136.7h0M1172.6 138.1h0M1174.9 137h0M1175.7 138.8h0M1179 134.9h0M1345.7 194.2h0M1360.4 191h0M1364.8 188.6h0M1349.3 193.9h0M1365.9 190.9h0M1335.8 195h0M1337.5 196.3h0M1360.3 193h0M1342.4 192.8h0M1353.1 191.5h0M1350.2 195h0M1336.8 196.9h0M1359.5 190.5h0M1358.9 190h0M1336.4 194.3h0M1340.8 193.8h0M1361.1 189.2h0M1365.7 190.6h0M1363.8 189.1h0M1349.8 191.4h0M1345.1 195h0M1347.8 192.5h0M1337.7 194.8h0M1350 193.8h0M1339.9 195.7h0M1337.1 194.6h0M1345.5 193.8h0M1333.3 194.6h0M1349.2 195.4h0M1357.6 192.7h0M1355.5 190.7h0M1368.1 190.2h0M1364.8 191.6h0M1355.2 192.8h0M1365.5 193h0M1348.2 195.1h0M1361.2 190.5h0M1341.8 194.2h0M1350.8 191.2h0M1368.3 190.4h0M1353.8 192.6h0M1350.8 196.4h0M1360.9 191.4h0M1342.4 191.4h0M1362.4 190.2h0M1331.7 196h0M1339.8 193h0M1337.6 193.8h0M1340.7 194h0M1367 190.8h0M1372.2 283.9h0M1422.9 291.8h0M1432.4 294.4h0M1405.3 288.6h0M1392.8 285.8h0M1385 283.8h0M1381.5 284.3h0M1390.7 284.3h0M1423.6 292.8h0M1370.2 282.1h0M1419.6 291.2h0M1412.2 289.4h0M1371.5 280.9h0M1374 284.7h0M1416.6 289.9h0M1412.1 291.9h0M1389.6 286.5h0M1424.3 292.4h0M1383.5 283.5h0M1396.7 288.4h0M1376.9 285.1h0M1410.9 289.2h0M1375.5 282.8h0M1381.1 285.3h0M1418.2 291.9h0M1401.1 290.2h0M1411.8 289.7h0M1416.1 291.7h0M1408.5 288.4h0M1382.1 286.5h0M1414.1 290h0M1377.7 281.3h0M1387 285.2h0M1398.3 287.5h0M1376.8 285.3h0M1376.7 283h0M1411.1 290.1h0M1416.6 291.9h0M1393 288.2h0M1394.6 286.8h0M1382.9 285.6h0M1402.8 289h0M1406.6 289h0M1428.8 293.7h0M1372.6 282.5h0M1427.4 292.5h0M1432.2 295.6h0M1392.1 285h0M1415.5 292.2h0M1421.8 293.2h0M1411 290h0M1388.3 284.9h0M1409.3 289.6h0M1425.2 293.4h0M1376.6 284.1h0M1400.2 288.3h0M1371.2 283.3h0M1423.3 292h0M1419 292h0M1373.2 281h0M1472.7 223.5h0M1454.4 226.8h0M1462.9 227.4h0M1480.4 218.8h0M1463.6 212.1h0M1451.8 221.2h0M1481.3 225.9h0M1463.7 226.4h0M1460.8 226.5h0M1487.5 213.1h0M1485 222.5h0M1478.2 224.8h0M1471.1 219.1h0M1463.8 225.2h0M1486.7 213.2h0M1481.2 215.2h0M1455.9 213.9h0M1472.7 215.3h0M1458.4 212.2h0M1462 223.7h0M1448.9 218.7h0M1473.9 211.3h0M1460.6 225.9h0M1490.8 225h0M1455.3 223.5h0M1467.4 213.4h0M1468.7 226.2h0M1485.7 217.2h0M1450.7 225.8h0M1490.4 219.2h0M1457.7 219.7h0M1477.9 218.7h0M1463.2 214.7h0M1460.8 211.3h0M1459 226.7h0M1448.3 222.9h0M1481.9 217.4h0M1473.6 214.3h0M1476.7 222.5h0M1479.6 218.9h0M1489.7 225.2h0M1472.6 222.1h0M1459.8 226.5h0M1475.7 225.7h0M1460.4 227.2h0M1452.5 219.5h0M1452.8 213.7h0M1480.9 211.6h0M1464.5 213.8h0M1484.6 211.9h0M1462.5 225.1h0M1477.5 222.5h0M1490.6 210.9h0M1476.6 223.2h0M1480.2 222.6h0M1451.1 211.9h0M1481.2 220.9h0M1459.3 210.7h0M1470.9 212h0M1480.2 216.3h0M1482.7 212.1h0M1469.2 212.2h0M1481.6 220h0M1458.1 226.9h0M1477.3 216.2h0M1484.8 217h0M1488.5 215.6h0M1490.3 211.6h0M1479.6 215.5h0M1466.2 221.3h0M1450 214.3h0M1452.5 223.1h0M1457.5 219h0M1462.1 214.5h0M1488.2 219.1h0M1476 222.5h0M1483.3 215h0M1451.4 218.4h0M1455.3 210.8h0M1487.5 221.2h0M1465.8 212.8h0M1480.7 219.6h0M1455.5 227.2h0M1488.9 226.3h0M1483.5 219.5h0M1460.9 221.6h0M1454.5 221h0M1450.8 210.7h0M1478.8 216.3h0M1478 223.8h0M1483.9 221h0M1484.4 221.7h0M1487.9 225.7h0M1449.9 215.1h0M1464.7 214.8h0M1455.6 225.3h0M1449.1 213.6h0M1480.7 214.3h0M1459.1 226.9h0M1480.8 218.1h0M1453.9 215.1h0M1490.2 223.9h0M1451 222.5h0M1464.2 222.7h0M1460.7 212.7h0M1448.8 215.5h0M1485 225.7h0M1477.4 223.2h0M1456.4 216.5h0M1486.7 227.3h0M1467.1 223.7h0M1488.1 227.4h0M1460.7 221.6h0M1464.8 218.4h0M1467.9 215.2h0M1448.8 223.5h0M1477.9 224.8h0M1454.6 214.5h0M1473.6 226.4h0M1468.3 213.9h0M1473.6 226.8h0M1485.3 225.8h0M1465.7 215h0M1485.4 223.9h0M1484.6 217.2h0M1460.3 214.6h0M1485.4 226.1h0M1463.8 225.4h0M1464.4 218.1h0M1472.4 214.3h0M1459.5 215h0M1459.2 219.3h0M1452.3 223.8h0M1455.5 218h0M1475.6 212.8h0M1465.6 220.1h0M1471.7 225.7h0M1481.8 212.6h0M1483.8 219.8h0M1477.2 213.2h0M1468.3 222.4h0M1482.3 224.2h0M1457.3 224.7h0M1472.4 221.9h0M1484.6 217.4h0M1487.5 225.5h0M1482.7 217h0M1470.7 213.4h0M1480.7 225.6h0M1454.9 223.2h0M1477.8 211.1h0M1487.4 218.6h0M1459.6 211h0M1481.6 216.2h0M1470.1 213.8h0M1474.1 217.3h0M1482.7 221.8h0M1479 214.8h0M1450.7 225.5h0M1488.2 221.4h0M1487.6 222.5h0M1474.1 217.6h0M1463.3 218.8h0M1457.6 217.8h0M1469.8 211h0M1464.9 215.3h0M1475.3 224.3h0M1474.4 221.8h0M1474.4 214.9h0M1464.2 224.9h0M1488.7 213.6h0M1448.5 226.8h0M1485 220.8h0M1483.1 220.6h0M1486.9 214.6h0M1467.1 221.9h0M1457.3 222.7h0M1459.3 222.6h0M1482.6 217.7h0M1490.6 221.2h0M1480.5 210.9h0M1452.9 222.6h0M1488.6 221.2h0M1487.3 211.5h0M1486.3 225.4h0M1475 217.8h0M1478.3 214.6h0M1476.7 222.3h0M1471.2 214.9h0M1448.1 213.8h0M1483.9 214.1h0M1451.2 214.7h0M1470.3 220.5h0M1485.7 225h0M1489.7 225.5h0M1467.4 212.9h0M1489.1 214.4h0M1474.8 215h0M1483.1 213.9h0M1466.1 214.2h0M1485 221h0M1475.1 215.8h0M1455.6 225.1h0M1480.9 223h0M1490.9 220h0M1455.7 220.9h0M1460.4 219.2h0M1467.8 220.1h0M1487.6 224.3h0M1465.9 224.4h0M1485 223.7h0M1471.7 225.8h0M1469.2 212.3h0M1459.7 221.7h0M1464.3 217.7h0M1465.3 213.8h0M1452 211.3h0M1476.9 216h0M1467.6 226.4h0M1474.9 224.3h0M1480.8 226.7h0M1450.9 217h0M1488.8 218.4h0M1488.8 213.6h0M1450.6 225.7h0M1465.7 219.1h0M1488.3 214.2h0M1489.6 217.2h0M1458.6 214.5h0M1470.3 218.4h0M1486.1 211.4h0M1449.9 213.1h0M1474 223.8h0M1468.6 220.9h0M1475.6 210.8h0M1458.6 227.5h0M1462.2 226.6h0M1469.2 214.3h0M1448.1 214.2h0M1461.8 218h0M1467.2 219.8h0M1468.4 211.1h0M1459.5 226.9h0M1449.2 223h0M1468.5 222.5h0M1462.3 216.8h0M1470.2 226h0M1462.1 212h0M1449.6 225.5h0M1461.5 212.5h0M1473.6 224.9h0M1473.8 213.1h0M1465.4 215h0M1448.7 226.9h0M1467.7 212.8h0M1486.1 227.2h0M1483.1 214.8h0M1456.2 219.4h0M1473.1 225.4h0M1489.6 226h0M1462.7 220.5h0M1453.3 219.3h0M1451 212.4h0M1453.2 215.6h0M1461.3 222.5h0M1451.3 212.4h0M1476.2 221.9h0M1478.5 222.7h0M1476.5 219.9h0M1479.9 211.9h0M1457.1 223.1h0M1456.3 219.5h0M1459.2 217.8h0M1483.9 221.7h0M1467.1 215.2h0M1482.6 221.7h0M1466.9 225.3h0M1477.8 227.2h0M1476.6 225.8h0M1471.7 222.6h0M1484.2 212h0M1468.4 220.8h0M1450.5 223.9h0M1478.8 226.4h0M1464 218.5h0M1487.2 217.5h0M1483.9 217.7h0M1462.5 215.2h0M1457.2 217.8h0M1454.9 224.6h0M1489.9 212.2h0M1450.4 210.6h0M1488.1 211.8h0M1477.2 215.7h0M1456.5 214.7h0M1477.7 210.8h0M1485.2 220.2h0M1458.1 214h0M1476.2 221.2h0M1461.7 216.2h0M1454.5 220.7h0M1462 213.9h0M1475.5 213h0M1495.6 215.5h0M1496.9 212.4h0M1477.5 211.8h0M1450.2 220h0M1478.5 211.4h0M1485.6 214.2h0M1470.8 221.3h0M1477.3 208.2h0M1491.7 222.4h0M1463 212.9h0M1445.3 210.8h0M1476.6 217h0M1453.2 215.8h0M1490.9 217h0M1460.8 227.1h0M1475.5 219.3h0M1460.5 209.7h0M1452.6 216.1h0M1465.9 221.1h0M1476.7 220.3h0M1472.1 213h0M1438.8 215.9h0M1446.4 232.2h0M1458.8 233.1h0M1455.4 232.7h0M1469.7 230.2h0M1441.6 233.1h0M1466.7 233.7h0M1443.7 233.3h0M1456.3 232.2h0M1463.1 233.6h0M1444.3 235h0M1446.6 234.8h0M1455 232.2h0M1431.1 234.6h0M1450.5 234.6h0M1430.3 233.9h0M1436.3 233.4h0M1454.7 234.1h0M1470.8 234h0M1471.9 230.6h0M1437.8 231.1h0M1432.6 232.8h0M1449.8 232.2h0M1446.3 233.5h0M1443.5 234.6h0M1461.3 232.5h0M1458.6 232h0M1451.9 233.5h0M1454.5 232h0M1452.8 233.2h0M1457.1 232.2h0M1468.9 235.4h0M1469.6 233.1h0M1471 231.1h0M1465.5 231.2h0M1430.8 234.2h0M1589.7 175.3h0M1578.3 174.5h0M1545.8 171.1h0M1593.2 178.2h0M1550.9 173.9h0M1584.6 173.8h0M1536 176.8h0M1562 176h0M1565.4 173.3h0M1591.9 175.2h0M1587.9 171.2h0M1568.2 171.9h0M1534.6 167.4h0M1560.2 176.5h0M1556.6 168.6h0M1598.7 175.7h0M1577.3 171.6h0M1558.6 171h0M1555.8 172.9h0M1583.2 174.4h0M1537.5 174.6h0M1586.5 178.2h0M1576.6 174.6h0M1560.6 175.6h0M1579.3 172.2h0M1558 175.2h0M1540.7 173.5h0M1559.4 172.3h0M1819.8 207.8h0M1820.3 202.8h0M1867.6 204.3h0M1846.6 202.8h0M1856.5 204.7h0M1868.8 199.6h0M1823 203.2h0M1910.2 194.7h0M1882.2 202h0M1828.4 207.1h0M1888.2 206.2h0M1868.9 205.1h0M1882.9 200.9h0M1887.6 199.2h0M1911.3 199.2h0M1830 204.1h0M1912 202.4h0M1863.6 204.5h0M1837.5 201.1h0M1853.6 200.3h0M1853.2 206.5h0M1902.3 199.7h0M1867.7 200.6h0M1825.5 208.1h0M1885.4 198.8h0M1865.2 200.7h0M1894.7 197.9h0M1822.9 198.8h0M1899.6 201.5h0M1901.8 195.1h0M1819.6 203.2h0M1863.2 199.4h0M1830.5 206.3h0M1868.2 201.1h0M1827.3 204.4h0M1901.1 193.8h0M1836.1 203.5h0M1880.8 195.9h0M1879.9 201.3h0M1848.9 203.9h0" stroke="#6262d0" stroke-width="3.5" stroke-linecap="round" fill="none"/>
<g fill="none" stroke="#ff0000" stroke-width="2.9">
<circle cx="322" cy="224.3" r="23.1"/>
<circle cx="331.6" cy="255" r="27.2"/>
<circle cx="540.8" cy="360.4" r="26.6"/>
<circle cx="634.3" cy="376.4" r="34.3"/>
<circle cx="832.8" cy="318" r="13.2"/>
<circle cx="833.1" cy="332.1" r="14.2"/>
<circle cx="824.7" cy="351.4" r="12.4"/>
<circle cx="831.8" cy="354.6" r="23.8"/>
<circle cx="867.2" cy="284.4" r="11.2"/>
<circle cx="881.6" cy="293.1" r="18.4"/>
<circle cx="876.4" cy="326" r="17.1"/>
<circle cx="999.8" cy="254.2" r="26.2"/>
<circle cx="1009.2" cy="308.4" r="24.6"/>
<circle cx="1157.5" cy="100.4" r="15.9"/>
<circle cx="1172.5" cy="139.2" r="11.2"/>
<circle cx="1341.3" cy="193.5" r="15.4"/>
<circle cx="1360.1" cy="192.2" r="15.2"/>
<circle cx="1385.5" cy="284.9" r="18.2"/>
<circle cx="1428.4" cy="232.8" r="19.6"/>
<circle cx="1441.8" cy="217" r="25.4"/>
<circle cx="1564.1" cy="175.2" r="20.1"/>
<circle cx="1825" cy="199.5" r="21.9"/>
</g>
<path d="M301 209.2 L307 211.6 L313 214.1 L319 216.6 L325 219.2 L331 221.8 L337 224.5 L343 227.3 L349 230 L355 232.9 L361 235.8 L367 238.8 L373 241.8 L379 244.9 L385 248.1 L391 251.4 L397 254.7 L403 258.1 L409 261.5 L415 265 L421 268.6 L427 272.3 L433 276.1 L439 279.9 L445 283.9 L451 287.9 L457 292 L463 296.2 L469 300.4 L475 304.7 L481 309 L487 313.4 L493 317.7 L499 322.1 L505 326.5 L511 330.9 L517 335.2 L523 339.6 L529 343.8 L535 348 L541 352.2 L547 356.3 L553 360.3 L559 364.2 L565 368 L571 371.8 L577 375.4 L583 378.9 L589 382.4 L595 385.8 L601 389 L607 392.1 L613 395.2 L619 398.1 L625 400.9 L631 403.5 L637 406.1 L643 408.5 L649 410.8 L655 413 L661 415 L667 416.9 L673 418.6 L679 420.2 L685 421.6 L691 422.9 L697 424 L703 425 L709 425.8 L715 426.5 L721 427 L727 427.3 L733 427.4 L739 427.3 L745 427.1 L751 426.6 L757 425.9 L763 425 L769 423.9 L775 422.5 L781 420.9 L787 419 L793 416.9 L799 414.5 L805 411.8 L811 408.8 L817 405.5 L823 401.9 L829 398 L835 393.8 L841 389.3 L847 384.4 L853 379.2 L859 373.8 L865 368.1 L871 362.2 L877 356.2 L883 350 L889 343.8 L895 337.5 L901 331.1 L907 324.8 L913 318.5 L919 312.1 L925 305.8 L931 299.4 L937 293.1 L943 286.7 L949 280.3 L955 274 L961 267.6 L967 261.1 L973 254.7 L979 248.3 L985 241.8 L991 235.4 L997 228.9 L1003 222.5 L1009 216.1 L1015 209.8 L1021 203.6 L1027 197.5 L1033 191.5 L1039 185.7 L1045 180 L1051 174.4 L1057 169.1 L1063 164 L1069 159 L1075 154.3 L1081 149.9 L1087 145.6 L1093 141.6 L1099 137.8 L1105 134.2 L1111 130.8 L1117 127.7 L1123 124.7 L1129 122.1 L1135 119.6 L1141 117.4 L1147 115.4 L1153 113.6 L1159 112.2 L1165 111.2 L1171 110.6 L1177 110.4 L1183 110.6 L1189 111.2 L1195 112.1 L1201 113.5 L1207 115.1 L1213 117 L1219 119.2 L1225 121.7 L1231 124.4 L1237 127.3 L1243 130.4 L1249 133.7 L1255 137.1 L1261 140.6 L1267 144.3 L1273 148 L1279 151.8 L1285 155.6 L1291 159.5 L1297 163.4 L1303 167.2 L1309 171 L1315 174.8 L1321 178.6 L1327 182.4 L1333 186.2 L1339 190 L1345 193.7 L1351 197.5 L1357 201.4 L1363 205.2 L1369 209.1 L1375 212.9 L1381 216.6 L1387 220.2 L1393 223.8 L1399 227.1 L1405 230.3 L1411 233.3 L1417 236 L1423 238.5 L1429 240.8 L1435 242.8 L1441 244.7 L1447 246.2 L1453 247.6 L1459 248.7 L1465 249.7 L1471 250.4 L1477 250.9 L1483 251.2 L1489 251.3 L1495 251.3 L1501 251 L1507 250.5 L1513 249.9 L1519 249 L1525 248 L1531 246.7 L1537 245.3 L1543 243.6 L1549 241.7 L1555 239.7 L1561 237.4 L1567 235 L1573 232.5 L1579 229.9 L1585 227.2 L1591 224.5 L1597 221.8 L1603 219.2 L1609 216.6 L1615 214.1 L1621 211.7 L1627 209.5 L1633 207.3 L1639 205.3 L1645 203.4 L1651 201.6 L1657 199.9 L1663 198.4 L1669 197 L1675 195.7 L1681 194.6 L1687 193.6 L1693 192.8 L1699 192.1 L1705 191.6 L1711 191.2 L1717 191 L1723 191 L1729 191.1 L1735 191.4 L1741 191.8 L1747 192.4 L1753 193 L1759 193.8 L1765 194.6 L1771 195.5 L1777 196.5 L1783 197.5 L1789 198.5 L1795 199.6 L1801 200.6 L1807 201.7 L1813 202.7 L1819 203.7 L1825 204.7 L1831 205.5 L1837 206.4 L1843 207.1 L1846 207.4" fill="none" stroke="#ffa500" stroke-width="5.6" stroke-linejoin="round"/>
<path fill="#ff45ff" d="M319.9 224.3 324.1 224.3 324.1 318.1 332.4 318.1 322 330.8 311.6 318.1 319.9 318.1ZM329.5 255 333.8 255 333.8 402.1 342 402.1 331.6 414.8 321.2 402.1 329.5 402.1ZM538.6 360.4 542.9 360.4 542.9 486.2 551.2 486.2 540.8 498.9 530.4 486.2 538.6 486.2ZM632.1 376.4 636.4 376.4 636.4 501.9 644.7 501.9 634.3 514.6 623.9 501.9 632.1 501.9ZM831 354.6 835.2 354.6 835.2 331 843.5 331 833.1 318.3 822.7 331 831 331ZM822.9 351.4 827.1 351.4 827.1 354.5 835.4 354.5 825 367.2 814.6 354.5 822.9 354.5ZM831 332.1 835.2 332.1 835.2 334.9 843.5 334.9 833.1 347.6 822.7 334.9 831 334.9ZM831 352 835.2 352 835.2 350 843.5 350 833.1 337.3 822.7 350 831 350ZM865.1 284.4 869.4 284.4 869.4 227.7 877.6 227.7 867.2 215 856.8 227.7 865.1 227.7ZM878.9 293.1 883.1 293.1 883.1 250.5 891.4 250.5 881 237.8 870.6 250.5 878.9 250.5ZM874.2 326 878.5 326 878.5 279.7 886.8 279.7 876.4 267 866 279.7 874.2 279.7ZM997.6 254.2 1001.9 254.2 1001.9 302 1010.2 302 999.8 314.7 989.4 302 997.6 302ZM1019.4 307.4 1009 320.1 998.6 307.4ZM1155.1 100.4 1159.5 100.4 1159.5 138.3 1167.7 138.3 1157.3 151 1146.9 138.3 1155.1 138.3ZM1169.1 139.2 1173.5 139.2 1173.5 222.8 1181.7 222.8 1171.3 235.5 1160.9 222.8 1169.1 222.8ZM1339.9 193.5 1344.2 193.5 1344.2 241 1352.5 241 1342.1 253.7 1331.7 241 1339.9 241ZM1358 192.2 1362.4 192.2 1362.4 241.8 1370.6 241.8 1360.2 254.5 1349.8 241.8 1358 241.8ZM1383.4 284.9 1387.8 284.9 1387.8 190.1 1396 190.1 1385.6 177.4 1375.2 190.1 1383.4 190.1ZM1426 232.8 1430.4 232.8 1430.4 185.7 1438.6 185.7 1428.2 173 1417.8 185.7 1426 185.7ZM1439.5 217 1443.9 217 1443.9 174 1452.1 174 1441.7 161.3 1431.3 174 1439.5 174ZM1561.8 175.2 1566.1 175.2 1566.1 179.1 1574.3 179.1 1563.9 191.8 1553.5 179.1 1561.8 179.1ZM1822.8 199.5 1827.2 199.5 1827.2 121.1 1835.4 121.1 1825 108.4 1814.6 121.1 1822.8 121.1Z"/>
</g>
<g font-family="'DejaVu Sans', 'Liberation Sans', sans-serif" font-weight="bold" font-size="19.4" fill="#ff0000">
<text x="369.7" y="193.8">CMa</text>
<text x="460.5" y="296.9">Crossbones</text>
<text x="602.5" y="313">Mon R2</text>
<text x="752.4" y="270.8">Orion B</text>
<text x="761.1" y="415.3">Orion A</text>
<text x="875.7" y="221.2">LamOri</text>
<text x="1047.2" y="254.7">Taurus</text>
<text x="1041.7" y="356.8">Perseus</text>
<text x="1189.5" y="101.2">Cepheus-near</text>
<text x="1296" y="161.6">L977</text>
<text x="1358.7" y="162.1">L988</text>
<text x="1401.7" y="317.5">IC5146</text>
<text x="1444.3" y="265.7">North America</text>
<text x="1596.5" y="175.8">CygnusX</text>
<text x="1856.9" y="200.8">CygnusX</text>
</g>
<line x1="166" y1="890" x2="1959.7" y2="890" stroke="#1f77b4" stroke-width="2.8"/>
<g fill="none" stroke="#ff0000" stroke-width="3.1">
<circle cx="322.1" cy="1000.8" r="23.2"/>
<circle cx="331.7" cy="1064.4" r="27.5"/>
<circle cx="540.9" cy="1040.3" r="26.5"/>
<circle cx="634.3" cy="1039" r="34.2"/>
<circle cx="832.2" cy="882" r="23.9"/>
<circle cx="832.2" cy="888.2" r="14.5"/>
<circle cx="824.9" cy="895" r="12.5"/>
<circle cx="832.2" cy="912.6" r="13.2"/>
<circle cx="867.3" cy="819.3" r="10.1"/>
<circle cx="880.5" cy="836" r="20.3"/>
<circle cx="876.8" cy="830" r="17.1"/>
<circle cx="999.5" cy="945" r="26"/>
<circle cx="1009.2" cy="889.9" r="24"/>
<circle cx="1157.2" cy="935.4" r="15.5"/>
<circle cx="1171.7" cy="989.7" r="12.2"/>
<circle cx="1342.2" cy="946.8" r="15.5"/>
<circle cx="1359.2" cy="949.8" r="15.5"/>
<circle cx="1385.3" cy="775.7" r="17.5"/>
<circle cx="1428.5" cy="832.8" r="19.5"/>
<circle cx="1441.6" cy="837.4" r="25.5"/>
<circle cx="1564.1" cy="897" r="20.2"/>
<circle cx="1825.3" cy="795.3" r="22.5"/>
</g>
<g fill="none" stroke="#808080" stroke-opacity="0.8" stroke-width="3.6">
<circle cx="322.1" cy="997.5" r="23.5"/>
<circle cx="331.7" cy="1046.4" r="27.5"/>
<circle cx="540.9" cy="956.4" r="27.1"/>
<circle cx="634.3" cy="934.2" r="34.5"/>
<circle cx="832.2" cy="729.9" r="23.5"/>
<circle cx="832.2" cy="759.7" r="14.2"/>
<circle cx="824.9" cy="769.8" r="13.2"/>
<circle cx="832.2" cy="802.5" r="13.1"/>
<circle cx="867.3" cy="739.9" r="11.2"/>
<circle cx="880.5" cy="756.7" r="18.2"/>
<circle cx="876.8" cy="766.9" r="16.7"/>
<circle cx="999.5" cy="870.6" r="26"/>
<circle cx="1009.2" cy="815.9" r="24.2"/>
<circle cx="1157.2" cy="819.7" r="15.8"/>
<circle cx="1171.7" cy="943.1" r="11.1"/>
<circle cx="1342.2" cy="933.8" r="15.2"/>
<circle cx="1359.2" cy="938.8" r="15.2"/>
<circle cx="1385.3" cy="786.6" r="18.3"/>
<circle cx="1428.5" cy="837.4" r="19.8"/>
<circle cx="1441.6" cy="836.4" r="25.8"/>
<circle cx="1564.1" cy="887.8" r="20.1"/>
<circle cx="1825.3" cy="791.7" r="22.7"/>
</g>
<path fill="none" stroke="#808080" stroke-width="3.3" d="M285.6 997.5H358.6M322.1 965.5V1029.5M291.7 1046.4H371.7M331.7 1013.2V1079.6M509.9 956.4H571.9M540.9 905.4V1007.4M607.8 934.2H660.8M634.3 887.5V980.9M815.3 729.9H849.1M832.2 713.6V746.2M811.7 759.7H852.7M832.2 736.7V782.7M807.6 769.8H842.2M824.9 755.8V783.8M811.7 802.5H852.7M832.2 778.5V826.5M859.3 739.9H875.3M867.3 727.3V752.5M870.5 756.7H890.5M880.5 735.5V777.9M864.8 766.9H888.8M876.8 743.3V790.5M991.5 870.6H1007.5M999.5 864.6V876.6M1005.2 815.9H1013.2M1009.2 792.3V839.5M1149.2 819.7H1165.2M1157.2 805.7V833.7M1158.7 943.1H1184.7M1171.7 935.1V951.1M1317.2 933.8H1367.2M1342.2 917.8V949.8M1334.2 938.8H1384.2M1359.2 923.8V953.8M1360.3 786.6H1410.3M1385.3 762V811.2M1391.5 837.4H1465.5M1428.5 811.4V863.4M1404.6 836.4H1478.6M1441.6 806.4V866.4M1533.6 887.8H1594.6M1564.1 859.8V915.8M1779.6 791.7H1871M1825.3 734.7V848.7"/>
<path fill="none" stroke="#808080" stroke-width="2.7" d="M285.6 989.6v15.8M358.6 989.6v15.8M314.2 965.5h15.8M314.2 1029.5h15.8M291.7 1038.5v15.8M371.7 1038.5v15.8M323.8 1013.2h15.8M323.8 1079.6h15.8M509.9 948.5v15.8M571.9 948.5v15.8M533 905.4h15.8M533 1007.4h15.8M607.8 926.3v15.8M660.8 926.3v15.8M626.4 887.5h15.8M626.4 980.9h15.8M815.3 722v15.8M849.1 722v15.8M824.3 713.6h15.8M824.3 746.2h15.8M811.7 751.8v15.8M852.7 751.8v15.8M824.3 736.7h15.8M824.3 782.7h15.8M807.6 761.9v15.8M842.2 761.9v15.8M817 755.8h15.8M817 783.8h15.8M811.7 794.6v15.8M852.7 794.6v15.8M824.3 778.5h15.8M824.3 826.5h15.8M859.3 732v15.8M875.3 732v15.8M859.4 727.3h15.8M859.4 752.5h15.8M870.5 748.8v15.8M890.5 748.8v15.8M872.6 735.5h15.8M872.6 777.9h15.8M864.8 759v15.8M888.8 759v15.8M868.9 743.3h15.8M868.9 790.5h15.8M991.5 862.7v15.8M1007.5 862.7v15.8M991.6 864.6h15.8M991.6 876.6h15.8M1005.2 808v15.8M1013.2 808v15.8M1001.3 792.3h15.8M1001.3 839.5h15.8M1149.2 811.8v15.8M1165.2 811.8v15.8M1149.3 805.7h15.8M1149.3 833.7h15.8M1158.7 935.2v15.8M1184.7 935.2v15.8M1163.8 935.1h15.8M1163.8 951.1h15.8M1317.2 925.9v15.8M1367.2 925.9v15.8M1334.3 917.8h15.8M1334.3 949.8h15.8M1334.2 930.9v15.8M1384.2 930.9v15.8M1351.3 923.8h15.8M1351.3 953.8h15.8M1360.3 778.7v15.8M1410.3 778.7v15.8M1377.4 762h15.8M1377.4 811.2h15.8M1391.5 829.5v15.8M1465.5 829.5v15.8M1420.6 811.4h15.8M1420.6 863.4h15.8M1404.6 828.5v15.8M1478.6 828.5v15.8M1433.7 806.4h15.8M1433.7 866.4h15.8M1533.6 879.9v15.8M1594.6 879.9v15.8M1556.2 859.8h15.8M1556.2 915.8h15.8M1779.6 783.8v15.8M1871 783.8v15.8M1817.4 734.7h15.8M1817.4 848.7h15.8"/>
<path fill="none" stroke="#ff45ff" stroke-width="3.3" d="M285.6 1000.8H358.6M322.1 969V1032.6M291.7 1064.4H371.7M331.7 1031.1V1097.7M509.9 1040.3H571.9M540.9 988.7V1091.9M607.8 1039H660.8M634.3 990.6V1087.4M815.6 882H848.8M832.2 861.5V902.5M811.6 888.2H852.8M832.2 872.2V904.2M808.1 895H841.7M824.9 880V910M811.6 912.6H852.8M832.2 886.6V938.6M859.3 819.3H875.3M867.3 807.7V830.9M870.5 836H890.5M880.5 812V860M864.8 830H888.8M876.8 805V855M995.5 945H1003.5M999.5 936.3V953.7M1005.2 889.9H1013.2M1009.2 858.9V920.9M1149.2 935.4H1165.2M1157.2 919.4V951.4M1157.8 989.7H1185.6M1171.7 979.7V999.7M1317.2 946.8H1367.2M1342.2 929.8V963.8M1334.2 949.8H1384.2M1359.2 929.8V969.8M1360.3 775.7H1410.3M1385.3 750.3V801.1M1391.9 832.8H1465.1M1428.5 805.8V859.8M1404.6 837.4H1478.6M1441.6 796.9V877.9M1533.6 897H1594.6M1564.1 868V926M1779.6 795.3H1871M1825.3 737.8V852.8"/>
<path fill="none" stroke="#ff45ff" stroke-width="2.7" d="M285.6 992.9v15.8M358.6 992.9v15.8M314.2 969h15.8M314.2 1032.6h15.8M291.7 1056.5v15.8M371.7 1056.5v15.8M323.8 1031.1h15.8M323.8 1097.7h15.8M509.9 1032.4v15.8M571.9 1032.4v15.8M533 988.7h15.8M533 1091.9h15.8M607.8 1031.1v15.8M660.8 1031.1v15.8M626.4 990.6h15.8M626.4 1087.4h15.8M815.6 874.1v15.8M848.8 874.1v15.8M824.3 861.5h15.8M824.3 902.5h15.8M811.6 880.3v15.8M852.8 880.3v15.8M824.3 872.2h15.8M824.3 904.2h15.8M808.1 887.1v15.8M841.7 887.1v15.8M817 880h15.8M817 910h15.8M811.6 904.7v15.8M852.8 904.7v15.8M824.3 886.6h15.8M824.3 938.6h15.8M859.3 811.4v15.8M875.3 811.4v15.8M859.4 807.7h15.8M859.4 830.9h15.8M870.5 828.1v15.8M890.5 828.1v15.8M872.6 812h15.8M872.6 860h15.8M864.8 822.1v15.8M888.8 822.1v15.8M868.9 805h15.8M868.9 855h15.8M995.5 937.1v15.8M1003.5 937.1v15.8M991.6 936.3h15.8M991.6 953.7h15.8M1005.2 882v15.8M1013.2 882v15.8M1001.3 858.9h15.8M1001.3 920.9h15.8M1149.2 927.5v15.8M1165.2 927.5v15.8M1149.3 919.4h15.8M1149.3 951.4h15.8M1157.8 981.8v15.8M1185.6 981.8v15.8M1163.8 979.7h15.8M1163.8 999.7h15.8M1317.2 938.9v15.8M1367.2 938.9v15.8M1334.3 929.8h15.8M1334.3 963.8h15.8M1334.2 941.9v15.8M1384.2 941.9v15.8M1351.3 929.8h15.8M1351.3 969.8h15.8M1360.3 767.8v15.8M1410.3 767.8v15.8M1377.4 750.3h15.8M1377.4 801.1h15.8M1391.9 824.9v15.8M1465.1 824.9v15.8M1420.6 805.8h15.8M1420.6 859.8h15.8M1404.6 829.5v15.8M1478.6 829.5v15.8M1433.7 796.9h15.8M1433.7 877.9h15.8M1533.6 889.1v15.8M1594.6 889.1v15.8M1556.2 868h15.8M1556.2 926h15.8M1779.6 787.4v15.8M1871 787.4v15.8M1817.4 737.8h15.8M1817.4 852.8h15.8"/>
<path stroke="#808080" stroke-width="11.4" stroke-linecap="round" d="M322.1 997.5h0M331.7 1046.4h0M540.9 956.4h0M634.3 934.2h0M832.2 729.9h0M832.2 759.7h0M824.9 769.8h0M832.2 802.5h0M867.3 739.9h0M880.5 756.7h0M876.8 766.9h0M999.5 870.6h0M1009.2 815.9h0M1157.2 819.7h0M1171.7 943.1h0M1342.2 933.8h0M1359.2 938.8h0M1385.3 786.6h0M1428.5 837.4h0M1441.6 836.4h0M1564.1 887.8h0M1825.3 791.7h0"/>
<path stroke="#ff45ff" stroke-width="11.4" stroke-linecap="round" d="M322.1 1000.8h0M331.7 1064.4h0M540.9 1040.3h0M634.3 1039h0M832.2 882h0M832.2 888.2h0M824.9 895h0M832.2 912.6h0M867.3 819.3h0M880.5 836h0M876.8 830h0M999.5 945h0M1009.2 889.9h0M1157.2 935.4h0M1171.7 989.7h0M1342.2 946.8h0M1359.2 949.8h0M1385.3 775.7h0M1428.5 832.8h0M1441.6 837.4h0M1564.1 897h0M1825.3 795.3h0"/>
<g font-family="'DejaVu Sans', 'Liberation Sans', sans-serif" font-size="32.7" fill="#000">
<line x1="223.9" y1="522.7" x2="223.9" y2="512.2" stroke="#555555" stroke-width="2.4"/>
<line x1="281.7" y1="522.7" x2="281.7" y2="512.2" stroke="#555555" stroke-width="2.4"/>
<line x1="339.6" y1="522.7" x2="339.6" y2="497.2" stroke="#555555" stroke-width="4.5"/>
<line x1="397.4" y1="522.7" x2="397.4" y2="512.2" stroke="#555555" stroke-width="2.4"/>
<line x1="455.3" y1="522.7" x2="455.3" y2="512.2" stroke="#555555" stroke-width="2.4"/>
<line x1="513.2" y1="522.7" x2="513.2" y2="512.2" stroke="#555555" stroke-width="2.4"/>
<line x1="571" y1="522.7" x2="571" y2="497.2" stroke="#555555" stroke-width="4.5"/>
<line x1="628.9" y1="522.7" x2="628.9" y2="512.2" stroke="#555555" stroke-width="2.4"/>
<line x1="686.8" y1="522.7" x2="686.8" y2="512.2" stroke="#555555" stroke-width="2.4"/>
<line x1="744.6" y1="522.7" x2="744.6" y2="512.2" stroke="#555555" stroke-width="2.4"/>
<line x1="802.5" y1="522.7" x2="802.5" y2="497.2" stroke="#555555" stroke-width="4.5"/>
<line x1="860.3" y1="522.7" x2="860.3" y2="512.2" stroke="#555555" stroke-width="2.4"/>
<line x1="918.2" y1="522.7" x2="918.2" y2="512.2" stroke="#555555" stroke-width="2.4"/>
<line x1="976.1" y1="522.7" x2="976.1" y2="512.2" stroke="#555555" stroke-width="2.4"/>
<line x1="1033.9" y1="522.7" x2="1033.9" y2="497.2" stroke="#555555" stroke-width="4.5"/>
<line x1="1091.8" y1="522.7" x2="1091.8" y2="512.2" stroke="#555555" stroke-width="2.4"/>
<line x1="1149.6" y1="522.7" x2="1149.6" y2="512.2" stroke="#555555" stroke-width="2.4"/>
<line x1="1207.5" y1="522.7" x2="1207.5" y2="512.2" stroke="#555555" stroke-width="2.4"/>
<line x1="1265.4" y1="522.7" x2="1265.4" y2="497.2" stroke="#555555" stroke-width="4.5"/>
<line x1="1323.2" y1="522.7" x2="1323.2" y2="512.2" stroke="#555555" stroke-width="2.4"/>
<line x1="1381.1" y1="522.7" x2="1381.1" y2="512.2" stroke="#555555" stroke-width="2.4"/>
<line x1="1438.9" y1="522.7" x2="1438.9" y2="512.2" stroke="#555555" stroke-width="2.4"/>
<line x1="1496.8" y1="522.7" x2="1496.8" y2="497.2" stroke="#555555" stroke-width="4.5"/>
<line x1="1554.7" y1="522.7" x2="1554.7" y2="512.2" stroke="#555555" stroke-width="2.4"/>
<line x1="1612.5" y1="522.7" x2="1612.5" y2="512.2" stroke="#555555" stroke-width="2.4"/>
<line x1="1670.4" y1="522.7" x2="1670.4" y2="512.2" stroke="#555555" stroke-width="2.4"/>
<line x1="1728.3" y1="522.7" x2="1728.3" y2="497.2" stroke="#555555" stroke-width="4.5"/>
<line x1="1786.1" y1="522.7" x2="1786.1" y2="512.2" stroke="#555555" stroke-width="2.4"/>
<line x1="1844" y1="522.7" x2="1844" y2="512.2" stroke="#555555" stroke-width="2.4"/>
<line x1="1901.8" y1="522.7" x2="1901.8" y2="512.2" stroke="#555555" stroke-width="2.4"/>
<line x1="1959.7" y1="522.7" x2="1959.7" y2="497.2" stroke="#555555" stroke-width="4.5"/>
<line x1="166" y1="475.3" x2="155.5" y2="475.3" stroke="#555555" stroke-width="2.2"/>
<line x1="166" y1="380.4" x2="155.5" y2="380.4" stroke="#555555" stroke-width="2.2"/>
<line x1="166" y1="285.6" x2="155.5" y2="285.6" stroke="#555555" stroke-width="2.2"/>
<line x1="166" y1="190.7" x2="155.5" y2="190.7" stroke="#555555" stroke-width="2.2"/>
<line x1="166" y1="95.9" x2="155.5" y2="95.9" stroke="#555555" stroke-width="2.2"/>
<line x1="166" y1="1" x2="155.5" y2="1" stroke="#555555" stroke-width="2.2"/>
<line x1="166" y1="522.7" x2="142.5" y2="522.7" stroke="#555555" stroke-width="4"/>
<line x1="166" y1="427.8" x2="142.5" y2="427.8" stroke="#555555" stroke-width="4"/>
<line x1="166" y1="333" x2="142.5" y2="333" stroke="#555555" stroke-width="4"/>
<line x1="166" y1="238.1" x2="142.5" y2="238.1" stroke="#555555" stroke-width="4"/>
<line x1="166" y1="143.3" x2="142.5" y2="143.3" stroke="#555555" stroke-width="4"/>
<line x1="166" y1="48.4" x2="142.5" y2="48.4" stroke="#555555" stroke-width="4"/>
<rect x="166" y="1" width="1793.7" height="521.7" fill="none" stroke="#000" stroke-width="2.5"/>
<text x="339.6" y="557" text-anchor="middle">−1200</text>
<text x="571" y="557" text-anchor="middle">−800</text>
<text x="802.5" y="557" text-anchor="middle">−400</text>
<text x="1033.9" y="557" text-anchor="middle">0</text>
<text x="1265.4" y="557" text-anchor="middle">400</text>
<text x="1496.8" y="557" text-anchor="middle">800</text>
<text x="1728.3" y="557" text-anchor="middle">1200</text>
<text x="1959.7" y="557" text-anchor="middle">1600</text>
<text x="133.3" y="534.6" text-anchor="end">−300</text>
<text x="133.3" y="439.7" text-anchor="end">−200</text>
<text x="133.3" y="344.9" text-anchor="end">−100</text>
<text x="133.3" y="250" text-anchor="end">0</text>
<text x="133.3" y="155.2" text-anchor="end">100</text>
<text x="133.3" y="60.3" text-anchor="end">200</text>
<line x1="223.9" y1="1159.4" x2="223.9" y2="1148.9" stroke="#555555" stroke-width="2.4"/>
<line x1="281.7" y1="1159.4" x2="281.7" y2="1148.9" stroke="#555555" stroke-width="2.4"/>
<line x1="339.6" y1="1159.4" x2="339.6" y2="1133.9" stroke="#555555" stroke-width="4.5"/>
<line x1="397.4" y1="1159.4" x2="397.4" y2="1148.9" stroke="#555555" stroke-width="2.4"/>
<line x1="455.3" y1="1159.4" x2="455.3" y2="1148.9" stroke="#555555" stroke-width="2.4"/>
<line x1="513.2" y1="1159.4" x2="513.2" y2="1148.9" stroke="#555555" stroke-width="2.4"/>
<line x1="571" y1="1159.4" x2="571" y2="1133.9" stroke="#555555" stroke-width="4.5"/>
<line x1="628.9" y1="1159.4" x2="628.9" y2="1148.9" stroke="#555555" stroke-width="2.4"/>
<line x1="686.8" y1="1159.4" x2="686.8" y2="1148.9" stroke="#555555" stroke-width="2.4"/>
<line x1="744.6" y1="1159.4" x2="744.6" y2="1148.9" stroke="#555555" stroke-width="2.4"/>
<line x1="802.5" y1="1159.4" x2="802.5" y2="1133.9" stroke="#555555" stroke-width="4.5"/>
<line x1="860.3" y1="1159.4" x2="860.3" y2="1148.9" stroke="#555555" stroke-width="2.4"/>
<line x1="918.2" y1="1159.4" x2="918.2" y2="1148.9" stroke="#555555" stroke-width="2.4"/>
<line x1="976.1" y1="1159.4" x2="976.1" y2="1148.9" stroke="#555555" stroke-width="2.4"/>
<line x1="1033.9" y1="1159.4" x2="1033.9" y2="1133.9" stroke="#555555" stroke-width="4.5"/>
<line x1="1091.8" y1="1159.4" x2="1091.8" y2="1148.9" stroke="#555555" stroke-width="2.4"/>
<line x1="1149.6" y1="1159.4" x2="1149.6" y2="1148.9" stroke="#555555" stroke-width="2.4"/>
<line x1="1207.5" y1="1159.4" x2="1207.5" y2="1148.9" stroke="#555555" stroke-width="2.4"/>
<line x1="1265.4" y1="1159.4" x2="1265.4" y2="1133.9" stroke="#555555" stroke-width="4.5"/>
<line x1="1323.2" y1="1159.4" x2="1323.2" y2="1148.9" stroke="#555555" stroke-width="2.4"/>
<line x1="1381.1" y1="1159.4" x2="1381.1" y2="1148.9" stroke="#555555" stroke-width="2.4"/>
<line x1="1438.9" y1="1159.4" x2="1438.9" y2="1148.9" stroke="#555555" stroke-width="2.4"/>
<line x1="1496.8" y1="1159.4" x2="1496.8" y2="1133.9" stroke="#555555" stroke-width="4.5"/>
<line x1="1554.7" y1="1159.4" x2="1554.7" y2="1148.9" stroke="#555555" stroke-width="2.4"/>
<line x1="1612.5" y1="1159.4" x2="1612.5" y2="1148.9" stroke="#555555" stroke-width="2.4"/>
<line x1="1670.4" y1="1159.4" x2="1670.4" y2="1148.9" stroke="#555555" stroke-width="2.4"/>
<line x1="1728.3" y1="1159.4" x2="1728.3" y2="1133.9" stroke="#555555" stroke-width="4.5"/>
<line x1="1786.1" y1="1159.4" x2="1786.1" y2="1148.9" stroke="#555555" stroke-width="2.4"/>
<line x1="1844" y1="1159.4" x2="1844" y2="1148.9" stroke="#555555" stroke-width="2.4"/>
<line x1="1901.8" y1="1159.4" x2="1901.8" y2="1148.9" stroke="#555555" stroke-width="2.4"/>
<line x1="1959.7" y1="1159.4" x2="1959.7" y2="1133.9" stroke="#555555" stroke-width="4.5"/>
<line x1="166" y1="1100.5" x2="155.5" y2="1100.5" stroke="#555555" stroke-width="2.2"/>
<line x1="166" y1="1016.3" x2="155.5" y2="1016.3" stroke="#555555" stroke-width="2.2"/>
<line x1="166" y1="932.1" x2="155.5" y2="932.1" stroke="#555555" stroke-width="2.2"/>
<line x1="166" y1="847.9" x2="155.5" y2="847.9" stroke="#555555" stroke-width="2.2"/>
<line x1="166" y1="763.8" x2="155.5" y2="763.8" stroke="#555555" stroke-width="2.2"/>
<line x1="166" y1="679.6" x2="155.5" y2="679.6" stroke="#555555" stroke-width="2.2"/>
<line x1="166" y1="1142.6" x2="142.5" y2="1142.6" stroke="#555555" stroke-width="4"/>
<line x1="166" y1="1058.4" x2="142.5" y2="1058.4" stroke="#555555" stroke-width="4"/>
<line x1="166" y1="974.2" x2="142.5" y2="974.2" stroke="#555555" stroke-width="4"/>
<line x1="166" y1="890" x2="142.5" y2="890" stroke="#555555" stroke-width="4"/>
<line x1="166" y1="805.9" x2="142.5" y2="805.9" stroke="#555555" stroke-width="4"/>
<line x1="166" y1="721.7" x2="142.5" y2="721.7" stroke="#555555" stroke-width="4"/>
<line x1="166" y1="637.5" x2="142.5" y2="637.5" stroke="#555555" stroke-width="4"/>
<rect x="166" y="637.5" width="1793.7" height="521.9" fill="none" stroke="#000" stroke-width="2.5"/>
<text x="339.6" y="1193.7" text-anchor="middle">−1200</text>
<text x="571" y="1193.7" text-anchor="middle">−800</text>
<text x="802.5" y="1193.7" text-anchor="middle">−400</text>
<text x="1033.9" y="1193.7" text-anchor="middle">0</text>
<text x="1265.4" y="1193.7" text-anchor="middle">400</text>
<text x="1496.8" y="1193.7" text-anchor="middle">800</text>
<text x="1728.3" y="1193.7" text-anchor="middle">1200</text>
<text x="1959.7" y="1193.7" text-anchor="middle">1600</text>
<text x="133.3" y="1154.5" text-anchor="end">−15</text>
<text x="133.3" y="1070.3" text-anchor="end">−10</text>
<text x="133.3" y="986.1" text-anchor="end">−5</text>
<text x="133.3" y="901.9" text-anchor="end">0</text>
<text x="133.3" y="817.8" text-anchor="end">5</text>
<text x="133.3" y="733.6" text-anchor="end">10</text>
<text x="133.3" y="649.4" text-anchor="end">15</text>
</g>
<g font-family="'DejaVu Sans', 'Liberation Sans', sans-serif" font-size="38.6" fill="#000">
<text x="1061" y="599.2" text-anchor="middle"><tspan font-style="italic">T</tspan>  (pc)</text>
<text x="1061" y="1236.8" text-anchor="middle"><tspan font-style="italic">T</tspan> (pc)</text>
<text transform="translate(29.5,264) rotate(-90)" text-anchor="middle"><tspan font-style="italic">Z</tspan> (pc)</text>
<text transform="translate(49.8,898.5) rotate(-90)" text-anchor="middle"><tspan font-style="italic">V</tspan><tspan font-style="italic" font-size="27" dy="8">Z</tspan><tspan dy="-8"> (km/s)</tspan></text>
</g>
<rect x="184.5" y="19.3" width="238.7" height="119.3" rx="7" fill="#fff" fill-opacity="0.8" stroke="#cccccc" stroke-width="1.4"/>
<circle cx="236.3" cy="52.5" r="5.9" fill="#808080"/>
<circle cx="236.3" cy="106.7" r="8.4" fill="none" stroke="#ff0000" stroke-width="2.9"/>
<g font-family="'DejaVu Sans', 'Liberation Sans', sans-serif" font-size="37.6" fill="#000"><text x="303.3" y="62.3">YSO</text><text x="303.3" y="116.2">Cloud</text></g>
<rect x="183.8" y="654.8" width="374.4" height="114.4" rx="7" fill="#fff" fill-opacity="0.8" stroke="#cccccc" stroke-width="1.4"/>
<g stroke="#808080" stroke-width="3" fill="none"><path d="M214.9 684H251.3M233.1 665.8V702.2M214.9 676v16M251.3 676v16M225.1 665.8h16M225.1 702.2h16"/></g><circle cx="233.1" cy="684" r="5.8" fill="#808080"/>
<g stroke="#ff45ff" stroke-width="3" fill="none"><path d="M214.9 735.1H251.3M233.1 716.9V753.3M214.9 727.1v16M251.3 727.1v16M225.1 716.9h16M225.1 753.3h16"/></g><circle cx="233.1" cy="735.1" r="5.8" fill="#ff45ff"/>
<g font-family="'DejaVu Sans', 'Liberation Sans', sans-serif" font-size="35.6" fill="#000"><text x="297" y="696.1"><tspan font-style="italic">V</tspan><tspan font-style="italic" font-size="25" dy="6">Z</tspan><tspan dy="-6"> without RV</tspan></text><text x="297" y="747.4"><tspan font-style="italic">V</tspan><tspan font-style="italic" font-size="25" dy="6">Z</tspan><tspan dy="-6"> with RV</tspan></text></g>
</svg>
</body></html>
